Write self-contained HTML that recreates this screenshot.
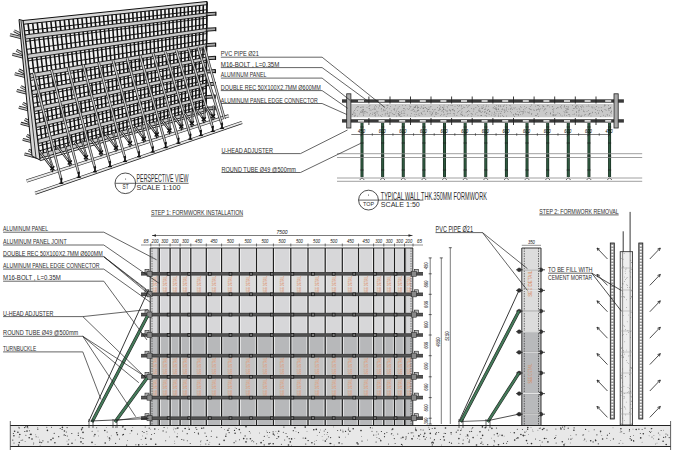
<!DOCTYPE html>
<html><head><meta charset="utf-8"><style>
html,body{margin:0;padding:0;background:#fff;width:676px;height:453px;overflow:hidden}
svg{display:block}
text{font-family:"Liberation Sans",sans-serif}
</style></head><body>
<svg width="676" height="453" viewBox="0 0 676 453">
<rect width="676" height="453" fill="#fff"/>
<rect x="10.30" y="425.00" width="660.30" height="21.60" fill="#e8e8e8" stroke="none" stroke-width="0.8" />
<line x1="10.30" y1="425.50" x2="670.60" y2="425.50" stroke="#222" stroke-width="1.0" />
<line x1="10.30" y1="446.50" x2="670.60" y2="446.50" stroke="#222" stroke-width="1.0" />
<circle cx="224.4" cy="429.6" r="0.4" fill="#333"/>
<circle cx="58.7" cy="436.7" r="0.6" fill="#333"/>
<circle cx="395.1" cy="443.5" r="0.5" fill="#333"/>
<circle cx="35.7" cy="434.8" r="0.4" fill="#333"/>
<circle cx="169.6" cy="436.9" r="0.4" fill="#333"/>
<circle cx="555.9" cy="429.1" r="0.5" fill="#333"/>
<circle cx="426.6" cy="437.5" r="0.4" fill="#333"/>
<circle cx="391.3" cy="434.1" r="0.5" fill="#333"/>
<circle cx="41.7" cy="442.6" r="0.6" fill="#333"/>
<circle cx="287.2" cy="436.7" r="0.6" fill="#333"/>
<circle cx="380.2" cy="439.3" r="0.4" fill="#333"/>
<circle cx="394.3" cy="438.6" r="0.6" fill="#333"/>
<circle cx="75.2" cy="439.9" r="0.4" fill="#333"/>
<circle cx="418.9" cy="435.9" r="0.8" fill="#333"/>
<circle cx="523.2" cy="435.4" r="0.8" fill="#333"/>
<circle cx="249.3" cy="431.4" r="0.5" fill="#333"/>
<circle cx="471.6" cy="431.3" r="0.6" fill="#333"/>
<circle cx="357.1" cy="442.9" r="0.8" fill="#333"/>
<circle cx="200.8" cy="444.8" r="0.4" fill="#333"/>
<circle cx="348.4" cy="429.8" r="0.6" fill="#333"/>
<circle cx="111.2" cy="435.8" r="0.4" fill="#333"/>
<circle cx="645.0" cy="428.2" r="0.6" fill="#333"/>
<circle cx="235.1" cy="433.2" r="0.8" fill="#333"/>
<circle cx="393.2" cy="435.2" r="0.4" fill="#333"/>
<circle cx="633.5" cy="435.5" r="0.4" fill="#333"/>
<circle cx="51.0" cy="439.7" r="0.8" fill="#333"/>
<circle cx="198.5" cy="433.9" r="0.6" fill="#333"/>
<circle cx="25.9" cy="435.3" r="0.5" fill="#333"/>
<circle cx="413.6" cy="435.9" r="0.5" fill="#333"/>
<circle cx="517.3" cy="429.2" r="0.5" fill="#333"/>
<circle cx="273.2" cy="443.7" r="0.8" fill="#333"/>
<circle cx="64.1" cy="435.1" r="0.6" fill="#333"/>
<circle cx="593.1" cy="441.9" r="0.6" fill="#333"/>
<circle cx="476.5" cy="445.0" r="0.8" fill="#333"/>
<circle cx="642.1" cy="429.6" r="0.5" fill="#333"/>
<circle cx="110.7" cy="438.9" r="0.4" fill="#333"/>
<circle cx="330.6" cy="437.6" r="0.6" fill="#333"/>
<circle cx="196.8" cy="429.5" r="0.6" fill="#333"/>
<circle cx="412.9" cy="432.7" r="0.5" fill="#333"/>
<circle cx="466.0" cy="436.3" r="0.4" fill="#333"/>
<circle cx="311.9" cy="442.8" r="0.8" fill="#333"/>
<circle cx="273.3" cy="434.1" r="0.8" fill="#333"/>
<circle cx="429.0" cy="427.9" r="0.4" fill="#333"/>
<circle cx="659.9" cy="434.9" r="0.4" fill="#333"/>
<circle cx="235.1" cy="427.8" r="0.4" fill="#333"/>
<circle cx="384.5" cy="436.7" r="0.6" fill="#333"/>
<circle cx="415.5" cy="428.1" r="0.5" fill="#333"/>
<circle cx="415.7" cy="429.5" r="0.6" fill="#333"/>
<circle cx="640.7" cy="437.9" r="0.8" fill="#333"/>
<circle cx="92.0" cy="442.4" r="0.8" fill="#333"/>
<circle cx="327.6" cy="432.5" r="0.5" fill="#333"/>
<circle cx="78.3" cy="433.1" r="0.6" fill="#333"/>
<circle cx="326.4" cy="439.5" r="0.4" fill="#333"/>
<circle cx="146.2" cy="444.3" r="0.6" fill="#333"/>
<circle cx="107.6" cy="436.8" r="0.4" fill="#333"/>
<circle cx="510.6" cy="432.3" r="0.4" fill="#333"/>
<circle cx="469.8" cy="431.6" r="0.6" fill="#333"/>
<circle cx="609.5" cy="433.3" r="0.5" fill="#333"/>
<circle cx="362.0" cy="441.1" r="0.6" fill="#333"/>
<circle cx="430.4" cy="438.1" r="0.5" fill="#333"/>
<circle cx="542.2" cy="441.9" r="0.5" fill="#333"/>
<circle cx="142.7" cy="435.9" r="0.4" fill="#333"/>
<circle cx="663.1" cy="441.3" r="0.8" fill="#333"/>
<circle cx="181.8" cy="439.5" r="0.6" fill="#333"/>
<circle cx="305.7" cy="444.0" r="0.6" fill="#333"/>
<circle cx="640.3" cy="433.5" r="0.5" fill="#333"/>
<circle cx="78.3" cy="435.4" r="0.6" fill="#333"/>
<circle cx="145.7" cy="438.3" r="0.4" fill="#333"/>
<circle cx="327.0" cy="438.8" r="0.4" fill="#333"/>
<circle cx="561.0" cy="429.0" r="0.8" fill="#333"/>
<circle cx="526.5" cy="440.6" r="0.8" fill="#333"/>
<circle cx="596.9" cy="434.8" r="0.6" fill="#333"/>
<circle cx="68.2" cy="444.2" r="0.8" fill="#333"/>
<circle cx="316.2" cy="440.5" r="0.4" fill="#333"/>
<circle cx="488.6" cy="429.9" r="0.5" fill="#333"/>
<circle cx="29.2" cy="437.7" r="0.8" fill="#333"/>
<circle cx="542.5" cy="429.5" r="0.8" fill="#333"/>
<circle cx="444.1" cy="433.2" r="0.5" fill="#333"/>
<circle cx="25.1" cy="441.5" r="0.4" fill="#333"/>
<circle cx="358.0" cy="444.0" r="0.8" fill="#333"/>
<circle cx="661.1" cy="430.4" r="0.5" fill="#333"/>
<circle cx="29.4" cy="430.7" r="0.5" fill="#333"/>
<circle cx="514.3" cy="432.8" r="0.8" fill="#333"/>
<circle cx="560.7" cy="427.9" r="0.6" fill="#333"/>
<circle cx="602.6" cy="439.0" r="0.8" fill="#333"/>
<circle cx="556.1" cy="443.0" r="0.5" fill="#333"/>
<circle cx="361.5" cy="436.4" r="0.4" fill="#333"/>
<circle cx="586.2" cy="441.1" r="0.4" fill="#333"/>
<circle cx="522.4" cy="429.6" r="0.5" fill="#333"/>
<circle cx="323.0" cy="440.1" r="0.4" fill="#333"/>
<circle cx="225.8" cy="436.3" r="0.8" fill="#333"/>
<circle cx="527.8" cy="428.8" r="0.4" fill="#333"/>
<circle cx="174.8" cy="431.9" r="0.4" fill="#333"/>
<circle cx="345.6" cy="437.1" r="0.4" fill="#333"/>
<circle cx="303.1" cy="438.1" r="0.5" fill="#333"/>
<circle cx="467.5" cy="435.1" r="0.8" fill="#333"/>
<circle cx="345.6" cy="431.4" r="0.6" fill="#333"/>
<circle cx="619.1" cy="443.2" r="0.5" fill="#333"/>
<circle cx="564.6" cy="429.3" r="0.4" fill="#333"/>
<circle cx="269.6" cy="432.6" r="0.5" fill="#333"/>
<circle cx="293.3" cy="430.7" r="0.6" fill="#333"/>
<circle cx="527.6" cy="443.3" r="0.5" fill="#333"/>
<circle cx="630.1" cy="438.6" r="0.6" fill="#333"/>
<circle cx="105.2" cy="443.0" r="0.8" fill="#333"/>
<circle cx="155.7" cy="444.3" r="0.8" fill="#333"/>
<circle cx="594.2" cy="429.8" r="0.5" fill="#333"/>
<circle cx="117.4" cy="434.7" r="0.8" fill="#333"/>
<circle cx="234.5" cy="430.4" r="0.6" fill="#333"/>
<circle cx="71.8" cy="433.5" r="0.6" fill="#333"/>
<circle cx="376.1" cy="434.9" r="0.4" fill="#333"/>
<circle cx="264.3" cy="436.3" r="0.6" fill="#333"/>
<circle cx="348.6" cy="428.0" r="0.5" fill="#333"/>
<circle cx="651.3" cy="428.7" r="0.6" fill="#333"/>
<circle cx="190.2" cy="443.5" r="0.5" fill="#333"/>
<circle cx="189.2" cy="429.2" r="0.8" fill="#333"/>
<circle cx="570.9" cy="439.2" r="0.6" fill="#333"/>
<circle cx="278.5" cy="436.7" r="0.8" fill="#333"/>
<circle cx="472.6" cy="428.4" r="0.4" fill="#333"/>
<circle cx="537.9" cy="430.2" r="0.4" fill="#333"/>
<circle cx="188.2" cy="427.1" r="0.4" fill="#333"/>
<circle cx="539.3" cy="428.3" r="0.5" fill="#333"/>
<circle cx="54.9" cy="442.7" r="0.8" fill="#333"/>
<circle cx="18.6" cy="445.1" r="0.8" fill="#333"/>
<circle cx="621.7" cy="431.7" r="0.5" fill="#333"/>
<circle cx="39.5" cy="439.9" r="0.4" fill="#333"/>
<circle cx="649.7" cy="431.6" r="0.5" fill="#333"/>
<circle cx="144.0" cy="432.5" r="0.6" fill="#333"/>
<circle cx="361.0" cy="430.6" r="0.8" fill="#333"/>
<circle cx="340.6" cy="430.1" r="0.6" fill="#333"/>
<circle cx="540.6" cy="445.1" r="0.4" fill="#333"/>
<circle cx="21.1" cy="440.3" r="0.5" fill="#333"/>
<circle cx="349.9" cy="431.3" r="0.8" fill="#333"/>
<circle cx="81.0" cy="441.9" r="0.8" fill="#333"/>
<circle cx="443.6" cy="436.8" r="0.8" fill="#333"/>
<circle cx="650.4" cy="432.5" r="0.5" fill="#333"/>
<circle cx="658.4" cy="433.1" r="0.5" fill="#333"/>
<circle cx="277.7" cy="433.2" r="0.4" fill="#333"/>
<circle cx="562.6" cy="427.1" r="0.6" fill="#333"/>
<circle cx="294.9" cy="427.8" r="0.8" fill="#333"/>
<circle cx="584.7" cy="439.1" r="0.6" fill="#333"/>
<circle cx="405.6" cy="439.5" r="0.4" fill="#333"/>
<circle cx="313.8" cy="429.7" r="0.8" fill="#333"/>
<circle cx="13.4" cy="433.5" r="0.6" fill="#333"/>
<circle cx="652.0" cy="436.9" r="0.5" fill="#333"/>
<circle cx="33.7" cy="443.0" r="0.5" fill="#333"/>
<circle cx="246.0" cy="426.8" r="0.8" fill="#333"/>
<circle cx="66.3" cy="431.9" r="0.5" fill="#333"/>
<circle cx="174.6" cy="441.1" r="0.4" fill="#333"/>
<circle cx="185.1" cy="428.5" r="0.8" fill="#333"/>
<circle cx="397.7" cy="434.0" r="0.6" fill="#333"/>
<circle cx="211.5" cy="431.1" r="0.5" fill="#333"/>
<circle cx="444.3" cy="440.0" r="0.8" fill="#333"/>
<circle cx="514.7" cy="440.1" r="0.8" fill="#333"/>
<circle cx="109.5" cy="440.1" r="0.5" fill="#333"/>
<circle cx="39.9" cy="442.2" r="0.8" fill="#333"/>
<circle cx="494.6" cy="441.7" r="0.5" fill="#333"/>
<circle cx="610.6" cy="440.7" r="0.4" fill="#333"/>
<circle cx="555.6" cy="437.5" r="0.5" fill="#333"/>
<circle cx="67.1" cy="427.6" r="0.6" fill="#333"/>
<circle cx="643.3" cy="433.7" r="0.8" fill="#333"/>
<circle cx="379.1" cy="438.4" r="0.5" fill="#333"/>
<circle cx="333.4" cy="426.9" r="0.4" fill="#333"/>
<circle cx="504.1" cy="436.1" r="0.4" fill="#333"/>
<circle cx="445.5" cy="428.0" r="0.8" fill="#333"/>
<circle cx="177.2" cy="428.2" r="0.6" fill="#333"/>
<circle cx="165.7" cy="440.7" r="0.5" fill="#333"/>
<circle cx="498.5" cy="444.8" r="0.8" fill="#333"/>
<circle cx="568.2" cy="428.2" r="0.6" fill="#333"/>
<circle cx="516.4" cy="438.2" r="0.5" fill="#333"/>
<circle cx="62.1" cy="429.5" r="0.6" fill="#333"/>
<circle cx="440.4" cy="439.5" r="0.5" fill="#333"/>
<circle cx="19.2" cy="427.9" r="0.6" fill="#333"/>
<circle cx="651.9" cy="428.6" r="0.5" fill="#333"/>
<circle cx="456.3" cy="432.2" r="0.6" fill="#333"/>
<circle cx="317.2" cy="435.4" r="0.4" fill="#333"/>
<circle cx="665.6" cy="436.9" r="0.6" fill="#333"/>
<circle cx="655.6" cy="444.0" r="0.4" fill="#333"/>
<circle cx="201.8" cy="428.2" r="0.8" fill="#333"/>
<circle cx="666.0" cy="433.9" r="0.5" fill="#333"/>
<circle cx="60.2" cy="428.5" r="0.6" fill="#333"/>
<circle cx="638.9" cy="429.2" r="0.6" fill="#333"/>
<circle cx="595.4" cy="439.7" r="0.5" fill="#333"/>
<circle cx="339.1" cy="442.9" r="0.8" fill="#333"/>
<circle cx="27.4" cy="426.9" r="0.8" fill="#333"/>
<circle cx="460.2" cy="434.3" r="0.5" fill="#333"/>
<circle cx="285.3" cy="433.7" r="0.4" fill="#333"/>
<circle cx="564.7" cy="426.8" r="0.6" fill="#333"/>
<circle cx="564.0" cy="429.0" r="0.5" fill="#333"/>
<circle cx="480.9" cy="443.4" r="0.6" fill="#333"/>
<circle cx="177.9" cy="428.0" r="0.8" fill="#333"/>
<circle cx="669.2" cy="437.6" r="0.6" fill="#333"/>
<circle cx="620.8" cy="440.7" r="0.4" fill="#333"/>
<circle cx="195.9" cy="427.7" r="0.6" fill="#333"/>
<circle cx="429.4" cy="429.5" r="0.6" fill="#333"/>
<circle cx="298.5" cy="432.6" r="0.6" fill="#333"/>
<circle cx="528.4" cy="434.7" r="0.4" fill="#333"/>
<circle cx="546.1" cy="438.4" r="0.5" fill="#333"/>
<circle cx="485.2" cy="427.7" r="0.8" fill="#333"/>
<circle cx="308.1" cy="440.6" r="0.6" fill="#333"/>
<circle cx="331.0" cy="443.6" r="0.5" fill="#333"/>
<circle cx="123.5" cy="434.4" r="0.6" fill="#333"/>
<circle cx="207.2" cy="440.4" r="0.6" fill="#333"/>
<circle cx="278.7" cy="431.2" r="0.8" fill="#333"/>
<circle cx="378.3" cy="434.1" r="0.5" fill="#333"/>
<circle cx="434.9" cy="428.2" r="0.8" fill="#333"/>
<circle cx="373.7" cy="435.1" r="0.6" fill="#333"/>
<circle cx="667.7" cy="435.1" r="0.5" fill="#333"/>
<circle cx="372.0" cy="431.3" r="0.5" fill="#333"/>
<circle cx="236.3" cy="428.5" r="0.5" fill="#333"/>
<circle cx="253.7" cy="441.7" r="0.5" fill="#333"/>
<circle cx="595.7" cy="440.6" r="0.8" fill="#333"/>
<circle cx="263.3" cy="440.5" r="0.5" fill="#333"/>
<circle cx="259.4" cy="433.0" r="0.4" fill="#333"/>
<circle cx="339.3" cy="437.4" r="0.6" fill="#333"/>
<circle cx="94.0" cy="436.1" r="0.5" fill="#333"/>
<circle cx="72.0" cy="443.3" r="0.8" fill="#333"/>
<circle cx="274.4" cy="435.0" r="0.6" fill="#333"/>
<circle cx="570.3" cy="442.9" r="0.4" fill="#333"/>
<circle cx="94.9" cy="434.6" r="0.8" fill="#333"/>
<circle cx="649.1" cy="435.8" r="0.4" fill="#333"/>
<circle cx="269.0" cy="443.9" r="0.8" fill="#333"/>
<circle cx="651.7" cy="431.4" r="0.4" fill="#333"/>
<circle cx="158.5" cy="429.6" r="0.4" fill="#333"/>
<circle cx="631.4" cy="440.1" r="0.8" fill="#333"/>
<circle cx="67.0" cy="441.1" r="0.4" fill="#333"/>
<circle cx="526.5" cy="431.1" r="0.4" fill="#333"/>
<circle cx="436.4" cy="432.4" r="0.5" fill="#333"/>
<circle cx="423.8" cy="436.5" r="0.8" fill="#333"/>
<circle cx="471.4" cy="428.9" r="0.4" fill="#333"/>
<circle cx="208.9" cy="444.2" r="0.5" fill="#333"/>
<circle cx="266.7" cy="430.9" r="0.4" fill="#333"/>
<circle cx="17.9" cy="432.3" r="0.8" fill="#333"/>
<circle cx="194.6" cy="432.6" r="0.5" fill="#333"/>
<circle cx="324.2" cy="431.1" r="0.5" fill="#333"/>
<circle cx="30.3" cy="434.4" r="0.6" fill="#333"/>
<circle cx="47.4" cy="430.4" r="0.8" fill="#333"/>
<circle cx="64.4" cy="431.0" r="0.8" fill="#333"/>
<circle cx="620.7" cy="431.0" r="0.4" fill="#333"/>
<circle cx="469.5" cy="440.0" r="0.6" fill="#333"/>
<circle cx="460.8" cy="430.4" r="0.6" fill="#333"/>
<circle cx="498.1" cy="436.1" r="0.5" fill="#333"/>
<circle cx="337.7" cy="430.5" r="0.5" fill="#333"/>
<circle cx="163.1" cy="430.9" r="0.6" fill="#333"/>
<circle cx="82.8" cy="438.3" r="0.5" fill="#333"/>
<circle cx="601.8" cy="435.7" r="0.4" fill="#333"/>
<circle cx="636.2" cy="429.5" r="0.8" fill="#333"/>
<circle cx="46.8" cy="427.2" r="0.5" fill="#333"/>
<circle cx="284.7" cy="439.9" r="0.5" fill="#333"/>
<circle cx="270.2" cy="443.3" r="0.6" fill="#333"/>
<circle cx="493.9" cy="445.2" r="0.5" fill="#333"/>
<circle cx="228.0" cy="430.2" r="0.8" fill="#333"/>
<circle cx="32.0" cy="439.0" r="0.8" fill="#333"/>
<circle cx="564.0" cy="444.9" r="0.8" fill="#333"/>
<circle cx="122.5" cy="426.9" r="0.6" fill="#333"/>
<circle cx="64.2" cy="434.5" r="0.4" fill="#333"/>
<circle cx="380.8" cy="440.8" r="0.8" fill="#333"/>
<circle cx="246.0" cy="441.9" r="0.8" fill="#333"/>
<circle cx="68.8" cy="439.8" r="0.5" fill="#333"/>
<circle cx="256.6" cy="443.7" r="0.5" fill="#333"/>
<circle cx="224.1" cy="440.4" r="0.8" fill="#333"/>
<circle cx="31.0" cy="434.4" r="0.8" fill="#333"/>
<circle cx="37.8" cy="427.4" r="0.4" fill="#333"/>
<circle cx="540.4" cy="427.9" r="0.5" fill="#333"/>
<circle cx="503.5" cy="443.3" r="0.6" fill="#333"/>
<circle cx="250.2" cy="433.0" r="0.4" fill="#333"/>
<circle cx="183.8" cy="440.0" r="0.6" fill="#333"/>
<circle cx="620.1" cy="432.3" r="0.4" fill="#333"/>
<circle cx="27.0" cy="431.1" r="0.8" fill="#333"/>
<circle cx="482.6" cy="435.4" r="0.8" fill="#333"/>
<circle cx="531.5" cy="443.6" r="0.8" fill="#333"/>
<circle cx="98.5" cy="435.9" r="0.4" fill="#333"/>
<circle cx="539.9" cy="440.4" r="0.5" fill="#333"/>
<circle cx="411.2" cy="432.8" r="0.6" fill="#333"/>
<circle cx="314.7" cy="441.2" r="0.4" fill="#333"/>
<circle cx="348.3" cy="434.0" r="0.5" fill="#333"/>
<circle cx="174.0" cy="428.0" r="0.4" fill="#333"/>
<circle cx="328.4" cy="436.8" r="0.5" fill="#333"/>
<circle cx="657.0" cy="443.1" r="0.4" fill="#333"/>
<circle cx="185.6" cy="428.3" r="0.4" fill="#333"/>
<circle cx="288.5" cy="445.0" r="0.8" fill="#333"/>
<circle cx="125.1" cy="429.2" r="0.8" fill="#333"/>
<circle cx="419.8" cy="439.2" r="0.4" fill="#333"/>
<circle cx="524.9" cy="432.2" r="0.6" fill="#333"/>
<circle cx="384.6" cy="433.7" r="0.6" fill="#333"/>
<circle cx="142.3" cy="431.4" r="0.5" fill="#333"/>
<circle cx="166.2" cy="432.0" r="0.5" fill="#333"/>
<circle cx="226.1" cy="434.1" r="0.5" fill="#333"/>
<circle cx="345.3" cy="431.1" r="0.4" fill="#333"/>
<circle cx="441.5" cy="445.0" r="0.4" fill="#333"/>
<circle cx="14.0" cy="443.0" r="0.5" fill="#333"/>
<circle cx="564.9" cy="443.6" r="0.4" fill="#333"/>
<circle cx="588.9" cy="431.1" r="0.4" fill="#333"/>
<circle cx="135.9" cy="444.7" r="0.5" fill="#333"/>
<circle cx="624.0" cy="433.6" r="0.5" fill="#333"/>
<circle cx="307.0" cy="431.6" r="0.4" fill="#333"/>
<circle cx="80.7" cy="437.8" r="0.6" fill="#333"/>
<circle cx="154.4" cy="433.6" r="0.5" fill="#333"/>
<circle cx="40.1" cy="445.2" r="0.4" fill="#333"/>
<circle cx="406.0" cy="438.8" r="0.5" fill="#333"/>
<circle cx="547.9" cy="441.9" r="0.8" fill="#333"/>
<circle cx="458.0" cy="430.2" r="0.6" fill="#333"/>
<circle cx="62.4" cy="427.4" r="0.8" fill="#333"/>
<circle cx="372.2" cy="428.0" r="0.4" fill="#333"/>
<circle cx="535.5" cy="439.0" r="0.5" fill="#333"/>
<circle cx="432.2" cy="428.5" r="0.5" fill="#333"/>
<circle cx="273.1" cy="431.8" r="0.6" fill="#333"/>
<circle cx="451.1" cy="434.5" r="0.4" fill="#333"/>
<circle cx="216.8" cy="437.2" r="0.6" fill="#333"/>
<circle cx="283.9" cy="427.1" r="0.6" fill="#333"/>
<circle cx="435.7" cy="434.0" r="0.8" fill="#333"/>
<circle cx="145.2" cy="426.9" r="0.5" fill="#333"/>
<circle cx="290.3" cy="441.9" r="0.8" fill="#333"/>
<circle cx="391.8" cy="433.5" r="0.5" fill="#333"/>
<circle cx="96.7" cy="427.8" r="0.5" fill="#333"/>
<circle cx="433.2" cy="443.5" r="0.4" fill="#333"/>
<circle cx="388.5" cy="443.9" r="0.5" fill="#333"/>
<circle cx="107.1" cy="432.0" r="0.5" fill="#333"/>
<circle cx="620.9" cy="428.8" r="0.8" fill="#333"/>
<circle cx="507.6" cy="441.4" r="0.5" fill="#333"/>
<circle cx="209.8" cy="442.2" r="0.4" fill="#333"/>
<circle cx="653.9" cy="435.7" r="0.4" fill="#333"/>
<circle cx="411.4" cy="438.5" r="0.4" fill="#333"/>
<circle cx="606.9" cy="438.2" r="0.5" fill="#333"/>
<circle cx="433.0" cy="442.6" r="0.8" fill="#333"/>
<circle cx="416.1" cy="430.4" r="0.8" fill="#333"/>
<circle cx="131.6" cy="430.8" r="0.8" fill="#333"/>
<circle cx="629.5" cy="429.7" r="0.6" fill="#333"/>
<circle cx="92.1" cy="431.3" r="0.5" fill="#333"/>
<circle cx="38.1" cy="437.1" r="0.4" fill="#333"/>
<circle cx="451.1" cy="432.8" r="0.8" fill="#333"/>
<circle cx="406.1" cy="436.9" r="0.6" fill="#333"/>
<circle cx="438.7" cy="432.5" r="0.5" fill="#333"/>
<circle cx="291.6" cy="438.9" r="0.8" fill="#333"/>
<circle cx="342.9" cy="430.1" r="0.4" fill="#333"/>
<circle cx="418.8" cy="435.8" r="0.5" fill="#333"/>
<circle cx="305.5" cy="438.2" r="0.8" fill="#333"/>
<circle cx="562.3" cy="441.7" r="0.8" fill="#333"/>
<circle cx="81.6" cy="429.2" r="0.8" fill="#333"/>
<circle cx="251.8" cy="441.6" r="0.4" fill="#333"/>
<circle cx="37.8" cy="429.2" r="0.6" fill="#333"/>
<circle cx="523.5" cy="436.2" r="0.4" fill="#333"/>
<circle cx="506.6" cy="443.3" r="0.5" fill="#333"/>
<circle cx="28.0" cy="428.0" r="0.4" fill="#333"/>
<circle cx="138.7" cy="444.9" r="0.8" fill="#333"/>
<circle cx="200.7" cy="441.7" r="0.5" fill="#333"/>
<circle cx="463.2" cy="440.1" r="0.5" fill="#333"/>
<circle cx="54.2" cy="433.3" r="0.6" fill="#333"/>
<circle cx="115.6" cy="443.3" r="0.6" fill="#333"/>
<circle cx="607.4" cy="435.2" r="0.6" fill="#333"/>
<circle cx="342.0" cy="443.7" r="0.5" fill="#333"/>
<circle cx="401.1" cy="438.1" r="0.5" fill="#333"/>
<circle cx="221.3" cy="427.5" r="0.5" fill="#333"/>
<circle cx="276.9" cy="438.5" r="0.6" fill="#333"/>
<circle cx="458.9" cy="443.3" r="0.5" fill="#333"/>
<circle cx="533.0" cy="431.7" r="0.4" fill="#333"/>
<circle cx="430.3" cy="433.4" r="0.8" fill="#333"/>
<circle cx="376.9" cy="437.5" r="0.4" fill="#333"/>
<circle cx="177.1" cy="436.7" r="0.8" fill="#333"/>
<circle cx="497.3" cy="433.6" r="0.8" fill="#333"/>
<circle cx="663.7" cy="437.4" r="0.6" fill="#333"/>
<circle cx="229.0" cy="428.3" r="0.5" fill="#333"/>
<circle cx="127.5" cy="440.5" r="0.4" fill="#333"/>
<circle cx="206.3" cy="436.3" r="0.6" fill="#333"/>
<circle cx="432.3" cy="444.9" r="0.6" fill="#333"/>
<circle cx="494.1" cy="440.5" r="0.5" fill="#333"/>
<circle cx="109.4" cy="438.1" r="0.8" fill="#333"/>
<circle cx="286.3" cy="433.5" r="0.4" fill="#333"/>
<circle cx="98.0" cy="431.0" r="0.4" fill="#333"/>
<circle cx="25.7" cy="426.8" r="0.6" fill="#333"/>
<circle cx="211.2" cy="436.4" r="0.5" fill="#333"/>
<circle cx="283.3" cy="432.3" r="0.5" fill="#333"/>
<circle cx="145.6" cy="438.3" r="0.8" fill="#333"/>
<circle cx="115.5" cy="427.1" r="0.5" fill="#333"/>
<circle cx="477.2" cy="435.1" r="0.4" fill="#333"/>
<circle cx="431.6" cy="442.8" r="0.6" fill="#333"/>
<circle cx="275.9" cy="431.7" r="0.4" fill="#333"/>
<circle cx="48.0" cy="441.9" r="0.6" fill="#333"/>
<circle cx="402.9" cy="437.4" r="0.8" fill="#333"/>
<circle cx="174.8" cy="443.4" r="0.4" fill="#333"/>
<circle cx="51.5" cy="427.3" r="0.5" fill="#333"/>
<circle cx="167.6" cy="427.9" r="0.4" fill="#333"/>
<circle cx="19.1" cy="436.9" r="0.5" fill="#333"/>
<circle cx="104.8" cy="430.5" r="0.8" fill="#333"/>
<circle cx="547.0" cy="430.0" r="0.6" fill="#333"/>
<circle cx="53.0" cy="438.3" r="0.8" fill="#333"/>
<circle cx="482.4" cy="426.9" r="0.8" fill="#333"/>
<circle cx="502.1" cy="435.4" r="0.8" fill="#333"/>
<circle cx="126.6" cy="445.1" r="0.6" fill="#333"/>
<circle cx="164.1" cy="427.5" r="0.6" fill="#333"/>
<circle cx="598.3" cy="443.8" r="0.6" fill="#333"/>
<circle cx="480.0" cy="431.7" r="0.8" fill="#333"/>
<circle cx="462.9" cy="443.7" r="0.6" fill="#333"/>
<circle cx="205.8" cy="443.9" r="0.5" fill="#333"/>
<circle cx="67.3" cy="436.1" r="0.5" fill="#333"/>
<circle cx="182.6" cy="431.1" r="0.5" fill="#333"/>
<circle cx="633.6" cy="440.5" r="0.6" fill="#333"/>
<circle cx="137.5" cy="434.0" r="0.5" fill="#333"/>
<circle cx="261.1" cy="442.5" r="0.8" fill="#333"/>
<circle cx="322.1" cy="436.6" r="0.4" fill="#333"/>
<circle cx="576.1" cy="434.8" r="0.5" fill="#333"/>
<circle cx="386.9" cy="432.5" r="0.5" fill="#333"/>
<circle cx="269.0" cy="437.6" r="0.5" fill="#333"/>
<circle cx="106.3" cy="427.3" r="0.4" fill="#333"/>
<circle cx="420.9" cy="429.8" r="0.5" fill="#333"/>
<circle cx="472.8" cy="427.4" r="0.5" fill="#333"/>
<circle cx="467.4" cy="438.5" r="0.4" fill="#333"/>
<circle cx="496.5" cy="428.0" r="0.6" fill="#333"/>
<circle cx="142.3" cy="444.4" r="0.4" fill="#333"/>
<circle cx="590.7" cy="440.7" r="0.8" fill="#333"/>
<circle cx="81.6" cy="430.6" r="0.4" fill="#333"/>
<circle cx="33.3" cy="444.3" r="0.4" fill="#333"/>
<circle cx="554.7" cy="438.4" r="0.6" fill="#333"/>
<circle cx="325.4" cy="429.2" r="0.5" fill="#333"/>
<circle cx="205.0" cy="433.0" r="0.6" fill="#333"/>
<circle cx="24.8" cy="431.5" r="0.6" fill="#333"/>
<circle cx="42.9" cy="440.8" r="0.6" fill="#333"/>
<circle cx="517.9" cy="437.9" r="0.8" fill="#333"/>
<circle cx="572.1" cy="438.2" r="0.4" fill="#333"/>
<circle cx="531.0" cy="427.4" r="0.4" fill="#333"/>
<circle cx="239.5" cy="439.8" r="0.5" fill="#333"/>
<circle cx="481.8" cy="442.0" r="0.6" fill="#333"/>
<circle cx="123.3" cy="426.8" r="0.5" fill="#333"/>
<circle cx="201.0" cy="440.6" r="0.4" fill="#333"/>
<circle cx="13.9" cy="435.8" r="0.8" fill="#333"/>
<circle cx="469.1" cy="442.0" r="0.8" fill="#333"/>
<circle cx="401.5" cy="444.4" r="0.6" fill="#333"/>
<circle cx="391.9" cy="429.7" r="0.5" fill="#333"/>
<circle cx="629.3" cy="431.1" r="0.5" fill="#333"/>
<circle cx="83.4" cy="438.5" r="0.4" fill="#333"/>
<circle cx="334.1" cy="445.0" r="0.4" fill="#333"/>
<circle cx="424.8" cy="433.3" r="0.8" fill="#333"/>
<circle cx="622.9" cy="443.2" r="0.4" fill="#333"/>
<circle cx="289.2" cy="438.7" r="0.6" fill="#333"/>
<circle cx="146.8" cy="431.6" r="0.5" fill="#333"/>
<circle cx="261.0" cy="443.1" r="0.5" fill="#333"/>
<circle cx="633.0" cy="429.1" r="0.4" fill="#333"/>
<circle cx="240.7" cy="432.8" r="0.5" fill="#333"/>
<circle cx="583.0" cy="435.1" r="0.6" fill="#333"/>
<circle cx="122.7" cy="434.9" r="0.6" fill="#333"/>
<circle cx="392.7" cy="429.1" r="0.8" fill="#333"/>
<circle cx="434.5" cy="439.6" r="0.5" fill="#333"/>
<circle cx="187.3" cy="440.7" r="0.5" fill="#333"/>
<circle cx="487.7" cy="444.7" r="0.6" fill="#333"/>
<circle cx="408.3" cy="433.2" r="0.5" fill="#333"/>
<circle cx="227.2" cy="430.3" r="0.4" fill="#333"/>
<circle cx="119.5" cy="438.9" r="0.5" fill="#333"/>
<circle cx="264.2" cy="444.9" r="0.6" fill="#333"/>
<circle cx="494.2" cy="434.8" r="0.5" fill="#333"/>
<circle cx="83.0" cy="443.6" r="0.6" fill="#333"/>
<circle cx="147.0" cy="433.9" r="0.4" fill="#333"/>
<circle cx="19.3" cy="442.5" r="0.8" fill="#333"/>
<circle cx="468.0" cy="436.0" r="0.6" fill="#333"/>
<circle cx="316.3" cy="429.4" r="0.8" fill="#333"/>
<circle cx="14.6" cy="431.3" r="0.8" fill="#333"/>
<circle cx="473.1" cy="437.6" r="0.8" fill="#333"/>
<circle cx="568.5" cy="439.1" r="0.5" fill="#333"/>
<circle cx="458.9" cy="438.6" r="0.8" fill="#333"/>
<circle cx="296.0" cy="431.6" r="0.4" fill="#333"/>
<circle cx="600.6" cy="431.3" r="0.8" fill="#333"/>
<circle cx="481.0" cy="438.4" r="0.6" fill="#333"/>
<circle cx="570.8" cy="435.7" r="0.4" fill="#333"/>
<circle cx="420.6" cy="434.3" r="0.5" fill="#333"/>
<circle cx="600.5" cy="432.8" r="0.4" fill="#333"/>
<circle cx="267.2" cy="435.8" r="0.4" fill="#333"/>
<circle cx="36.1" cy="436.8" r="0.5" fill="#333"/>
<circle cx="483.0" cy="444.3" r="0.5" fill="#333"/>
<circle cx="353.2" cy="428.7" r="0.8" fill="#333"/>
<circle cx="367.5" cy="440.0" r="0.4" fill="#333"/>
<circle cx="432.3" cy="442.1" r="0.6" fill="#333"/>
<circle cx="281.4" cy="444.2" r="0.5" fill="#333"/>
<circle cx="663.6" cy="430.2" r="0.4" fill="#333"/>
<circle cx="491.5" cy="438.1" r="0.4" fill="#333"/>
<circle cx="177.4" cy="433.8" r="0.4" fill="#333"/>
<circle cx="19.8" cy="434.5" r="0.8" fill="#333"/>
<circle cx="425.2" cy="439.2" r="0.6" fill="#333"/>
<circle cx="83.0" cy="432.4" r="0.8" fill="#333"/>
<circle cx="630.4" cy="436.5" r="0.5" fill="#333"/>
<circle cx="666.2" cy="444.5" r="0.8" fill="#333"/>
<circle cx="150.7" cy="429.2" r="0.4" fill="#333"/>
<circle cx="544.5" cy="438.5" r="0.8" fill="#333"/>
<circle cx="434.2" cy="440.1" r="0.5" fill="#333"/>
<circle cx="243.7" cy="438.6" r="0.8" fill="#333"/>
<circle cx="319.5" cy="432.2" r="0.5" fill="#333"/>
<circle cx="524.9" cy="435.4" r="0.5" fill="#333"/>
<circle cx="187.2" cy="433.7" r="0.6" fill="#333"/>
<circle cx="658.7" cy="439.3" r="0.8" fill="#333"/>
<circle cx="12.8" cy="440.1" r="0.6" fill="#333"/>
<circle cx="246.9" cy="438.8" r="0.6" fill="#333"/>
<circle cx="327.0" cy="434.7" r="0.4" fill="#333"/>
<circle cx="445.5" cy="433.5" r="0.6" fill="#333"/>
<circle cx="574.1" cy="427.8" r="0.6" fill="#333"/>
<circle cx="527.7" cy="429.4" r="0.6" fill="#333"/>
<circle cx="428.3" cy="427.1" r="0.4" fill="#333"/>
<circle cx="149.2" cy="428.1" r="0.6" fill="#333"/>
<circle cx="175.8" cy="428.7" r="0.5" fill="#333"/>
<circle cx="573.9" cy="430.2" r="0.8" fill="#333"/>
<circle cx="239.3" cy="429.6" r="0.8" fill="#333"/>
<circle cx="532.7" cy="429.9" r="0.4" fill="#333"/>
<circle cx="451.5" cy="443.2" r="0.6" fill="#333"/>
<circle cx="141.1" cy="439.5" r="0.4" fill="#333"/>
<circle cx="499.9" cy="434.9" r="0.4" fill="#333"/>
<circle cx="376.8" cy="431.7" r="0.5" fill="#333"/>
<circle cx="556.0" cy="435.5" r="0.4" fill="#333"/>
<circle cx="330.2" cy="443.5" r="0.8" fill="#333"/>
<circle cx="173.5" cy="429.8" r="0.4" fill="#333"/>
<circle cx="116.7" cy="432.7" r="0.8" fill="#333"/>
<circle cx="449.4" cy="442.3" r="0.6" fill="#333"/>
<circle cx="291.6" cy="445.2" r="0.4" fill="#333"/>
<circle cx="130.0" cy="433.4" r="0.4" fill="#333"/>
<circle cx="24.5" cy="427.6" r="0.6" fill="#333"/>
<circle cx="543.9" cy="428.5" r="0.8" fill="#333"/>
<circle cx="330.4" cy="443.3" r="0.4" fill="#333"/>
<circle cx="151.6" cy="434.4" r="0.5" fill="#333"/>
<circle cx="234.1" cy="442.7" r="0.6" fill="#333"/>
<circle cx="235.9" cy="441.1" r="0.5" fill="#333"/>
<circle cx="198.3" cy="433.1" r="0.6" fill="#333"/>
<circle cx="376.1" cy="442.0" r="0.6" fill="#333"/>
<circle cx="245.1" cy="435.9" r="0.6" fill="#333"/>
<circle cx="343.0" cy="431.8" r="0.6" fill="#333"/>
<circle cx="653.5" cy="438.8" r="0.4" fill="#333"/>
<circle cx="229.1" cy="432.6" r="0.6" fill="#333"/>
<circle cx="95.1" cy="444.7" r="0.4" fill="#333"/>
<circle cx="527.8" cy="427.5" r="0.8" fill="#333"/>
<circle cx="370.4" cy="427.7" r="0.6" fill="#333"/>
<circle cx="82.5" cy="427.7" r="0.8" fill="#333"/>
<circle cx="412.1" cy="438.9" r="0.8" fill="#333"/>
<circle cx="417.4" cy="438.3" r="0.4" fill="#333"/>
<circle cx="151.0" cy="439.1" r="0.8" fill="#333"/>
<circle cx="423.1" cy="430.0" r="0.5" fill="#333"/>
<circle cx="583.8" cy="434.6" r="0.4" fill="#333"/>
<circle cx="613.4" cy="438.9" r="0.6" fill="#333"/>
<circle cx="585.6" cy="429.4" r="0.6" fill="#333"/>
<circle cx="381.4" cy="431.5" r="0.6" fill="#333"/>
<circle cx="132.8" cy="427.4" r="0.4" fill="#333"/>
<circle cx="294.8" cy="438.6" r="0.4" fill="#333"/>
<circle cx="339.0" cy="436.4" r="0.4" fill="#333"/>
<circle cx="520.9" cy="434.5" r="0.8" fill="#333"/>
<circle cx="305.2" cy="427.1" r="0.8" fill="#333"/>
<circle cx="402.4" cy="445.1" r="0.5" fill="#333"/>
<circle cx="324.3" cy="434.4" r="0.4" fill="#333"/>
<circle cx="65.6" cy="435.5" r="0.5" fill="#333"/>
<circle cx="424.1" cy="434.7" r="0.4" fill="#333"/>
<circle cx="461.6" cy="429.0" r="0.4" fill="#333"/>
<circle cx="154.8" cy="429.0" r="0.8" fill="#333"/>
<circle cx="22.7" cy="440.0" r="0.5" fill="#333"/>
<circle cx="308.1" cy="440.5" r="0.4" fill="#333"/>
<circle cx="252.1" cy="440.5" r="0.5" fill="#333"/>
<circle cx="491.9" cy="428.4" r="0.8" fill="#333"/>
<circle cx="314.5" cy="444.0" r="0.6" fill="#333"/>
<circle cx="613.0" cy="427.8" r="0.4" fill="#333"/>
<circle cx="18.5" cy="427.1" r="0.4" fill="#333"/>
<circle cx="267.3" cy="432.5" r="0.5" fill="#333"/>
<circle cx="642.1" cy="442.2" r="0.4" fill="#333"/>
<circle cx="219.4" cy="444.3" r="0.8" fill="#333"/>
<circle cx="320.6" cy="429.9" r="0.4" fill="#333"/>
<circle cx="250.4" cy="438.7" r="0.8" fill="#333"/>
<circle cx="325.3" cy="441.1" r="0.8" fill="#333"/>
<circle cx="633.7" cy="441.2" r="0.6" fill="#333"/>
<circle cx="203.7" cy="427.9" r="0.6" fill="#333"/>
<circle cx="584.0" cy="440.2" r="0.4" fill="#333"/>
<line x1="10.30" y1="421.00" x2="10.30" y2="450.00" stroke="#222" stroke-width="0.7" />
<line x1="670.60" y1="421.00" x2="670.60" y2="450.00" stroke="#222" stroke-width="0.7" />
<rect x="150.00" y="248.00" width="263.00" height="87.00" fill="#d7d7d9" stroke="none" stroke-width="0.8" />
<rect x="150.00" y="335.00" width="263.00" height="90.00" fill="#b7b8ba" stroke="none" stroke-width="0.8" />
<rect x="150.00" y="273.80" width="263.00" height="20.50" fill="#dcdcdc" stroke="none" stroke-width="0.8" />
<rect x="150.00" y="355.70" width="263.00" height="41.90" fill="#c4c4c4" stroke="none" stroke-width="0.8" />
<text x="157.05" y="284.50" font-size="6.0" fill="#dda282" text-anchor="middle" textLength="17.00" lengthAdjust="spacingAndGlyphs" transform="rotate(-90 157.05 284.50)" font-weight="bold">SEE DETAIL</text>
<text x="157.05" y="366.00" font-size="6.0" fill="#dda282" text-anchor="middle" textLength="17.00" lengthAdjust="spacingAndGlyphs" transform="rotate(-90 157.05 366.00)" font-weight="bold">SEE DETAIL</text>
<text x="157.05" y="387.50" font-size="6.0" fill="#dda282" text-anchor="middle" textLength="17.00" lengthAdjust="spacingAndGlyphs" transform="rotate(-90 157.05 387.50)" font-weight="bold">SEE DETAIL</text>
<text x="166.70" y="284.50" font-size="6.0" fill="#dda282" text-anchor="middle" textLength="17.00" lengthAdjust="spacingAndGlyphs" transform="rotate(-90 166.70 284.50)" font-weight="bold">SEE DETAIL</text>
<text x="166.70" y="366.00" font-size="6.0" fill="#dda282" text-anchor="middle" textLength="17.00" lengthAdjust="spacingAndGlyphs" transform="rotate(-90 166.70 366.00)" font-weight="bold">SEE DETAIL</text>
<text x="166.70" y="387.50" font-size="6.0" fill="#dda282" text-anchor="middle" textLength="17.00" lengthAdjust="spacingAndGlyphs" transform="rotate(-90 166.70 387.50)" font-weight="bold">SEE DETAIL</text>
<text x="177.10" y="284.50" font-size="6.0" fill="#dda282" text-anchor="middle" textLength="17.00" lengthAdjust="spacingAndGlyphs" transform="rotate(-90 177.10 284.50)" font-weight="bold">SEE DETAIL</text>
<text x="177.10" y="366.00" font-size="6.0" fill="#dda282" text-anchor="middle" textLength="17.00" lengthAdjust="spacingAndGlyphs" transform="rotate(-90 177.10 366.00)" font-weight="bold">SEE DETAIL</text>
<text x="177.10" y="387.50" font-size="6.0" fill="#dda282" text-anchor="middle" textLength="17.00" lengthAdjust="spacingAndGlyphs" transform="rotate(-90 177.10 387.50)" font-weight="bold">SEE DETAIL</text>
<text x="187.45" y="284.50" font-size="6.0" fill="#dda282" text-anchor="middle" textLength="17.00" lengthAdjust="spacingAndGlyphs" transform="rotate(-90 187.45 284.50)" font-weight="bold">SEE DETAIL</text>
<text x="187.45" y="366.00" font-size="6.0" fill="#dda282" text-anchor="middle" textLength="17.00" lengthAdjust="spacingAndGlyphs" transform="rotate(-90 187.45 366.00)" font-weight="bold">SEE DETAIL</text>
<text x="187.45" y="387.50" font-size="6.0" fill="#dda282" text-anchor="middle" textLength="17.00" lengthAdjust="spacingAndGlyphs" transform="rotate(-90 187.45 387.50)" font-weight="bold">SEE DETAIL</text>
<text x="200.55" y="284.50" font-size="6.0" fill="#dda282" text-anchor="middle" textLength="17.00" lengthAdjust="spacingAndGlyphs" transform="rotate(-90 200.55 284.50)" font-weight="bold">SEE DETAIL</text>
<text x="200.55" y="366.00" font-size="6.0" fill="#dda282" text-anchor="middle" textLength="17.00" lengthAdjust="spacingAndGlyphs" transform="rotate(-90 200.55 366.00)" font-weight="bold">SEE DETAIL</text>
<text x="200.55" y="387.50" font-size="6.0" fill="#dda282" text-anchor="middle" textLength="17.00" lengthAdjust="spacingAndGlyphs" transform="rotate(-90 200.55 387.50)" font-weight="bold">SEE DETAIL</text>
<text x="215.95" y="284.50" font-size="6.0" fill="#dda282" text-anchor="middle" textLength="17.00" lengthAdjust="spacingAndGlyphs" transform="rotate(-90 215.95 284.50)" font-weight="bold">SEE DETAIL</text>
<text x="215.95" y="366.00" font-size="6.0" fill="#dda282" text-anchor="middle" textLength="17.00" lengthAdjust="spacingAndGlyphs" transform="rotate(-90 215.95 366.00)" font-weight="bold">SEE DETAIL</text>
<text x="215.95" y="387.50" font-size="6.0" fill="#dda282" text-anchor="middle" textLength="17.00" lengthAdjust="spacingAndGlyphs" transform="rotate(-90 215.95 387.50)" font-weight="bold">SEE DETAIL</text>
<text x="232.45" y="284.50" font-size="6.0" fill="#dda282" text-anchor="middle" textLength="17.00" lengthAdjust="spacingAndGlyphs" transform="rotate(-90 232.45 284.50)" font-weight="bold">SEE DETAIL</text>
<text x="232.45" y="366.00" font-size="6.0" fill="#dda282" text-anchor="middle" textLength="17.00" lengthAdjust="spacingAndGlyphs" transform="rotate(-90 232.45 366.00)" font-weight="bold">SEE DETAIL</text>
<text x="232.45" y="387.50" font-size="6.0" fill="#dda282" text-anchor="middle" textLength="17.00" lengthAdjust="spacingAndGlyphs" transform="rotate(-90 232.45 387.50)" font-weight="bold">SEE DETAIL</text>
<text x="249.90" y="284.50" font-size="6.0" fill="#dda282" text-anchor="middle" textLength="17.00" lengthAdjust="spacingAndGlyphs" transform="rotate(-90 249.90 284.50)" font-weight="bold">SEE DETAIL</text>
<text x="249.90" y="366.00" font-size="6.0" fill="#dda282" text-anchor="middle" textLength="17.00" lengthAdjust="spacingAndGlyphs" transform="rotate(-90 249.90 366.00)" font-weight="bold">SEE DETAIL</text>
<text x="249.90" y="387.50" font-size="6.0" fill="#dda282" text-anchor="middle" textLength="17.00" lengthAdjust="spacingAndGlyphs" transform="rotate(-90 249.90 387.50)" font-weight="bold">SEE DETAIL</text>
<text x="266.95" y="284.50" font-size="6.0" fill="#dda282" text-anchor="middle" textLength="17.00" lengthAdjust="spacingAndGlyphs" transform="rotate(-90 266.95 284.50)" font-weight="bold">SEE DETAIL</text>
<text x="266.95" y="366.00" font-size="6.0" fill="#dda282" text-anchor="middle" textLength="17.00" lengthAdjust="spacingAndGlyphs" transform="rotate(-90 266.95 366.00)" font-weight="bold">SEE DETAIL</text>
<text x="266.95" y="387.50" font-size="6.0" fill="#dda282" text-anchor="middle" textLength="17.00" lengthAdjust="spacingAndGlyphs" transform="rotate(-90 266.95 387.50)" font-weight="bold">SEE DETAIL</text>
<text x="284.10" y="284.50" font-size="6.0" fill="#dda282" text-anchor="middle" textLength="17.00" lengthAdjust="spacingAndGlyphs" transform="rotate(-90 284.10 284.50)" font-weight="bold">SEE DETAIL</text>
<text x="284.10" y="366.00" font-size="6.0" fill="#dda282" text-anchor="middle" textLength="17.00" lengthAdjust="spacingAndGlyphs" transform="rotate(-90 284.10 366.00)" font-weight="bold">SEE DETAIL</text>
<text x="284.10" y="387.50" font-size="6.0" fill="#dda282" text-anchor="middle" textLength="17.00" lengthAdjust="spacingAndGlyphs" transform="rotate(-90 284.10 387.50)" font-weight="bold">SEE DETAIL</text>
<text x="301.40" y="284.50" font-size="6.0" fill="#dda282" text-anchor="middle" textLength="17.00" lengthAdjust="spacingAndGlyphs" transform="rotate(-90 301.40 284.50)" font-weight="bold">SEE DETAIL</text>
<text x="301.40" y="366.00" font-size="6.0" fill="#dda282" text-anchor="middle" textLength="17.00" lengthAdjust="spacingAndGlyphs" transform="rotate(-90 301.40 366.00)" font-weight="bold">SEE DETAIL</text>
<text x="301.40" y="387.50" font-size="6.0" fill="#dda282" text-anchor="middle" textLength="17.00" lengthAdjust="spacingAndGlyphs" transform="rotate(-90 301.40 387.50)" font-weight="bold">SEE DETAIL</text>
<text x="318.60" y="284.50" font-size="6.0" fill="#dda282" text-anchor="middle" textLength="17.00" lengthAdjust="spacingAndGlyphs" transform="rotate(-90 318.60 284.50)" font-weight="bold">SEE DETAIL</text>
<text x="318.60" y="366.00" font-size="6.0" fill="#dda282" text-anchor="middle" textLength="17.00" lengthAdjust="spacingAndGlyphs" transform="rotate(-90 318.60 366.00)" font-weight="bold">SEE DETAIL</text>
<text x="318.60" y="387.50" font-size="6.0" fill="#dda282" text-anchor="middle" textLength="17.00" lengthAdjust="spacingAndGlyphs" transform="rotate(-90 318.60 387.50)" font-weight="bold">SEE DETAIL</text>
<text x="335.75" y="284.50" font-size="6.0" fill="#dda282" text-anchor="middle" textLength="17.00" lengthAdjust="spacingAndGlyphs" transform="rotate(-90 335.75 284.50)" font-weight="bold">SEE DETAIL</text>
<text x="335.75" y="366.00" font-size="6.0" fill="#dda282" text-anchor="middle" textLength="17.00" lengthAdjust="spacingAndGlyphs" transform="rotate(-90 335.75 366.00)" font-weight="bold">SEE DETAIL</text>
<text x="335.75" y="387.50" font-size="6.0" fill="#dda282" text-anchor="middle" textLength="17.00" lengthAdjust="spacingAndGlyphs" transform="rotate(-90 335.75 387.50)" font-weight="bold">SEE DETAIL</text>
<text x="352.40" y="284.50" font-size="6.0" fill="#dda282" text-anchor="middle" textLength="17.00" lengthAdjust="spacingAndGlyphs" transform="rotate(-90 352.40 284.50)" font-weight="bold">SEE DETAIL</text>
<text x="352.40" y="366.00" font-size="6.0" fill="#dda282" text-anchor="middle" textLength="17.00" lengthAdjust="spacingAndGlyphs" transform="rotate(-90 352.40 366.00)" font-weight="bold">SEE DETAIL</text>
<text x="352.40" y="387.50" font-size="6.0" fill="#dda282" text-anchor="middle" textLength="17.00" lengthAdjust="spacingAndGlyphs" transform="rotate(-90 352.40 387.50)" font-weight="bold">SEE DETAIL</text>
<text x="368.05" y="284.50" font-size="6.0" fill="#dda282" text-anchor="middle" textLength="17.00" lengthAdjust="spacingAndGlyphs" transform="rotate(-90 368.05 284.50)" font-weight="bold">SEE DETAIL</text>
<text x="368.05" y="366.00" font-size="6.0" fill="#dda282" text-anchor="middle" textLength="17.00" lengthAdjust="spacingAndGlyphs" transform="rotate(-90 368.05 366.00)" font-weight="bold">SEE DETAIL</text>
<text x="368.05" y="387.50" font-size="6.0" fill="#dda282" text-anchor="middle" textLength="17.00" lengthAdjust="spacingAndGlyphs" transform="rotate(-90 368.05 387.50)" font-weight="bold">SEE DETAIL</text>
<text x="380.70" y="284.50" font-size="6.0" fill="#dda282" text-anchor="middle" textLength="17.00" lengthAdjust="spacingAndGlyphs" transform="rotate(-90 380.70 284.50)" font-weight="bold">SEE DETAIL</text>
<text x="380.70" y="366.00" font-size="6.0" fill="#dda282" text-anchor="middle" textLength="17.00" lengthAdjust="spacingAndGlyphs" transform="rotate(-90 380.70 366.00)" font-weight="bold">SEE DETAIL</text>
<text x="380.70" y="387.50" font-size="6.0" fill="#dda282" text-anchor="middle" textLength="17.00" lengthAdjust="spacingAndGlyphs" transform="rotate(-90 380.70 387.50)" font-weight="bold">SEE DETAIL</text>
<text x="391.15" y="284.50" font-size="6.0" fill="#dda282" text-anchor="middle" textLength="17.00" lengthAdjust="spacingAndGlyphs" transform="rotate(-90 391.15 284.50)" font-weight="bold">SEE DETAIL</text>
<text x="391.15" y="366.00" font-size="6.0" fill="#dda282" text-anchor="middle" textLength="17.00" lengthAdjust="spacingAndGlyphs" transform="rotate(-90 391.15 366.00)" font-weight="bold">SEE DETAIL</text>
<text x="391.15" y="387.50" font-size="6.0" fill="#dda282" text-anchor="middle" textLength="17.00" lengthAdjust="spacingAndGlyphs" transform="rotate(-90 391.15 387.50)" font-weight="bold">SEE DETAIL</text>
<text x="401.50" y="284.50" font-size="6.0" fill="#dda282" text-anchor="middle" textLength="17.00" lengthAdjust="spacingAndGlyphs" transform="rotate(-90 401.50 284.50)" font-weight="bold">SEE DETAIL</text>
<text x="401.50" y="366.00" font-size="6.0" fill="#dda282" text-anchor="middle" textLength="17.00" lengthAdjust="spacingAndGlyphs" transform="rotate(-90 401.50 366.00)" font-weight="bold">SEE DETAIL</text>
<text x="401.50" y="387.50" font-size="6.0" fill="#dda282" text-anchor="middle" textLength="17.00" lengthAdjust="spacingAndGlyphs" transform="rotate(-90 401.50 387.50)" font-weight="bold">SEE DETAIL</text>
<text x="410.75" y="284.50" font-size="6.0" fill="#dda282" text-anchor="middle" textLength="17.00" lengthAdjust="spacingAndGlyphs" transform="rotate(-90 410.75 284.50)" font-weight="bold">SEE DETAIL</text>
<text x="410.75" y="366.00" font-size="6.0" fill="#dda282" text-anchor="middle" textLength="17.00" lengthAdjust="spacingAndGlyphs" transform="rotate(-90 410.75 366.00)" font-weight="bold">SEE DETAIL</text>
<text x="410.75" y="387.50" font-size="6.0" fill="#dda282" text-anchor="middle" textLength="17.00" lengthAdjust="spacingAndGlyphs" transform="rotate(-90 410.75 387.50)" font-weight="bold">SEE DETAIL</text>
<line x1="158.20" y1="248.00" x2="158.20" y2="425.00" stroke="#f2f2f2" stroke-width="0.8" />
<line x1="160.40" y1="248.00" x2="160.40" y2="425.00" stroke="#f2f2f2" stroke-width="0.8" />
<line x1="159.30" y1="248.00" x2="159.30" y2="425.00" stroke="#1e1e1e" stroke-width="1.2" />
<line x1="169.00" y1="248.00" x2="169.00" y2="425.00" stroke="#f2f2f2" stroke-width="0.8" />
<line x1="171.20" y1="248.00" x2="171.20" y2="425.00" stroke="#f2f2f2" stroke-width="0.8" />
<line x1="170.10" y1="248.00" x2="170.10" y2="425.00" stroke="#1e1e1e" stroke-width="1.2" />
<line x1="179.00" y1="248.00" x2="179.00" y2="425.00" stroke="#f2f2f2" stroke-width="0.8" />
<line x1="181.20" y1="248.00" x2="181.20" y2="425.00" stroke="#f2f2f2" stroke-width="0.8" />
<line x1="180.10" y1="248.00" x2="180.10" y2="425.00" stroke="#1e1e1e" stroke-width="1.2" />
<line x1="189.70" y1="248.00" x2="189.70" y2="425.00" stroke="#f2f2f2" stroke-width="0.8" />
<line x1="191.90" y1="248.00" x2="191.90" y2="425.00" stroke="#f2f2f2" stroke-width="0.8" />
<line x1="190.80" y1="248.00" x2="190.80" y2="425.00" stroke="#1e1e1e" stroke-width="1.2" />
<line x1="205.20" y1="248.00" x2="205.20" y2="425.00" stroke="#f2f2f2" stroke-width="0.8" />
<line x1="207.40" y1="248.00" x2="207.40" y2="425.00" stroke="#f2f2f2" stroke-width="0.8" />
<line x1="206.30" y1="248.00" x2="206.30" y2="425.00" stroke="#1e1e1e" stroke-width="1.2" />
<line x1="220.50" y1="248.00" x2="220.50" y2="425.00" stroke="#f2f2f2" stroke-width="0.8" />
<line x1="222.70" y1="248.00" x2="222.70" y2="425.00" stroke="#f2f2f2" stroke-width="0.8" />
<line x1="221.60" y1="248.00" x2="221.60" y2="425.00" stroke="#1e1e1e" stroke-width="1.2" />
<line x1="238.20" y1="248.00" x2="238.20" y2="425.00" stroke="#f2f2f2" stroke-width="0.8" />
<line x1="240.40" y1="248.00" x2="240.40" y2="425.00" stroke="#f2f2f2" stroke-width="0.8" />
<line x1="239.30" y1="248.00" x2="239.30" y2="425.00" stroke="#1e1e1e" stroke-width="1.2" />
<line x1="255.40" y1="248.00" x2="255.40" y2="425.00" stroke="#f2f2f2" stroke-width="0.8" />
<line x1="257.60" y1="248.00" x2="257.60" y2="425.00" stroke="#f2f2f2" stroke-width="0.8" />
<line x1="256.50" y1="248.00" x2="256.50" y2="425.00" stroke="#1e1e1e" stroke-width="1.2" />
<line x1="272.30" y1="248.00" x2="272.30" y2="425.00" stroke="#f2f2f2" stroke-width="0.8" />
<line x1="274.50" y1="248.00" x2="274.50" y2="425.00" stroke="#f2f2f2" stroke-width="0.8" />
<line x1="273.40" y1="248.00" x2="273.40" y2="425.00" stroke="#1e1e1e" stroke-width="1.2" />
<line x1="289.70" y1="248.00" x2="289.70" y2="425.00" stroke="#f2f2f2" stroke-width="0.8" />
<line x1="291.90" y1="248.00" x2="291.90" y2="425.00" stroke="#f2f2f2" stroke-width="0.8" />
<line x1="290.80" y1="248.00" x2="290.80" y2="425.00" stroke="#1e1e1e" stroke-width="1.2" />
<line x1="306.90" y1="248.00" x2="306.90" y2="425.00" stroke="#f2f2f2" stroke-width="0.8" />
<line x1="309.10" y1="248.00" x2="309.10" y2="425.00" stroke="#f2f2f2" stroke-width="0.8" />
<line x1="308.00" y1="248.00" x2="308.00" y2="425.00" stroke="#1e1e1e" stroke-width="1.2" />
<line x1="324.10" y1="248.00" x2="324.10" y2="425.00" stroke="#f2f2f2" stroke-width="0.8" />
<line x1="326.30" y1="248.00" x2="326.30" y2="425.00" stroke="#f2f2f2" stroke-width="0.8" />
<line x1="325.20" y1="248.00" x2="325.20" y2="425.00" stroke="#1e1e1e" stroke-width="1.2" />
<line x1="341.20" y1="248.00" x2="341.20" y2="425.00" stroke="#f2f2f2" stroke-width="0.8" />
<line x1="343.40" y1="248.00" x2="343.40" y2="425.00" stroke="#f2f2f2" stroke-width="0.8" />
<line x1="342.30" y1="248.00" x2="342.30" y2="425.00" stroke="#1e1e1e" stroke-width="1.2" />
<line x1="357.40" y1="248.00" x2="357.40" y2="425.00" stroke="#f2f2f2" stroke-width="0.8" />
<line x1="359.60" y1="248.00" x2="359.60" y2="425.00" stroke="#f2f2f2" stroke-width="0.8" />
<line x1="358.50" y1="248.00" x2="358.50" y2="425.00" stroke="#1e1e1e" stroke-width="1.2" />
<line x1="372.50" y1="248.00" x2="372.50" y2="425.00" stroke="#f2f2f2" stroke-width="0.8" />
<line x1="374.70" y1="248.00" x2="374.70" y2="425.00" stroke="#f2f2f2" stroke-width="0.8" />
<line x1="373.60" y1="248.00" x2="373.60" y2="425.00" stroke="#1e1e1e" stroke-width="1.2" />
<line x1="382.70" y1="248.00" x2="382.70" y2="425.00" stroke="#f2f2f2" stroke-width="0.8" />
<line x1="384.90" y1="248.00" x2="384.90" y2="425.00" stroke="#f2f2f2" stroke-width="0.8" />
<line x1="383.80" y1="248.00" x2="383.80" y2="425.00" stroke="#1e1e1e" stroke-width="1.2" />
<line x1="393.40" y1="248.00" x2="393.40" y2="425.00" stroke="#f2f2f2" stroke-width="0.8" />
<line x1="395.60" y1="248.00" x2="395.60" y2="425.00" stroke="#f2f2f2" stroke-width="0.8" />
<line x1="394.50" y1="248.00" x2="394.50" y2="425.00" stroke="#1e1e1e" stroke-width="1.2" />
<line x1="403.40" y1="248.00" x2="403.40" y2="425.00" stroke="#f2f2f2" stroke-width="0.8" />
<line x1="405.60" y1="248.00" x2="405.60" y2="425.00" stroke="#f2f2f2" stroke-width="0.8" />
<line x1="404.50" y1="248.00" x2="404.50" y2="425.00" stroke="#1e1e1e" stroke-width="1.2" />
<line x1="150.20" y1="248.00" x2="150.20" y2="425.00" stroke="#222" stroke-width="0.9" />
<line x1="412.80" y1="248.00" x2="412.80" y2="425.00" stroke="#222" stroke-width="0.9" />
<line x1="152.00" y1="248.00" x2="152.00" y2="425.00" stroke="#333" stroke-width="0.6" stroke-dasharray="1.5 1"/>
<line x1="411.00" y1="248.00" x2="411.00" y2="425.00" stroke="#333" stroke-width="0.6" stroke-dasharray="1.5 1"/>
<line x1="158.00" y1="248.00" x2="158.00" y2="425.00" stroke="#333" stroke-width="0.7" />
<line x1="405.60" y1="248.00" x2="405.60" y2="425.00" stroke="#333" stroke-width="0.7" />
<line x1="150.00" y1="248.00" x2="413.00" y2="248.00" stroke="#222" stroke-width="0.9" />
<rect x="141.00" y="272.00" width="282.00" height="3.60" fill="#464646" stroke="none" stroke-width="0.8" />
<line x1="141.00" y1="273.80" x2="423.00" y2="273.80" stroke="#666" stroke-width="0.6" />
<rect x="167.20" y="272.40" width="2.80" height="2.80" fill="#777" stroke="#111" stroke-width="0.7" />
<rect x="187.83" y="272.40" width="2.80" height="2.80" fill="#777" stroke="#111" stroke-width="0.7" />
<rect x="208.46" y="272.40" width="2.80" height="2.80" fill="#777" stroke="#111" stroke-width="0.7" />
<rect x="229.09" y="272.40" width="2.80" height="2.80" fill="#777" stroke="#111" stroke-width="0.7" />
<rect x="249.72" y="272.40" width="2.80" height="2.80" fill="#777" stroke="#111" stroke-width="0.7" />
<rect x="270.35" y="272.40" width="2.80" height="2.80" fill="#777" stroke="#111" stroke-width="0.7" />
<rect x="290.98" y="272.40" width="2.80" height="2.80" fill="#777" stroke="#111" stroke-width="0.7" />
<rect x="311.61" y="272.40" width="2.80" height="2.80" fill="#777" stroke="#111" stroke-width="0.7" />
<rect x="332.24" y="272.40" width="2.80" height="2.80" fill="#777" stroke="#111" stroke-width="0.7" />
<rect x="352.87" y="272.40" width="2.80" height="2.80" fill="#777" stroke="#111" stroke-width="0.7" />
<rect x="373.50" y="272.40" width="2.80" height="2.80" fill="#777" stroke="#111" stroke-width="0.7" />
<rect x="394.13" y="272.40" width="2.80" height="2.80" fill="#777" stroke="#111" stroke-width="0.7" />
<rect x="145.00" y="269.30" width="4.00" height="3.50" fill="#bbb" stroke="#222" stroke-width="0.6" />
<rect x="414.50" y="269.30" width="4.00" height="3.50" fill="#bbb" stroke="#222" stroke-width="0.6" />
<rect x="147.00" y="271.20" width="5.00" height="5.20" fill="#888" stroke="#222" stroke-width="0.5" />
<rect x="411.50" y="271.20" width="5.00" height="5.20" fill="#888" stroke="#222" stroke-width="0.5" />
<rect x="141.00" y="292.50" width="282.00" height="3.60" fill="#464646" stroke="none" stroke-width="0.8" />
<line x1="141.00" y1="294.30" x2="423.00" y2="294.30" stroke="#666" stroke-width="0.6" />
<rect x="167.20" y="292.90" width="2.80" height="2.80" fill="#777" stroke="#111" stroke-width="0.7" />
<rect x="187.83" y="292.90" width="2.80" height="2.80" fill="#777" stroke="#111" stroke-width="0.7" />
<rect x="208.46" y="292.90" width="2.80" height="2.80" fill="#777" stroke="#111" stroke-width="0.7" />
<rect x="229.09" y="292.90" width="2.80" height="2.80" fill="#777" stroke="#111" stroke-width="0.7" />
<rect x="249.72" y="292.90" width="2.80" height="2.80" fill="#777" stroke="#111" stroke-width="0.7" />
<rect x="270.35" y="292.90" width="2.80" height="2.80" fill="#777" stroke="#111" stroke-width="0.7" />
<rect x="290.98" y="292.90" width="2.80" height="2.80" fill="#777" stroke="#111" stroke-width="0.7" />
<rect x="311.61" y="292.90" width="2.80" height="2.80" fill="#777" stroke="#111" stroke-width="0.7" />
<rect x="332.24" y="292.90" width="2.80" height="2.80" fill="#777" stroke="#111" stroke-width="0.7" />
<rect x="352.87" y="292.90" width="2.80" height="2.80" fill="#777" stroke="#111" stroke-width="0.7" />
<rect x="373.50" y="292.90" width="2.80" height="2.80" fill="#777" stroke="#111" stroke-width="0.7" />
<rect x="394.13" y="292.90" width="2.80" height="2.80" fill="#777" stroke="#111" stroke-width="0.7" />
<rect x="145.00" y="289.80" width="4.00" height="3.50" fill="#bbb" stroke="#222" stroke-width="0.6" />
<rect x="414.50" y="289.80" width="4.00" height="3.50" fill="#bbb" stroke="#222" stroke-width="0.6" />
<rect x="147.00" y="291.70" width="5.00" height="5.20" fill="#888" stroke="#222" stroke-width="0.5" />
<rect x="411.50" y="291.70" width="5.00" height="5.20" fill="#888" stroke="#222" stroke-width="0.5" />
<rect x="141.00" y="312.80" width="282.00" height="3.60" fill="#464646" stroke="none" stroke-width="0.8" />
<line x1="141.00" y1="314.60" x2="423.00" y2="314.60" stroke="#666" stroke-width="0.6" />
<rect x="167.20" y="313.20" width="2.80" height="2.80" fill="#777" stroke="#111" stroke-width="0.7" />
<rect x="187.83" y="313.20" width="2.80" height="2.80" fill="#777" stroke="#111" stroke-width="0.7" />
<rect x="208.46" y="313.20" width="2.80" height="2.80" fill="#777" stroke="#111" stroke-width="0.7" />
<rect x="229.09" y="313.20" width="2.80" height="2.80" fill="#777" stroke="#111" stroke-width="0.7" />
<rect x="249.72" y="313.20" width="2.80" height="2.80" fill="#777" stroke="#111" stroke-width="0.7" />
<rect x="270.35" y="313.20" width="2.80" height="2.80" fill="#777" stroke="#111" stroke-width="0.7" />
<rect x="290.98" y="313.20" width="2.80" height="2.80" fill="#777" stroke="#111" stroke-width="0.7" />
<rect x="311.61" y="313.20" width="2.80" height="2.80" fill="#777" stroke="#111" stroke-width="0.7" />
<rect x="332.24" y="313.20" width="2.80" height="2.80" fill="#777" stroke="#111" stroke-width="0.7" />
<rect x="352.87" y="313.20" width="2.80" height="2.80" fill="#777" stroke="#111" stroke-width="0.7" />
<rect x="373.50" y="313.20" width="2.80" height="2.80" fill="#777" stroke="#111" stroke-width="0.7" />
<rect x="394.13" y="313.20" width="2.80" height="2.80" fill="#777" stroke="#111" stroke-width="0.7" />
<rect x="145.00" y="310.10" width="4.00" height="3.50" fill="#bbb" stroke="#222" stroke-width="0.6" />
<rect x="414.50" y="310.10" width="4.00" height="3.50" fill="#bbb" stroke="#222" stroke-width="0.6" />
<rect x="147.00" y="312.00" width="5.00" height="5.20" fill="#888" stroke="#222" stroke-width="0.5" />
<rect x="411.50" y="312.00" width="5.00" height="5.20" fill="#888" stroke="#222" stroke-width="0.5" />
<rect x="141.00" y="333.20" width="282.00" height="3.60" fill="#464646" stroke="none" stroke-width="0.8" />
<line x1="141.00" y1="335.00" x2="423.00" y2="335.00" stroke="#666" stroke-width="0.6" />
<rect x="167.20" y="333.60" width="2.80" height="2.80" fill="#777" stroke="#111" stroke-width="0.7" />
<rect x="187.83" y="333.60" width="2.80" height="2.80" fill="#777" stroke="#111" stroke-width="0.7" />
<rect x="208.46" y="333.60" width="2.80" height="2.80" fill="#777" stroke="#111" stroke-width="0.7" />
<rect x="229.09" y="333.60" width="2.80" height="2.80" fill="#777" stroke="#111" stroke-width="0.7" />
<rect x="249.72" y="333.60" width="2.80" height="2.80" fill="#777" stroke="#111" stroke-width="0.7" />
<rect x="270.35" y="333.60" width="2.80" height="2.80" fill="#777" stroke="#111" stroke-width="0.7" />
<rect x="290.98" y="333.60" width="2.80" height="2.80" fill="#777" stroke="#111" stroke-width="0.7" />
<rect x="311.61" y="333.60" width="2.80" height="2.80" fill="#777" stroke="#111" stroke-width="0.7" />
<rect x="332.24" y="333.60" width="2.80" height="2.80" fill="#777" stroke="#111" stroke-width="0.7" />
<rect x="352.87" y="333.60" width="2.80" height="2.80" fill="#777" stroke="#111" stroke-width="0.7" />
<rect x="373.50" y="333.60" width="2.80" height="2.80" fill="#777" stroke="#111" stroke-width="0.7" />
<rect x="394.13" y="333.60" width="2.80" height="2.80" fill="#777" stroke="#111" stroke-width="0.7" />
<rect x="145.00" y="330.50" width="4.00" height="3.50" fill="#bbb" stroke="#222" stroke-width="0.6" />
<rect x="414.50" y="330.50" width="4.00" height="3.50" fill="#bbb" stroke="#222" stroke-width="0.6" />
<rect x="147.00" y="332.40" width="5.00" height="5.20" fill="#888" stroke="#222" stroke-width="0.5" />
<rect x="411.50" y="332.40" width="5.00" height="5.20" fill="#888" stroke="#222" stroke-width="0.5" />
<rect x="141.00" y="353.90" width="282.00" height="3.60" fill="#464646" stroke="none" stroke-width="0.8" />
<line x1="141.00" y1="355.70" x2="423.00" y2="355.70" stroke="#666" stroke-width="0.6" />
<rect x="167.20" y="354.30" width="2.80" height="2.80" fill="#777" stroke="#111" stroke-width="0.7" />
<rect x="187.83" y="354.30" width="2.80" height="2.80" fill="#777" stroke="#111" stroke-width="0.7" />
<rect x="208.46" y="354.30" width="2.80" height="2.80" fill="#777" stroke="#111" stroke-width="0.7" />
<rect x="229.09" y="354.30" width="2.80" height="2.80" fill="#777" stroke="#111" stroke-width="0.7" />
<rect x="249.72" y="354.30" width="2.80" height="2.80" fill="#777" stroke="#111" stroke-width="0.7" />
<rect x="270.35" y="354.30" width="2.80" height="2.80" fill="#777" stroke="#111" stroke-width="0.7" />
<rect x="290.98" y="354.30" width="2.80" height="2.80" fill="#777" stroke="#111" stroke-width="0.7" />
<rect x="311.61" y="354.30" width="2.80" height="2.80" fill="#777" stroke="#111" stroke-width="0.7" />
<rect x="332.24" y="354.30" width="2.80" height="2.80" fill="#777" stroke="#111" stroke-width="0.7" />
<rect x="352.87" y="354.30" width="2.80" height="2.80" fill="#777" stroke="#111" stroke-width="0.7" />
<rect x="373.50" y="354.30" width="2.80" height="2.80" fill="#777" stroke="#111" stroke-width="0.7" />
<rect x="394.13" y="354.30" width="2.80" height="2.80" fill="#777" stroke="#111" stroke-width="0.7" />
<rect x="145.00" y="351.20" width="4.00" height="3.50" fill="#bbb" stroke="#222" stroke-width="0.6" />
<rect x="414.50" y="351.20" width="4.00" height="3.50" fill="#bbb" stroke="#222" stroke-width="0.6" />
<rect x="147.00" y="353.10" width="5.00" height="5.20" fill="#888" stroke="#222" stroke-width="0.5" />
<rect x="411.50" y="353.10" width="5.00" height="5.20" fill="#888" stroke="#222" stroke-width="0.5" />
<rect x="141.00" y="375.00" width="282.00" height="3.60" fill="#464646" stroke="none" stroke-width="0.8" />
<line x1="141.00" y1="376.80" x2="423.00" y2="376.80" stroke="#666" stroke-width="0.6" />
<rect x="167.20" y="375.40" width="2.80" height="2.80" fill="#777" stroke="#111" stroke-width="0.7" />
<rect x="187.83" y="375.40" width="2.80" height="2.80" fill="#777" stroke="#111" stroke-width="0.7" />
<rect x="208.46" y="375.40" width="2.80" height="2.80" fill="#777" stroke="#111" stroke-width="0.7" />
<rect x="229.09" y="375.40" width="2.80" height="2.80" fill="#777" stroke="#111" stroke-width="0.7" />
<rect x="249.72" y="375.40" width="2.80" height="2.80" fill="#777" stroke="#111" stroke-width="0.7" />
<rect x="270.35" y="375.40" width="2.80" height="2.80" fill="#777" stroke="#111" stroke-width="0.7" />
<rect x="290.98" y="375.40" width="2.80" height="2.80" fill="#777" stroke="#111" stroke-width="0.7" />
<rect x="311.61" y="375.40" width="2.80" height="2.80" fill="#777" stroke="#111" stroke-width="0.7" />
<rect x="332.24" y="375.40" width="2.80" height="2.80" fill="#777" stroke="#111" stroke-width="0.7" />
<rect x="352.87" y="375.40" width="2.80" height="2.80" fill="#777" stroke="#111" stroke-width="0.7" />
<rect x="373.50" y="375.40" width="2.80" height="2.80" fill="#777" stroke="#111" stroke-width="0.7" />
<rect x="394.13" y="375.40" width="2.80" height="2.80" fill="#777" stroke="#111" stroke-width="0.7" />
<rect x="145.00" y="372.30" width="4.00" height="3.50" fill="#bbb" stroke="#222" stroke-width="0.6" />
<rect x="414.50" y="372.30" width="4.00" height="3.50" fill="#bbb" stroke="#222" stroke-width="0.6" />
<rect x="147.00" y="374.20" width="5.00" height="5.20" fill="#888" stroke="#222" stroke-width="0.5" />
<rect x="411.50" y="374.20" width="5.00" height="5.20" fill="#888" stroke="#222" stroke-width="0.5" />
<rect x="141.00" y="395.80" width="282.00" height="3.60" fill="#464646" stroke="none" stroke-width="0.8" />
<line x1="141.00" y1="397.60" x2="423.00" y2="397.60" stroke="#666" stroke-width="0.6" />
<rect x="167.20" y="396.20" width="2.80" height="2.80" fill="#777" stroke="#111" stroke-width="0.7" />
<rect x="187.83" y="396.20" width="2.80" height="2.80" fill="#777" stroke="#111" stroke-width="0.7" />
<rect x="208.46" y="396.20" width="2.80" height="2.80" fill="#777" stroke="#111" stroke-width="0.7" />
<rect x="229.09" y="396.20" width="2.80" height="2.80" fill="#777" stroke="#111" stroke-width="0.7" />
<rect x="249.72" y="396.20" width="2.80" height="2.80" fill="#777" stroke="#111" stroke-width="0.7" />
<rect x="270.35" y="396.20" width="2.80" height="2.80" fill="#777" stroke="#111" stroke-width="0.7" />
<rect x="290.98" y="396.20" width="2.80" height="2.80" fill="#777" stroke="#111" stroke-width="0.7" />
<rect x="311.61" y="396.20" width="2.80" height="2.80" fill="#777" stroke="#111" stroke-width="0.7" />
<rect x="332.24" y="396.20" width="2.80" height="2.80" fill="#777" stroke="#111" stroke-width="0.7" />
<rect x="352.87" y="396.20" width="2.80" height="2.80" fill="#777" stroke="#111" stroke-width="0.7" />
<rect x="373.50" y="396.20" width="2.80" height="2.80" fill="#777" stroke="#111" stroke-width="0.7" />
<rect x="394.13" y="396.20" width="2.80" height="2.80" fill="#777" stroke="#111" stroke-width="0.7" />
<rect x="145.00" y="393.10" width="4.00" height="3.50" fill="#bbb" stroke="#222" stroke-width="0.6" />
<rect x="414.50" y="393.10" width="4.00" height="3.50" fill="#bbb" stroke="#222" stroke-width="0.6" />
<rect x="147.00" y="395.00" width="5.00" height="5.20" fill="#888" stroke="#222" stroke-width="0.5" />
<rect x="411.50" y="395.00" width="5.00" height="5.20" fill="#888" stroke="#222" stroke-width="0.5" />
<rect x="141.00" y="416.40" width="282.00" height="3.60" fill="#464646" stroke="none" stroke-width="0.8" />
<line x1="141.00" y1="418.20" x2="423.00" y2="418.20" stroke="#666" stroke-width="0.6" />
<rect x="167.20" y="416.80" width="2.80" height="2.80" fill="#777" stroke="#111" stroke-width="0.7" />
<rect x="187.83" y="416.80" width="2.80" height="2.80" fill="#777" stroke="#111" stroke-width="0.7" />
<rect x="208.46" y="416.80" width="2.80" height="2.80" fill="#777" stroke="#111" stroke-width="0.7" />
<rect x="229.09" y="416.80" width="2.80" height="2.80" fill="#777" stroke="#111" stroke-width="0.7" />
<rect x="249.72" y="416.80" width="2.80" height="2.80" fill="#777" stroke="#111" stroke-width="0.7" />
<rect x="270.35" y="416.80" width="2.80" height="2.80" fill="#777" stroke="#111" stroke-width="0.7" />
<rect x="290.98" y="416.80" width="2.80" height="2.80" fill="#777" stroke="#111" stroke-width="0.7" />
<rect x="311.61" y="416.80" width="2.80" height="2.80" fill="#777" stroke="#111" stroke-width="0.7" />
<rect x="332.24" y="416.80" width="2.80" height="2.80" fill="#777" stroke="#111" stroke-width="0.7" />
<rect x="352.87" y="416.80" width="2.80" height="2.80" fill="#777" stroke="#111" stroke-width="0.7" />
<rect x="373.50" y="416.80" width="2.80" height="2.80" fill="#777" stroke="#111" stroke-width="0.7" />
<rect x="394.13" y="416.80" width="2.80" height="2.80" fill="#777" stroke="#111" stroke-width="0.7" />
<rect x="145.00" y="413.70" width="4.00" height="3.50" fill="#bbb" stroke="#222" stroke-width="0.6" />
<rect x="414.50" y="413.70" width="4.00" height="3.50" fill="#bbb" stroke="#222" stroke-width="0.6" />
<rect x="147.00" y="415.60" width="5.00" height="5.20" fill="#888" stroke="#222" stroke-width="0.5" />
<rect x="411.50" y="415.60" width="5.00" height="5.20" fill="#888" stroke="#222" stroke-width="0.5" />
<line x1="152.00" y1="235.50" x2="412.50" y2="235.50" stroke="#222" stroke-width="0.6" />
<polygon points="152.00,235.50 156.00,234.30 156.00,236.70" fill="#222" stroke="none" stroke-width="0.8" />
<polygon points="412.50,235.50 408.50,234.30 408.50,236.70" fill="#222" stroke="none" stroke-width="0.8" />
<text x="282.00" y="233.80" font-size="5.2" fill="#111" text-anchor="middle" textLength="11.00" lengthAdjust="spacingAndGlyphs" font-style="italic">7500</text>
<line x1="141.00" y1="245.00" x2="423.00" y2="245.00" stroke="#222" stroke-width="0.5" />
<text x="146.00" y="243.40" font-size="5.0" fill="#111" text-anchor="middle" textLength="5.00" lengthAdjust="spacingAndGlyphs" font-style="italic">65</text>
<text x="419.50" y="243.40" font-size="5.0" fill="#111" text-anchor="middle" textLength="5.00" lengthAdjust="spacingAndGlyphs" font-style="italic">65</text>
<text x="155.05" y="243.40" font-size="5.0" fill="#111" text-anchor="middle" textLength="7.00" lengthAdjust="spacingAndGlyphs" font-style="italic">200</text>
<line x1="150.80" y1="243.50" x2="150.80" y2="246.50" stroke="#222" stroke-width="0.6" />
<text x="164.70" y="243.40" font-size="5.0" fill="#111" text-anchor="middle" textLength="7.00" lengthAdjust="spacingAndGlyphs" font-style="italic">300</text>
<line x1="159.30" y1="243.50" x2="159.30" y2="246.50" stroke="#222" stroke-width="0.6" />
<text x="175.10" y="243.40" font-size="5.0" fill="#111" text-anchor="middle" textLength="7.00" lengthAdjust="spacingAndGlyphs" font-style="italic">300</text>
<line x1="170.10" y1="243.50" x2="170.10" y2="246.50" stroke="#222" stroke-width="0.6" />
<text x="185.45" y="243.40" font-size="5.0" fill="#111" text-anchor="middle" textLength="7.00" lengthAdjust="spacingAndGlyphs" font-style="italic">300</text>
<line x1="180.10" y1="243.50" x2="180.10" y2="246.50" stroke="#222" stroke-width="0.6" />
<text x="198.55" y="243.40" font-size="5.0" fill="#111" text-anchor="middle" textLength="7.00" lengthAdjust="spacingAndGlyphs" font-style="italic">450</text>
<line x1="190.80" y1="243.50" x2="190.80" y2="246.50" stroke="#222" stroke-width="0.6" />
<text x="213.95" y="243.40" font-size="5.0" fill="#111" text-anchor="middle" textLength="7.00" lengthAdjust="spacingAndGlyphs" font-style="italic">450</text>
<line x1="206.30" y1="243.50" x2="206.30" y2="246.50" stroke="#222" stroke-width="0.6" />
<text x="230.45" y="243.40" font-size="5.0" fill="#111" text-anchor="middle" textLength="7.00" lengthAdjust="spacingAndGlyphs" font-style="italic">500</text>
<line x1="221.60" y1="243.50" x2="221.60" y2="246.50" stroke="#222" stroke-width="0.6" />
<text x="247.90" y="243.40" font-size="5.0" fill="#111" text-anchor="middle" textLength="7.00" lengthAdjust="spacingAndGlyphs" font-style="italic">500</text>
<line x1="239.30" y1="243.50" x2="239.30" y2="246.50" stroke="#222" stroke-width="0.6" />
<text x="264.95" y="243.40" font-size="5.0" fill="#111" text-anchor="middle" textLength="7.00" lengthAdjust="spacingAndGlyphs" font-style="italic">500</text>
<line x1="256.50" y1="243.50" x2="256.50" y2="246.50" stroke="#222" stroke-width="0.6" />
<text x="282.10" y="243.40" font-size="5.0" fill="#111" text-anchor="middle" textLength="7.00" lengthAdjust="spacingAndGlyphs" font-style="italic">500</text>
<line x1="273.40" y1="243.50" x2="273.40" y2="246.50" stroke="#222" stroke-width="0.6" />
<text x="299.40" y="243.40" font-size="5.0" fill="#111" text-anchor="middle" textLength="7.00" lengthAdjust="spacingAndGlyphs" font-style="italic">500</text>
<line x1="290.80" y1="243.50" x2="290.80" y2="246.50" stroke="#222" stroke-width="0.6" />
<text x="316.60" y="243.40" font-size="5.0" fill="#111" text-anchor="middle" textLength="7.00" lengthAdjust="spacingAndGlyphs" font-style="italic">500</text>
<line x1="308.00" y1="243.50" x2="308.00" y2="246.50" stroke="#222" stroke-width="0.6" />
<text x="333.75" y="243.40" font-size="5.0" fill="#111" text-anchor="middle" textLength="7.00" lengthAdjust="spacingAndGlyphs" font-style="italic">500</text>
<line x1="325.20" y1="243.50" x2="325.20" y2="246.50" stroke="#222" stroke-width="0.6" />
<text x="350.40" y="243.40" font-size="5.0" fill="#111" text-anchor="middle" textLength="7.00" lengthAdjust="spacingAndGlyphs" font-style="italic">450</text>
<line x1="342.30" y1="243.50" x2="342.30" y2="246.50" stroke="#222" stroke-width="0.6" />
<text x="366.05" y="243.40" font-size="5.0" fill="#111" text-anchor="middle" textLength="7.00" lengthAdjust="spacingAndGlyphs" font-style="italic">450</text>
<line x1="358.50" y1="243.50" x2="358.50" y2="246.50" stroke="#222" stroke-width="0.6" />
<text x="378.70" y="243.40" font-size="5.0" fill="#111" text-anchor="middle" textLength="7.00" lengthAdjust="spacingAndGlyphs" font-style="italic">300</text>
<line x1="373.60" y1="243.50" x2="373.60" y2="246.50" stroke="#222" stroke-width="0.6" />
<text x="389.15" y="243.40" font-size="5.0" fill="#111" text-anchor="middle" textLength="7.00" lengthAdjust="spacingAndGlyphs" font-style="italic">300</text>
<line x1="383.80" y1="243.50" x2="383.80" y2="246.50" stroke="#222" stroke-width="0.6" />
<text x="399.50" y="243.40" font-size="5.0" fill="#111" text-anchor="middle" textLength="7.00" lengthAdjust="spacingAndGlyphs" font-style="italic">300</text>
<line x1="394.50" y1="243.50" x2="394.50" y2="246.50" stroke="#222" stroke-width="0.6" />
<text x="408.75" y="243.40" font-size="5.0" fill="#111" text-anchor="middle" textLength="7.00" lengthAdjust="spacingAndGlyphs" font-style="italic">200</text>
<line x1="404.50" y1="243.50" x2="404.50" y2="246.50" stroke="#222" stroke-width="0.6" />
<line x1="413.00" y1="243.50" x2="413.00" y2="246.50" stroke="#222" stroke-width="0.6" />
<line x1="430.20" y1="257.90" x2="430.20" y2="424.00" stroke="#222" stroke-width="0.6" />
<line x1="428.70" y1="257.90" x2="431.70" y2="257.90" stroke="#222" stroke-width="0.7" />
<line x1="428.70" y1="273.80" x2="431.70" y2="273.80" stroke="#222" stroke-width="0.7" />
<line x1="428.70" y1="294.30" x2="431.70" y2="294.30" stroke="#222" stroke-width="0.7" />
<line x1="428.70" y1="314.60" x2="431.70" y2="314.60" stroke="#222" stroke-width="0.7" />
<line x1="428.70" y1="335.00" x2="431.70" y2="335.00" stroke="#222" stroke-width="0.7" />
<line x1="428.70" y1="355.70" x2="431.70" y2="355.70" stroke="#222" stroke-width="0.7" />
<line x1="428.70" y1="376.80" x2="431.70" y2="376.80" stroke="#222" stroke-width="0.7" />
<line x1="428.70" y1="397.60" x2="431.70" y2="397.60" stroke="#222" stroke-width="0.7" />
<line x1="428.70" y1="418.20" x2="431.70" y2="418.20" stroke="#222" stroke-width="0.7" />
<line x1="428.70" y1="424.00" x2="431.70" y2="424.00" stroke="#222" stroke-width="0.7" />
<text x="428.40" y="265.85" font-size="5.0" fill="#111" text-anchor="middle" textLength="7.00" lengthAdjust="spacingAndGlyphs" transform="rotate(-90 428.40 265.85)" font-style="italic">450</text>
<text x="428.40" y="284.05" font-size="5.0" fill="#111" text-anchor="middle" textLength="7.00" lengthAdjust="spacingAndGlyphs" transform="rotate(-90 428.40 284.05)" font-style="italic">600</text>
<text x="428.40" y="304.45" font-size="5.0" fill="#111" text-anchor="middle" textLength="7.00" lengthAdjust="spacingAndGlyphs" transform="rotate(-90 428.40 304.45)" font-style="italic">600</text>
<text x="428.40" y="324.80" font-size="5.0" fill="#111" text-anchor="middle" textLength="7.00" lengthAdjust="spacingAndGlyphs" transform="rotate(-90 428.40 324.80)" font-style="italic">600</text>
<text x="428.40" y="345.35" font-size="5.0" fill="#111" text-anchor="middle" textLength="7.00" lengthAdjust="spacingAndGlyphs" transform="rotate(-90 428.40 345.35)" font-style="italic">600</text>
<text x="428.40" y="366.25" font-size="5.0" fill="#111" text-anchor="middle" textLength="7.00" lengthAdjust="spacingAndGlyphs" transform="rotate(-90 428.40 366.25)" font-style="italic">600</text>
<text x="428.40" y="387.20" font-size="5.0" fill="#111" text-anchor="middle" textLength="7.00" lengthAdjust="spacingAndGlyphs" transform="rotate(-90 428.40 387.20)" font-style="italic">600</text>
<text x="428.40" y="407.90" font-size="5.0" fill="#111" text-anchor="middle" textLength="7.00" lengthAdjust="spacingAndGlyphs" transform="rotate(-90 428.40 407.90)" font-style="italic">600</text>
<text x="428.40" y="421.10" font-size="5.0" fill="#111" text-anchor="middle" textLength="7.00" lengthAdjust="spacingAndGlyphs" transform="rotate(-90 428.40 421.10)" font-style="italic">300</text>
<line x1="441.30" y1="257.90" x2="441.30" y2="424.00" stroke="#222" stroke-width="0.6" />
<line x1="439.80" y1="257.90" x2="442.80" y2="257.90" stroke="#222" stroke-width="0.7" />
<text x="439.60" y="342.00" font-size="5.0" fill="#111" text-anchor="middle" textLength="9.50" lengthAdjust="spacingAndGlyphs" transform="rotate(-90 439.60 342.00)" font-style="italic">4650</text>
<line x1="450.30" y1="247.70" x2="450.30" y2="424.00" stroke="#222" stroke-width="0.6" />
<line x1="448.80" y1="247.70" x2="451.80" y2="247.70" stroke="#222" stroke-width="0.7" />
<text x="448.60" y="336.00" font-size="5.0" fill="#111" text-anchor="middle" textLength="9.50" lengthAdjust="spacingAndGlyphs" transform="rotate(-90 448.60 336.00)" font-style="italic">5150</text>
<line x1="92.00" y1="422.00" x2="147.50" y2="316.00" stroke="#1a1a1a" stroke-width="3.2" />
<line x1="92.00" y1="422.00" x2="147.50" y2="316.00" stroke="#457a5a" stroke-width="2.2" />
<line x1="115.00" y1="422.00" x2="147.00" y2="378.00" stroke="#1a1a1a" stroke-width="3.2" />
<line x1="115.00" y1="422.00" x2="147.00" y2="378.00" stroke="#457a5a" stroke-width="2.2" />
<line x1="88.50" y1="422.00" x2="148.50" y2="290.00" stroke="#222" stroke-width="0.9" />
<line x1="90.50" y1="421.00" x2="148.50" y2="418.50" stroke="#222" stroke-width="0.8" />
<line x1="116.00" y1="420.50" x2="148.50" y2="416.00" stroke="#222" stroke-width="0.6" />
<line x1="89.00" y1="419.00" x2="89.00" y2="428.00" stroke="#222" stroke-width="0.7" />
<line x1="93.00" y1="419.00" x2="93.00" y2="428.00" stroke="#222" stroke-width="0.7" />
<line x1="113.00" y1="419.00" x2="113.00" y2="428.00" stroke="#222" stroke-width="0.7" />
<line x1="117.00" y1="419.00" x2="117.00" y2="428.00" stroke="#222" stroke-width="0.7" />
<text x="3.10" y="231.30" font-size="7.3" fill="#2b2b2b" text-anchor="start" textLength="45.00" lengthAdjust="spacingAndGlyphs" >ALUMINUM PANEL</text>
<line x1="3.10" y1="232.20" x2="103.80" y2="232.20" stroke="#222" stroke-width="0.7" />
<line x1="103.80" y1="232.20" x2="156.60" y2="259.80" stroke="#222" stroke-width="0.7" />
<text x="3.10" y="244.10" font-size="7.3" fill="#2b2b2b" text-anchor="start" textLength="63.60" lengthAdjust="spacingAndGlyphs" >ALUMINUM PANEL JOINT</text>
<line x1="3.10" y1="245.00" x2="103.80" y2="245.00" stroke="#222" stroke-width="0.7" />
<line x1="103.80" y1="245.00" x2="159.60" y2="283.60" stroke="#222" stroke-width="0.7" />
<text x="3.10" y="255.80" font-size="7.3" fill="#2b2b2b" text-anchor="start" textLength="99.60" lengthAdjust="spacingAndGlyphs" >DOUBLE REC 50X100X2.7MM Ø600MM</text>
<line x1="3.10" y1="256.70" x2="103.80" y2="256.70" stroke="#222" stroke-width="0.7" />
<line x1="103.80" y1="256.70" x2="146.00" y2="289.00" stroke="#222" stroke-width="0.7" />
<line x1="103.80" y1="256.70" x2="148.50" y2="292.00" stroke="#222" stroke-width="0.7" />
<line x1="103.80" y1="256.70" x2="151.00" y2="296.00" stroke="#222" stroke-width="0.7" />
<text x="3.10" y="268.20" font-size="7.3" fill="#2b2b2b" text-anchor="start" textLength="96.50" lengthAdjust="spacingAndGlyphs" >ALUMINUM PANEL EDGE CONNECTOR</text>
<line x1="3.10" y1="269.10" x2="103.80" y2="269.10" stroke="#222" stroke-width="0.7" />
<line x1="103.80" y1="269.10" x2="150.70" y2="302.50" stroke="#222" stroke-width="0.7" />
<text x="3.10" y="280.30" font-size="7.3" fill="#2b2b2b" text-anchor="start" textLength="57.70" lengthAdjust="spacingAndGlyphs" >M16-BOLT , L=0.35M</text>
<line x1="3.10" y1="281.20" x2="103.80" y2="281.20" stroke="#222" stroke-width="0.7" />
<line x1="103.80" y1="281.20" x2="147.00" y2="340.00" stroke="#222" stroke-width="0.7" />
<text x="3.10" y="315.70" font-size="7.3" fill="#2b2b2b" text-anchor="start" textLength="50.30" lengthAdjust="spacingAndGlyphs" >U-HEAD ADJUSTER</text>
<line x1="3.10" y1="316.60" x2="82.80" y2="316.60" stroke="#222" stroke-width="0.7" />
<line x1="82.80" y1="316.60" x2="148.00" y2="309.50" stroke="#222" stroke-width="0.7" />
<line x1="82.80" y1="316.60" x2="146.00" y2="378.00" stroke="#222" stroke-width="0.7" />
<text x="3.10" y="335.40" font-size="7.3" fill="#2b2b2b" text-anchor="start" textLength="75.20" lengthAdjust="spacingAndGlyphs" >ROUND TUBE Ø49 @500mm</text>
<line x1="3.10" y1="336.30" x2="82.80" y2="336.30" stroke="#222" stroke-width="0.7" />
<line x1="82.80" y1="336.30" x2="145.00" y2="376.50" stroke="#222" stroke-width="0.7" />
<line x1="82.80" y1="336.30" x2="138.80" y2="382.70" stroke="#222" stroke-width="0.7" />
<line x1="82.80" y1="336.30" x2="135.70" y2="416.70" stroke="#222" stroke-width="0.7" />
<text x="3.10" y="351.00" font-size="7.3" fill="#2b2b2b" text-anchor="start" textLength="33.10" lengthAdjust="spacingAndGlyphs" >TURNBUCKLE</text>
<line x1="3.10" y1="351.90" x2="82.80" y2="351.90" stroke="#222" stroke-width="0.7" />
<line x1="82.80" y1="351.90" x2="101.00" y2="399.50" stroke="#222" stroke-width="0.7" />
<text x="150.90" y="215.00" font-size="7.8" fill="#2b2b2b" text-anchor="start" textLength="92.30" lengthAdjust="spacingAndGlyphs" >STEP 1: FORMWORK INSTALLATION</text>
<line x1="150.90" y1="216.10" x2="243.20" y2="216.10" stroke="#222" stroke-width="0.7" />
<rect x="521.80" y="248.00" width="19.20" height="84.50" fill="#dcdcdc" stroke="none" stroke-width="0.8" />
<rect x="521.80" y="332.50" width="19.20" height="92.50" fill="#b8b9bb" stroke="none" stroke-width="0.8" />
<line x1="521.80" y1="248.00" x2="521.80" y2="425.00" stroke="#222" stroke-width="0.9" />
<line x1="541.00" y1="248.00" x2="541.00" y2="425.00" stroke="#222" stroke-width="0.9" />
<line x1="524.30" y1="248.00" x2="524.30" y2="425.00" stroke="#222" stroke-width="0.6" stroke-dasharray="1.5 1"/>
<line x1="538.50" y1="248.00" x2="538.50" y2="425.00" stroke="#222" stroke-width="0.6" stroke-dasharray="1.5 1"/>
<line x1="521.80" y1="248.00" x2="541.00" y2="248.00" stroke="#222" stroke-width="0.9" />
<text x="532.40" y="373.60" font-size="4.6" fill="#d98a60" text-anchor="middle" textLength="20.00" lengthAdjust="spacingAndGlyphs" transform="rotate(-90 532.40 373.60)" >SEE DETAIL</text>
<text x="532.40" y="283.80" font-size="4.6" fill="#d98a60" text-anchor="middle" textLength="26.00" lengthAdjust="spacingAndGlyphs" transform="rotate(-90 532.40 283.80)" >SEE DETAIL</text>
<line x1="516.00" y1="269.80" x2="545.00" y2="269.80" stroke="#222" stroke-width="0.8" />
<circle cx="519.2" cy="269.8" r="1.9" fill="#333" stroke="#111" stroke-width="0.4"/>
<circle cx="540.9" cy="269.8" r="1.9" fill="#333" stroke="#111" stroke-width="0.4"/>
<line x1="522.80" y1="269.80" x2="540.00" y2="269.80" stroke="#f4f4f4" stroke-width="1.0" />
<line x1="516.00" y1="290.40" x2="545.00" y2="290.40" stroke="#222" stroke-width="0.8" />
<circle cx="519.2" cy="290.4" r="1.9" fill="#333" stroke="#111" stroke-width="0.4"/>
<circle cx="540.9" cy="290.4" r="1.9" fill="#333" stroke="#111" stroke-width="0.4"/>
<line x1="522.80" y1="290.40" x2="540.00" y2="290.40" stroke="#f4f4f4" stroke-width="1.0" />
<line x1="516.00" y1="311.10" x2="545.00" y2="311.10" stroke="#222" stroke-width="0.8" />
<circle cx="519.2" cy="311.1" r="1.9" fill="#333" stroke="#111" stroke-width="0.4"/>
<circle cx="540.9" cy="311.1" r="1.9" fill="#333" stroke="#111" stroke-width="0.4"/>
<line x1="522.80" y1="311.10" x2="540.00" y2="311.10" stroke="#f4f4f4" stroke-width="1.0" />
<line x1="516.00" y1="331.70" x2="545.00" y2="331.70" stroke="#222" stroke-width="0.8" />
<circle cx="519.2" cy="331.7" r="1.9" fill="#333" stroke="#111" stroke-width="0.4"/>
<circle cx="540.9" cy="331.7" r="1.9" fill="#333" stroke="#111" stroke-width="0.4"/>
<line x1="522.80" y1="331.70" x2="540.00" y2="331.70" stroke="#f4f4f4" stroke-width="1.0" />
<line x1="516.00" y1="352.30" x2="545.00" y2="352.30" stroke="#222" stroke-width="0.8" />
<circle cx="519.2" cy="352.3" r="1.9" fill="#333" stroke="#111" stroke-width="0.4"/>
<circle cx="540.9" cy="352.3" r="1.9" fill="#333" stroke="#111" stroke-width="0.4"/>
<line x1="522.80" y1="352.30" x2="540.00" y2="352.30" stroke="#f4f4f4" stroke-width="1.0" />
<line x1="516.00" y1="373.00" x2="545.00" y2="373.00" stroke="#222" stroke-width="0.8" />
<circle cx="519.2" cy="373.0" r="1.9" fill="#333" stroke="#111" stroke-width="0.4"/>
<circle cx="540.9" cy="373.0" r="1.9" fill="#333" stroke="#111" stroke-width="0.4"/>
<line x1="522.80" y1="373.00" x2="540.00" y2="373.00" stroke="#f4f4f4" stroke-width="1.0" />
<line x1="516.00" y1="393.60" x2="545.00" y2="393.60" stroke="#222" stroke-width="0.8" />
<circle cx="519.2" cy="393.6" r="1.9" fill="#333" stroke="#111" stroke-width="0.4"/>
<circle cx="540.9" cy="393.6" r="1.9" fill="#333" stroke="#111" stroke-width="0.4"/>
<line x1="522.80" y1="393.60" x2="540.00" y2="393.60" stroke="#f4f4f4" stroke-width="1.0" />
<line x1="516.00" y1="414.20" x2="545.00" y2="414.20" stroke="#222" stroke-width="0.8" />
<circle cx="519.2" cy="414.2" r="1.9" fill="#333" stroke="#111" stroke-width="0.4"/>
<circle cx="540.9" cy="414.2" r="1.9" fill="#333" stroke="#111" stroke-width="0.4"/>
<line x1="522.80" y1="414.20" x2="540.00" y2="414.20" stroke="#f4f4f4" stroke-width="1.0" />
<text x="531.40" y="243.60" font-size="5.0" fill="#111" text-anchor="middle" textLength="7.00" lengthAdjust="spacingAndGlyphs" font-style="italic">350</text>
<line x1="521.80" y1="245.30" x2="541.00" y2="245.30" stroke="#222" stroke-width="0.5" />
<text x="435.50" y="231.60" font-size="8.2" fill="#2b2b2b" text-anchor="start" textLength="37.50" lengthAdjust="spacingAndGlyphs" >PVC PIPE Ø21</text>
<line x1="435.50" y1="232.60" x2="482.50" y2="232.60" stroke="#222" stroke-width="0.7" />
<line x1="482.50" y1="232.60" x2="527.40" y2="268.60" stroke="#222" stroke-width="0.7" />
<line x1="482.50" y1="232.60" x2="527.40" y2="290.40" stroke="#222" stroke-width="0.7" />
<line x1="460.70" y1="422.00" x2="519.00" y2="311.10" stroke="#1a1a1a" stroke-width="3.2" />
<line x1="460.70" y1="422.00" x2="519.00" y2="311.10" stroke="#457a5a" stroke-width="2.2" />
<line x1="487.70" y1="422.00" x2="519.00" y2="373.00" stroke="#1a1a1a" stroke-width="3.2" />
<line x1="487.70" y1="422.00" x2="519.00" y2="373.00" stroke="#457a5a" stroke-width="2.2" />
<line x1="458.70" y1="422.00" x2="519.00" y2="290.40" stroke="#222" stroke-width="0.9" />
<line x1="487.70" y1="420.70" x2="519.50" y2="414.00" stroke="#222" stroke-width="0.8" />
<line x1="460.70" y1="421.50" x2="487.70" y2="420.50" stroke="#222" stroke-width="0.7" />
<line x1="459.00" y1="419.00" x2="459.00" y2="428.00" stroke="#222" stroke-width="0.7" />
<line x1="463.00" y1="419.00" x2="463.00" y2="428.00" stroke="#222" stroke-width="0.7" />
<line x1="486.00" y1="419.00" x2="486.00" y2="428.00" stroke="#222" stroke-width="0.7" />
<line x1="490.00" y1="419.00" x2="490.00" y2="428.00" stroke="#222" stroke-width="0.7" />
<text x="539.30" y="214.40" font-size="8.0" fill="#2b2b2b" text-anchor="start" textLength="79.40" lengthAdjust="spacingAndGlyphs" >STEP 2: FORMWORK REMOVAL</text>
<line x1="539.30" y1="214.90" x2="618.70" y2="214.90" stroke="#222" stroke-width="0.7" />
<rect x="610.30" y="243.00" width="4.00" height="176.00" fill="#999" stroke="#1a1a1a" stroke-width="0.8" />
<rect x="611.40" y="245.00" width="1.80" height="1.50" fill="#fff" stroke="none" stroke-width="0.8" />
<rect x="611.40" y="248.00" width="1.80" height="1.50" fill="#fff" stroke="none" stroke-width="0.8" />
<rect x="611.40" y="251.00" width="1.80" height="1.50" fill="#fff" stroke="none" stroke-width="0.8" />
<rect x="611.40" y="254.00" width="1.80" height="1.50" fill="#fff" stroke="none" stroke-width="0.8" />
<rect x="611.40" y="257.00" width="1.80" height="1.50" fill="#fff" stroke="none" stroke-width="0.8" />
<rect x="611.40" y="260.00" width="1.80" height="1.50" fill="#fff" stroke="none" stroke-width="0.8" />
<rect x="611.40" y="263.00" width="1.80" height="1.50" fill="#fff" stroke="none" stroke-width="0.8" />
<rect x="611.40" y="266.00" width="1.80" height="1.50" fill="#fff" stroke="none" stroke-width="0.8" />
<rect x="611.40" y="269.00" width="1.80" height="1.50" fill="#fff" stroke="none" stroke-width="0.8" />
<rect x="611.40" y="272.00" width="1.80" height="1.50" fill="#fff" stroke="none" stroke-width="0.8" />
<rect x="611.40" y="275.00" width="1.80" height="1.50" fill="#fff" stroke="none" stroke-width="0.8" />
<rect x="611.40" y="278.00" width="1.80" height="1.50" fill="#fff" stroke="none" stroke-width="0.8" />
<rect x="611.40" y="281.00" width="1.80" height="1.50" fill="#fff" stroke="none" stroke-width="0.8" />
<rect x="611.40" y="284.00" width="1.80" height="1.50" fill="#fff" stroke="none" stroke-width="0.8" />
<rect x="611.40" y="287.00" width="1.80" height="1.50" fill="#fff" stroke="none" stroke-width="0.8" />
<rect x="611.40" y="290.00" width="1.80" height="1.50" fill="#fff" stroke="none" stroke-width="0.8" />
<rect x="611.40" y="293.00" width="1.80" height="1.50" fill="#fff" stroke="none" stroke-width="0.8" />
<rect x="611.40" y="296.00" width="1.80" height="1.50" fill="#fff" stroke="none" stroke-width="0.8" />
<rect x="611.40" y="299.00" width="1.80" height="1.50" fill="#fff" stroke="none" stroke-width="0.8" />
<rect x="611.40" y="302.00" width="1.80" height="1.50" fill="#fff" stroke="none" stroke-width="0.8" />
<rect x="611.40" y="305.00" width="1.80" height="1.50" fill="#fff" stroke="none" stroke-width="0.8" />
<rect x="611.40" y="308.00" width="1.80" height="1.50" fill="#fff" stroke="none" stroke-width="0.8" />
<rect x="611.40" y="311.00" width="1.80" height="1.50" fill="#fff" stroke="none" stroke-width="0.8" />
<rect x="611.40" y="314.00" width="1.80" height="1.50" fill="#fff" stroke="none" stroke-width="0.8" />
<rect x="611.40" y="317.00" width="1.80" height="1.50" fill="#fff" stroke="none" stroke-width="0.8" />
<rect x="611.40" y="320.00" width="1.80" height="1.50" fill="#fff" stroke="none" stroke-width="0.8" />
<rect x="611.40" y="323.00" width="1.80" height="1.50" fill="#fff" stroke="none" stroke-width="0.8" />
<rect x="611.40" y="326.00" width="1.80" height="1.50" fill="#fff" stroke="none" stroke-width="0.8" />
<rect x="611.40" y="329.00" width="1.80" height="1.50" fill="#fff" stroke="none" stroke-width="0.8" />
<rect x="611.40" y="332.00" width="1.80" height="1.50" fill="#fff" stroke="none" stroke-width="0.8" />
<rect x="611.40" y="335.00" width="1.80" height="1.50" fill="#fff" stroke="none" stroke-width="0.8" />
<rect x="611.40" y="338.00" width="1.80" height="1.50" fill="#fff" stroke="none" stroke-width="0.8" />
<rect x="611.40" y="341.00" width="1.80" height="1.50" fill="#fff" stroke="none" stroke-width="0.8" />
<rect x="611.40" y="344.00" width="1.80" height="1.50" fill="#fff" stroke="none" stroke-width="0.8" />
<rect x="611.40" y="347.00" width="1.80" height="1.50" fill="#fff" stroke="none" stroke-width="0.8" />
<rect x="611.40" y="350.00" width="1.80" height="1.50" fill="#fff" stroke="none" stroke-width="0.8" />
<rect x="611.40" y="353.00" width="1.80" height="1.50" fill="#fff" stroke="none" stroke-width="0.8" />
<rect x="611.40" y="356.00" width="1.80" height="1.50" fill="#fff" stroke="none" stroke-width="0.8" />
<rect x="611.40" y="359.00" width="1.80" height="1.50" fill="#fff" stroke="none" stroke-width="0.8" />
<rect x="611.40" y="362.00" width="1.80" height="1.50" fill="#fff" stroke="none" stroke-width="0.8" />
<rect x="611.40" y="365.00" width="1.80" height="1.50" fill="#fff" stroke="none" stroke-width="0.8" />
<rect x="611.40" y="368.00" width="1.80" height="1.50" fill="#fff" stroke="none" stroke-width="0.8" />
<rect x="611.40" y="371.00" width="1.80" height="1.50" fill="#fff" stroke="none" stroke-width="0.8" />
<rect x="611.40" y="374.00" width="1.80" height="1.50" fill="#fff" stroke="none" stroke-width="0.8" />
<rect x="611.40" y="377.00" width="1.80" height="1.50" fill="#fff" stroke="none" stroke-width="0.8" />
<rect x="611.40" y="380.00" width="1.80" height="1.50" fill="#fff" stroke="none" stroke-width="0.8" />
<rect x="611.40" y="383.00" width="1.80" height="1.50" fill="#fff" stroke="none" stroke-width="0.8" />
<rect x="611.40" y="386.00" width="1.80" height="1.50" fill="#fff" stroke="none" stroke-width="0.8" />
<rect x="611.40" y="389.00" width="1.80" height="1.50" fill="#fff" stroke="none" stroke-width="0.8" />
<rect x="611.40" y="392.00" width="1.80" height="1.50" fill="#fff" stroke="none" stroke-width="0.8" />
<rect x="611.40" y="395.00" width="1.80" height="1.50" fill="#fff" stroke="none" stroke-width="0.8" />
<rect x="611.40" y="398.00" width="1.80" height="1.50" fill="#fff" stroke="none" stroke-width="0.8" />
<rect x="611.40" y="401.00" width="1.80" height="1.50" fill="#fff" stroke="none" stroke-width="0.8" />
<rect x="611.40" y="404.00" width="1.80" height="1.50" fill="#fff" stroke="none" stroke-width="0.8" />
<rect x="611.40" y="407.00" width="1.80" height="1.50" fill="#fff" stroke="none" stroke-width="0.8" />
<rect x="611.40" y="410.00" width="1.80" height="1.50" fill="#fff" stroke="none" stroke-width="0.8" />
<rect x="611.40" y="413.00" width="1.80" height="1.50" fill="#fff" stroke="none" stroke-width="0.8" />
<rect x="611.40" y="416.00" width="1.80" height="1.50" fill="#fff" stroke="none" stroke-width="0.8" />
<rect x="638.80" y="243.00" width="4.00" height="176.00" fill="#999" stroke="#1a1a1a" stroke-width="0.8" />
<rect x="639.90" y="245.00" width="1.80" height="1.50" fill="#fff" stroke="none" stroke-width="0.8" />
<rect x="639.90" y="248.00" width="1.80" height="1.50" fill="#fff" stroke="none" stroke-width="0.8" />
<rect x="639.90" y="251.00" width="1.80" height="1.50" fill="#fff" stroke="none" stroke-width="0.8" />
<rect x="639.90" y="254.00" width="1.80" height="1.50" fill="#fff" stroke="none" stroke-width="0.8" />
<rect x="639.90" y="257.00" width="1.80" height="1.50" fill="#fff" stroke="none" stroke-width="0.8" />
<rect x="639.90" y="260.00" width="1.80" height="1.50" fill="#fff" stroke="none" stroke-width="0.8" />
<rect x="639.90" y="263.00" width="1.80" height="1.50" fill="#fff" stroke="none" stroke-width="0.8" />
<rect x="639.90" y="266.00" width="1.80" height="1.50" fill="#fff" stroke="none" stroke-width="0.8" />
<rect x="639.90" y="269.00" width="1.80" height="1.50" fill="#fff" stroke="none" stroke-width="0.8" />
<rect x="639.90" y="272.00" width="1.80" height="1.50" fill="#fff" stroke="none" stroke-width="0.8" />
<rect x="639.90" y="275.00" width="1.80" height="1.50" fill="#fff" stroke="none" stroke-width="0.8" />
<rect x="639.90" y="278.00" width="1.80" height="1.50" fill="#fff" stroke="none" stroke-width="0.8" />
<rect x="639.90" y="281.00" width="1.80" height="1.50" fill="#fff" stroke="none" stroke-width="0.8" />
<rect x="639.90" y="284.00" width="1.80" height="1.50" fill="#fff" stroke="none" stroke-width="0.8" />
<rect x="639.90" y="287.00" width="1.80" height="1.50" fill="#fff" stroke="none" stroke-width="0.8" />
<rect x="639.90" y="290.00" width="1.80" height="1.50" fill="#fff" stroke="none" stroke-width="0.8" />
<rect x="639.90" y="293.00" width="1.80" height="1.50" fill="#fff" stroke="none" stroke-width="0.8" />
<rect x="639.90" y="296.00" width="1.80" height="1.50" fill="#fff" stroke="none" stroke-width="0.8" />
<rect x="639.90" y="299.00" width="1.80" height="1.50" fill="#fff" stroke="none" stroke-width="0.8" />
<rect x="639.90" y="302.00" width="1.80" height="1.50" fill="#fff" stroke="none" stroke-width="0.8" />
<rect x="639.90" y="305.00" width="1.80" height="1.50" fill="#fff" stroke="none" stroke-width="0.8" />
<rect x="639.90" y="308.00" width="1.80" height="1.50" fill="#fff" stroke="none" stroke-width="0.8" />
<rect x="639.90" y="311.00" width="1.80" height="1.50" fill="#fff" stroke="none" stroke-width="0.8" />
<rect x="639.90" y="314.00" width="1.80" height="1.50" fill="#fff" stroke="none" stroke-width="0.8" />
<rect x="639.90" y="317.00" width="1.80" height="1.50" fill="#fff" stroke="none" stroke-width="0.8" />
<rect x="639.90" y="320.00" width="1.80" height="1.50" fill="#fff" stroke="none" stroke-width="0.8" />
<rect x="639.90" y="323.00" width="1.80" height="1.50" fill="#fff" stroke="none" stroke-width="0.8" />
<rect x="639.90" y="326.00" width="1.80" height="1.50" fill="#fff" stroke="none" stroke-width="0.8" />
<rect x="639.90" y="329.00" width="1.80" height="1.50" fill="#fff" stroke="none" stroke-width="0.8" />
<rect x="639.90" y="332.00" width="1.80" height="1.50" fill="#fff" stroke="none" stroke-width="0.8" />
<rect x="639.90" y="335.00" width="1.80" height="1.50" fill="#fff" stroke="none" stroke-width="0.8" />
<rect x="639.90" y="338.00" width="1.80" height="1.50" fill="#fff" stroke="none" stroke-width="0.8" />
<rect x="639.90" y="341.00" width="1.80" height="1.50" fill="#fff" stroke="none" stroke-width="0.8" />
<rect x="639.90" y="344.00" width="1.80" height="1.50" fill="#fff" stroke="none" stroke-width="0.8" />
<rect x="639.90" y="347.00" width="1.80" height="1.50" fill="#fff" stroke="none" stroke-width="0.8" />
<rect x="639.90" y="350.00" width="1.80" height="1.50" fill="#fff" stroke="none" stroke-width="0.8" />
<rect x="639.90" y="353.00" width="1.80" height="1.50" fill="#fff" stroke="none" stroke-width="0.8" />
<rect x="639.90" y="356.00" width="1.80" height="1.50" fill="#fff" stroke="none" stroke-width="0.8" />
<rect x="639.90" y="359.00" width="1.80" height="1.50" fill="#fff" stroke="none" stroke-width="0.8" />
<rect x="639.90" y="362.00" width="1.80" height="1.50" fill="#fff" stroke="none" stroke-width="0.8" />
<rect x="639.90" y="365.00" width="1.80" height="1.50" fill="#fff" stroke="none" stroke-width="0.8" />
<rect x="639.90" y="368.00" width="1.80" height="1.50" fill="#fff" stroke="none" stroke-width="0.8" />
<rect x="639.90" y="371.00" width="1.80" height="1.50" fill="#fff" stroke="none" stroke-width="0.8" />
<rect x="639.90" y="374.00" width="1.80" height="1.50" fill="#fff" stroke="none" stroke-width="0.8" />
<rect x="639.90" y="377.00" width="1.80" height="1.50" fill="#fff" stroke="none" stroke-width="0.8" />
<rect x="639.90" y="380.00" width="1.80" height="1.50" fill="#fff" stroke="none" stroke-width="0.8" />
<rect x="639.90" y="383.00" width="1.80" height="1.50" fill="#fff" stroke="none" stroke-width="0.8" />
<rect x="639.90" y="386.00" width="1.80" height="1.50" fill="#fff" stroke="none" stroke-width="0.8" />
<rect x="639.90" y="389.00" width="1.80" height="1.50" fill="#fff" stroke="none" stroke-width="0.8" />
<rect x="639.90" y="392.00" width="1.80" height="1.50" fill="#fff" stroke="none" stroke-width="0.8" />
<rect x="639.90" y="395.00" width="1.80" height="1.50" fill="#fff" stroke="none" stroke-width="0.8" />
<rect x="639.90" y="398.00" width="1.80" height="1.50" fill="#fff" stroke="none" stroke-width="0.8" />
<rect x="639.90" y="401.00" width="1.80" height="1.50" fill="#fff" stroke="none" stroke-width="0.8" />
<rect x="639.90" y="404.00" width="1.80" height="1.50" fill="#fff" stroke="none" stroke-width="0.8" />
<rect x="639.90" y="407.00" width="1.80" height="1.50" fill="#fff" stroke="none" stroke-width="0.8" />
<rect x="639.90" y="410.00" width="1.80" height="1.50" fill="#fff" stroke="none" stroke-width="0.8" />
<rect x="639.90" y="413.00" width="1.80" height="1.50" fill="#fff" stroke="none" stroke-width="0.8" />
<rect x="639.90" y="416.00" width="1.80" height="1.50" fill="#fff" stroke="none" stroke-width="0.8" />
<rect x="620.20" y="251.70" width="12.40" height="173.30" fill="#eee" stroke="#222" stroke-width="0.8" />
<line x1="622.60" y1="251.70" x2="622.60" y2="425.00" stroke="#222" stroke-width="0.5" />
<line x1="630.20" y1="251.70" x2="630.20" y2="425.00" stroke="#222" stroke-width="0.5" />
<circle cx="630.1" cy="355.8" r="0.35" fill="#444"/>
<circle cx="624.4" cy="326.3" r="0.35" fill="#444"/>
<circle cx="630.8" cy="317.4" r="0.35" fill="#444"/>
<circle cx="628.5" cy="355.9" r="0.35" fill="#444"/>
<circle cx="630.9" cy="391.1" r="0.35" fill="#444"/>
<circle cx="624.1" cy="253.3" r="0.35" fill="#444"/>
<circle cx="623.9" cy="325.2" r="0.35" fill="#444"/>
<circle cx="627.5" cy="392.5" r="0.35" fill="#444"/>
<circle cx="630.8" cy="260.2" r="0.35" fill="#444"/>
<circle cx="630.2" cy="391.8" r="0.35" fill="#444"/>
<circle cx="630.5" cy="350.8" r="0.35" fill="#444"/>
<circle cx="624.0" cy="398.6" r="0.35" fill="#444"/>
<circle cx="629.9" cy="370.1" r="0.35" fill="#444"/>
<circle cx="631.1" cy="312.3" r="0.35" fill="#444"/>
<circle cx="621.9" cy="347.7" r="0.35" fill="#444"/>
<circle cx="629.8" cy="287.3" r="0.35" fill="#444"/>
<circle cx="629.3" cy="412.3" r="0.35" fill="#444"/>
<circle cx="623.6" cy="356.8" r="0.35" fill="#444"/>
<circle cx="628.5" cy="332.6" r="0.35" fill="#444"/>
<circle cx="623.3" cy="296.6" r="0.35" fill="#444"/>
<circle cx="629.3" cy="388.4" r="0.35" fill="#444"/>
<circle cx="626.1" cy="268.0" r="0.35" fill="#444"/>
<circle cx="629.9" cy="385.0" r="0.35" fill="#444"/>
<circle cx="623.6" cy="352.1" r="0.35" fill="#444"/>
<circle cx="630.9" cy="404.4" r="0.35" fill="#444"/>
<circle cx="626.7" cy="334.5" r="0.35" fill="#444"/>
<circle cx="627.5" cy="285.3" r="0.35" fill="#444"/>
<circle cx="623.1" cy="283.9" r="0.35" fill="#444"/>
<circle cx="628.7" cy="315.0" r="0.35" fill="#444"/>
<circle cx="627.2" cy="321.8" r="0.35" fill="#444"/>
<circle cx="626.7" cy="278.5" r="0.35" fill="#444"/>
<circle cx="621.5" cy="423.5" r="0.35" fill="#444"/>
<circle cx="625.1" cy="271.1" r="0.35" fill="#444"/>
<circle cx="628.0" cy="387.6" r="0.35" fill="#444"/>
<circle cx="622.7" cy="355.1" r="0.35" fill="#444"/>
<circle cx="624.8" cy="341.8" r="0.35" fill="#444"/>
<circle cx="621.2" cy="258.7" r="0.35" fill="#444"/>
<circle cx="631.9" cy="401.1" r="0.35" fill="#444"/>
<circle cx="626.3" cy="350.0" r="0.35" fill="#444"/>
<circle cx="623.9" cy="386.2" r="0.35" fill="#444"/>
<circle cx="625.7" cy="414.9" r="0.35" fill="#444"/>
<circle cx="629.4" cy="393.0" r="0.35" fill="#444"/>
<circle cx="631.6" cy="296.4" r="0.35" fill="#444"/>
<circle cx="621.4" cy="287.4" r="0.35" fill="#444"/>
<circle cx="623.0" cy="267.3" r="0.35" fill="#444"/>
<circle cx="621.6" cy="348.3" r="0.35" fill="#444"/>
<circle cx="630.6" cy="331.4" r="0.35" fill="#444"/>
<circle cx="631.4" cy="408.6" r="0.35" fill="#444"/>
<circle cx="621.7" cy="355.3" r="0.35" fill="#444"/>
<circle cx="625.4" cy="273.5" r="0.35" fill="#444"/>
<circle cx="631.6" cy="297.0" r="0.35" fill="#444"/>
<circle cx="627.2" cy="362.5" r="0.35" fill="#444"/>
<circle cx="631.5" cy="367.5" r="0.35" fill="#444"/>
<circle cx="625.3" cy="329.7" r="0.35" fill="#444"/>
<circle cx="622.8" cy="418.1" r="0.35" fill="#444"/>
<circle cx="631.9" cy="290.9" r="0.35" fill="#444"/>
<circle cx="621.4" cy="296.8" r="0.35" fill="#444"/>
<circle cx="624.9" cy="407.4" r="0.35" fill="#444"/>
<circle cx="631.0" cy="396.2" r="0.35" fill="#444"/>
<circle cx="621.5" cy="387.5" r="0.35" fill="#444"/>
<circle cx="628.8" cy="363.6" r="0.35" fill="#444"/>
<circle cx="631.8" cy="262.5" r="0.35" fill="#444"/>
<circle cx="622.6" cy="382.1" r="0.35" fill="#444"/>
<circle cx="631.3" cy="368.7" r="0.35" fill="#444"/>
<circle cx="624.3" cy="354.1" r="0.35" fill="#444"/>
<circle cx="629.3" cy="271.0" r="0.35" fill="#444"/>
<circle cx="624.6" cy="296.9" r="0.35" fill="#444"/>
<circle cx="622.4" cy="335.3" r="0.35" fill="#444"/>
<circle cx="622.9" cy="293.8" r="0.35" fill="#444"/>
<circle cx="622.6" cy="368.9" r="0.35" fill="#444"/>
<circle cx="621.1" cy="375.6" r="0.35" fill="#444"/>
<circle cx="623.1" cy="259.2" r="0.35" fill="#444"/>
<circle cx="631.2" cy="290.7" r="0.35" fill="#444"/>
<circle cx="631.3" cy="401.2" r="0.35" fill="#444"/>
<circle cx="630.8" cy="276.9" r="0.35" fill="#444"/>
<circle cx="625.9" cy="269.6" r="0.35" fill="#444"/>
<circle cx="631.2" cy="397.0" r="0.35" fill="#444"/>
<circle cx="627.9" cy="330.3" r="0.35" fill="#444"/>
<circle cx="624.7" cy="393.7" r="0.35" fill="#444"/>
<circle cx="626.3" cy="360.4" r="0.35" fill="#444"/>
<circle cx="622.6" cy="290.9" r="0.35" fill="#444"/>
<circle cx="621.6" cy="375.0" r="0.35" fill="#444"/>
<circle cx="627.1" cy="277.7" r="0.35" fill="#444"/>
<circle cx="630.6" cy="298.6" r="0.35" fill="#444"/>
<circle cx="625.5" cy="279.6" r="0.35" fill="#444"/>
<circle cx="624.0" cy="396.6" r="0.35" fill="#444"/>
<circle cx="624.7" cy="281.7" r="0.35" fill="#444"/>
<circle cx="626.4" cy="307.4" r="0.35" fill="#444"/>
<circle cx="630.9" cy="272.5" r="0.35" fill="#444"/>
<circle cx="631.8" cy="262.7" r="0.35" fill="#444"/>
<circle cx="630.8" cy="367.3" r="0.35" fill="#444"/>
<circle cx="623.3" cy="334.6" r="0.35" fill="#444"/>
<circle cx="624.1" cy="297.1" r="0.35" fill="#444"/>
<circle cx="623.2" cy="315.3" r="0.35" fill="#444"/>
<circle cx="631.9" cy="423.7" r="0.35" fill="#444"/>
<circle cx="631.2" cy="269.7" r="0.35" fill="#444"/>
<circle cx="624.2" cy="406.3" r="0.35" fill="#444"/>
<circle cx="621.6" cy="377.2" r="0.35" fill="#444"/>
<circle cx="624.2" cy="420.3" r="0.35" fill="#444"/>
<circle cx="621.2" cy="391.0" r="0.35" fill="#444"/>
<circle cx="624.7" cy="277.0" r="0.35" fill="#444"/>
<circle cx="621.0" cy="395.3" r="0.35" fill="#444"/>
<circle cx="626.8" cy="284.8" r="0.35" fill="#444"/>
<circle cx="625.8" cy="408.9" r="0.35" fill="#444"/>
<circle cx="623.4" cy="350.7" r="0.35" fill="#444"/>
<circle cx="622.5" cy="283.8" r="0.35" fill="#444"/>
<circle cx="629.5" cy="374.7" r="0.35" fill="#444"/>
<circle cx="623.2" cy="266.6" r="0.35" fill="#444"/>
<circle cx="622.0" cy="357.1" r="0.35" fill="#444"/>
<circle cx="626.5" cy="299.8" r="0.35" fill="#444"/>
<circle cx="623.3" cy="357.7" r="0.35" fill="#444"/>
<circle cx="628.8" cy="391.8" r="0.35" fill="#444"/>
<circle cx="627.4" cy="287.6" r="0.35" fill="#444"/>
<circle cx="621.7" cy="378.3" r="0.35" fill="#444"/>
<circle cx="625.5" cy="376.4" r="0.35" fill="#444"/>
<circle cx="621.6" cy="391.6" r="0.35" fill="#444"/>
<circle cx="624.7" cy="397.0" r="0.35" fill="#444"/>
<circle cx="630.5" cy="337.3" r="0.35" fill="#444"/>
<circle cx="621.2" cy="408.6" r="0.35" fill="#444"/>
<circle cx="626.2" cy="402.1" r="0.35" fill="#444"/>
<line x1="623.20" y1="231.30" x2="623.20" y2="251.70" stroke="#222" stroke-width="0.9" />
<line x1="630.10" y1="211.90" x2="630.10" y2="251.70" stroke="#222" stroke-width="0.9" />
<line x1="620.00" y1="268.00" x2="632.60" y2="268.00" stroke="#999" stroke-width="0.5" />
<line x1="620.00" y1="290.00" x2="632.60" y2="290.00" stroke="#999" stroke-width="0.5" />
<line x1="620.00" y1="311.00" x2="632.60" y2="311.00" stroke="#999" stroke-width="0.5" />
<line x1="620.00" y1="331.00" x2="632.60" y2="331.00" stroke="#999" stroke-width="0.5" />
<line x1="620.00" y1="352.00" x2="632.60" y2="352.00" stroke="#999" stroke-width="0.5" />
<line x1="620.00" y1="373.00" x2="632.60" y2="373.00" stroke="#999" stroke-width="0.5" />
<line x1="620.00" y1="393.00" x2="632.60" y2="393.00" stroke="#999" stroke-width="0.5" />
<line x1="620.00" y1="414.00" x2="632.60" y2="414.00" stroke="#999" stroke-width="0.5" />
<text x="548.10" y="271.80" font-size="7.4" fill="#2b2b2b" text-anchor="start" textLength="44.40" lengthAdjust="spacingAndGlyphs" >TO BE FILL WITH</text>
<line x1="548.10" y1="273.20" x2="592.50" y2="273.20" stroke="#222" stroke-width="0.7" />
<text x="548.10" y="280.30" font-size="7.0" fill="#2b2b2b" text-anchor="start" textLength="44.00" lengthAdjust="spacingAndGlyphs" >CEMENT MORTAR</text>
<line x1="591.80" y1="273.20" x2="621.40" y2="290.50" stroke="#222" stroke-width="0.8" />
<line x1="591.80" y1="273.20" x2="621.40" y2="311.20" stroke="#222" stroke-width="0.8" />
<line x1="607.50" y1="259.00" x2="597.00" y2="248.00" stroke="#222" stroke-width="0.8" />
<line x1="597.00" y1="248.00" x2="597.92" y2="250.86" stroke="#222" stroke-width="0.8" />
<line x1="597.00" y1="248.00" x2="599.81" y2="249.05" stroke="#222" stroke-width="0.8" />
<line x1="649.80" y1="259.00" x2="660.30" y2="248.00" stroke="#222" stroke-width="0.8" />
<line x1="660.30" y1="248.00" x2="657.49" y2="249.05" stroke="#222" stroke-width="0.8" />
<line x1="660.30" y1="248.00" x2="659.38" y2="250.86" stroke="#222" stroke-width="0.8" />
<line x1="607.50" y1="285.40" x2="597.00" y2="274.40" stroke="#222" stroke-width="0.8" />
<line x1="597.00" y1="274.40" x2="597.92" y2="277.26" stroke="#222" stroke-width="0.8" />
<line x1="597.00" y1="274.40" x2="599.81" y2="275.45" stroke="#222" stroke-width="0.8" />
<line x1="649.80" y1="285.40" x2="660.30" y2="274.40" stroke="#222" stroke-width="0.8" />
<line x1="660.30" y1="274.40" x2="657.49" y2="275.45" stroke="#222" stroke-width="0.8" />
<line x1="660.30" y1="274.40" x2="659.38" y2="277.26" stroke="#222" stroke-width="0.8" />
<line x1="607.50" y1="311.80" x2="597.00" y2="300.80" stroke="#222" stroke-width="0.8" />
<line x1="597.00" y1="300.80" x2="597.92" y2="303.66" stroke="#222" stroke-width="0.8" />
<line x1="597.00" y1="300.80" x2="599.81" y2="301.85" stroke="#222" stroke-width="0.8" />
<line x1="649.80" y1="311.80" x2="660.30" y2="300.80" stroke="#222" stroke-width="0.8" />
<line x1="660.30" y1="300.80" x2="657.49" y2="301.85" stroke="#222" stroke-width="0.8" />
<line x1="660.30" y1="300.80" x2="659.38" y2="303.66" stroke="#222" stroke-width="0.8" />
<line x1="607.50" y1="338.20" x2="597.00" y2="327.20" stroke="#222" stroke-width="0.8" />
<line x1="597.00" y1="327.20" x2="597.92" y2="330.06" stroke="#222" stroke-width="0.8" />
<line x1="597.00" y1="327.20" x2="599.81" y2="328.25" stroke="#222" stroke-width="0.8" />
<line x1="649.80" y1="338.20" x2="660.30" y2="327.20" stroke="#222" stroke-width="0.8" />
<line x1="660.30" y1="327.20" x2="657.49" y2="328.25" stroke="#222" stroke-width="0.8" />
<line x1="660.30" y1="327.20" x2="659.38" y2="330.06" stroke="#222" stroke-width="0.8" />
<line x1="607.50" y1="364.60" x2="597.00" y2="353.60" stroke="#222" stroke-width="0.8" />
<line x1="597.00" y1="353.60" x2="597.92" y2="356.46" stroke="#222" stroke-width="0.8" />
<line x1="597.00" y1="353.60" x2="599.81" y2="354.65" stroke="#222" stroke-width="0.8" />
<line x1="649.80" y1="364.60" x2="660.30" y2="353.60" stroke="#222" stroke-width="0.8" />
<line x1="660.30" y1="353.60" x2="657.49" y2="354.65" stroke="#222" stroke-width="0.8" />
<line x1="660.30" y1="353.60" x2="659.38" y2="356.46" stroke="#222" stroke-width="0.8" />
<line x1="607.50" y1="391.00" x2="597.00" y2="380.00" stroke="#222" stroke-width="0.8" />
<line x1="597.00" y1="380.00" x2="597.92" y2="382.86" stroke="#222" stroke-width="0.8" />
<line x1="597.00" y1="380.00" x2="599.81" y2="381.05" stroke="#222" stroke-width="0.8" />
<line x1="649.80" y1="391.00" x2="660.30" y2="380.00" stroke="#222" stroke-width="0.8" />
<line x1="660.30" y1="380.00" x2="657.49" y2="381.05" stroke="#222" stroke-width="0.8" />
<line x1="660.30" y1="380.00" x2="659.38" y2="382.86" stroke="#222" stroke-width="0.8" />
<line x1="607.50" y1="417.40" x2="597.00" y2="406.40" stroke="#222" stroke-width="0.8" />
<line x1="597.00" y1="406.40" x2="597.92" y2="409.26" stroke="#222" stroke-width="0.8" />
<line x1="597.00" y1="406.40" x2="599.81" y2="407.45" stroke="#222" stroke-width="0.8" />
<line x1="649.80" y1="417.40" x2="660.30" y2="406.40" stroke="#222" stroke-width="0.8" />
<line x1="660.30" y1="406.40" x2="657.49" y2="407.45" stroke="#222" stroke-width="0.8" />
<line x1="660.30" y1="406.40" x2="659.38" y2="409.26" stroke="#222" stroke-width="0.8" />
<rect x="351.20" y="104.00" width="261.60" height="13.30" fill="#c9c9c9" stroke="none" stroke-width="0.8" />
<circle cx="421.2" cy="107.1" r="0.4" fill="#555"/>
<circle cx="568.2" cy="109.2" r="0.4" fill="#555"/>
<circle cx="394.5" cy="109.3" r="0.4" fill="#555"/>
<circle cx="506.7" cy="105.1" r="0.4" fill="#555"/>
<circle cx="487.2" cy="110.1" r="0.4" fill="#555"/>
<circle cx="486.1" cy="106.4" r="0.4" fill="#555"/>
<circle cx="537.8" cy="114.4" r="0.4" fill="#555"/>
<circle cx="577.0" cy="108.7" r="0.4" fill="#555"/>
<circle cx="536.9" cy="109.4" r="0.4" fill="#555"/>
<circle cx="547.3" cy="105.7" r="0.4" fill="#555"/>
<circle cx="578.9" cy="116.0" r="0.4" fill="#555"/>
<circle cx="480.6" cy="110.9" r="0.4" fill="#555"/>
<circle cx="489.9" cy="111.2" r="0.4" fill="#555"/>
<circle cx="357.4" cy="116.1" r="0.4" fill="#555"/>
<circle cx="410.2" cy="107.1" r="0.4" fill="#555"/>
<circle cx="378.7" cy="107.9" r="0.4" fill="#555"/>
<circle cx="564.5" cy="105.3" r="0.4" fill="#555"/>
<circle cx="377.1" cy="113.0" r="0.4" fill="#555"/>
<circle cx="402.7" cy="105.2" r="0.4" fill="#555"/>
<circle cx="507.8" cy="111.6" r="0.4" fill="#555"/>
<circle cx="488.0" cy="113.1" r="0.4" fill="#555"/>
<circle cx="378.7" cy="115.0" r="0.4" fill="#555"/>
<circle cx="538.4" cy="105.5" r="0.4" fill="#555"/>
<circle cx="384.0" cy="110.7" r="0.4" fill="#555"/>
<circle cx="482.2" cy="108.2" r="0.4" fill="#555"/>
<circle cx="383.7" cy="109.7" r="0.4" fill="#555"/>
<circle cx="387.6" cy="111.8" r="0.4" fill="#555"/>
<circle cx="575.9" cy="106.7" r="0.4" fill="#555"/>
<circle cx="500.9" cy="113.6" r="0.4" fill="#555"/>
<circle cx="394.7" cy="114.5" r="0.4" fill="#555"/>
<circle cx="595.8" cy="109.5" r="0.4" fill="#555"/>
<circle cx="461.3" cy="114.7" r="0.4" fill="#555"/>
<circle cx="488.7" cy="109.5" r="0.4" fill="#555"/>
<circle cx="596.7" cy="113.9" r="0.4" fill="#555"/>
<circle cx="440.0" cy="107.8" r="0.4" fill="#555"/>
<circle cx="439.1" cy="110.0" r="0.4" fill="#555"/>
<circle cx="607.1" cy="114.3" r="0.4" fill="#555"/>
<circle cx="589.3" cy="114.4" r="0.4" fill="#555"/>
<circle cx="572.4" cy="105.6" r="0.4" fill="#555"/>
<circle cx="486.5" cy="116.0" r="0.4" fill="#555"/>
<circle cx="594.9" cy="107.9" r="0.4" fill="#555"/>
<circle cx="461.8" cy="112.3" r="0.4" fill="#555"/>
<circle cx="446.8" cy="111.1" r="0.4" fill="#555"/>
<circle cx="370.0" cy="110.0" r="0.4" fill="#555"/>
<circle cx="483.2" cy="105.2" r="0.4" fill="#555"/>
<circle cx="388.2" cy="116.2" r="0.4" fill="#555"/>
<circle cx="553.9" cy="115.8" r="0.4" fill="#555"/>
<circle cx="516.6" cy="114.3" r="0.4" fill="#555"/>
<circle cx="581.9" cy="115.2" r="0.4" fill="#555"/>
<circle cx="360.9" cy="112.4" r="0.4" fill="#555"/>
<circle cx="421.1" cy="112.8" r="0.4" fill="#555"/>
<circle cx="423.1" cy="111.2" r="0.4" fill="#555"/>
<circle cx="592.3" cy="112.1" r="0.4" fill="#555"/>
<circle cx="417.2" cy="111.0" r="0.4" fill="#555"/>
<circle cx="464.8" cy="115.9" r="0.4" fill="#555"/>
<circle cx="426.8" cy="108.5" r="0.4" fill="#555"/>
<circle cx="520.4" cy="106.4" r="0.4" fill="#555"/>
<circle cx="506.5" cy="116.0" r="0.4" fill="#555"/>
<circle cx="485.6" cy="108.1" r="0.4" fill="#555"/>
<circle cx="473.3" cy="111.1" r="0.4" fill="#555"/>
<circle cx="390.6" cy="106.4" r="0.4" fill="#555"/>
<circle cx="386.2" cy="108.4" r="0.4" fill="#555"/>
<circle cx="457.7" cy="108.3" r="0.4" fill="#555"/>
<circle cx="415.3" cy="106.0" r="0.4" fill="#555"/>
<circle cx="494.0" cy="114.7" r="0.4" fill="#555"/>
<circle cx="510.6" cy="111.6" r="0.4" fill="#555"/>
<circle cx="521.1" cy="107.3" r="0.4" fill="#555"/>
<circle cx="536.7" cy="110.3" r="0.4" fill="#555"/>
<circle cx="494.5" cy="112.0" r="0.4" fill="#555"/>
<circle cx="473.9" cy="108.6" r="0.4" fill="#555"/>
<circle cx="415.0" cy="107.5" r="0.4" fill="#555"/>
<circle cx="485.2" cy="109.4" r="0.4" fill="#555"/>
<circle cx="504.3" cy="105.1" r="0.4" fill="#555"/>
<circle cx="443.7" cy="114.9" r="0.4" fill="#555"/>
<circle cx="414.0" cy="111.4" r="0.4" fill="#555"/>
<circle cx="479.8" cy="108.3" r="0.4" fill="#555"/>
<circle cx="608.8" cy="108.4" r="0.4" fill="#555"/>
<circle cx="552.8" cy="106.8" r="0.4" fill="#555"/>
<circle cx="369.4" cy="115.0" r="0.4" fill="#555"/>
<circle cx="466.4" cy="105.7" r="0.4" fill="#555"/>
<circle cx="452.9" cy="110.1" r="0.4" fill="#555"/>
<circle cx="543.2" cy="106.3" r="0.4" fill="#555"/>
<circle cx="410.5" cy="116.0" r="0.4" fill="#555"/>
<circle cx="544.0" cy="106.8" r="0.4" fill="#555"/>
<circle cx="439.6" cy="109.1" r="0.4" fill="#555"/>
<circle cx="527.6" cy="112.1" r="0.4" fill="#555"/>
<circle cx="573.0" cy="114.4" r="0.4" fill="#555"/>
<circle cx="486.6" cy="113.5" r="0.4" fill="#555"/>
<circle cx="545.3" cy="113.7" r="0.4" fill="#555"/>
<circle cx="475.6" cy="114.0" r="0.4" fill="#555"/>
<circle cx="536.2" cy="115.5" r="0.4" fill="#555"/>
<circle cx="385.1" cy="115.0" r="0.4" fill="#555"/>
<circle cx="353.1" cy="113.8" r="0.4" fill="#555"/>
<circle cx="504.3" cy="110.7" r="0.4" fill="#555"/>
<circle cx="602.3" cy="111.6" r="0.4" fill="#555"/>
<circle cx="460.7" cy="114.0" r="0.4" fill="#555"/>
<circle cx="578.9" cy="112.0" r="0.4" fill="#555"/>
<circle cx="450.7" cy="110.2" r="0.4" fill="#555"/>
<circle cx="471.1" cy="113.3" r="0.4" fill="#555"/>
<circle cx="428.2" cy="109.5" r="0.4" fill="#555"/>
<circle cx="496.4" cy="109.4" r="0.4" fill="#555"/>
<circle cx="435.7" cy="114.1" r="0.4" fill="#555"/>
<circle cx="572.9" cy="110.7" r="0.4" fill="#555"/>
<circle cx="467.4" cy="107.1" r="0.4" fill="#555"/>
<circle cx="431.0" cy="106.7" r="0.4" fill="#555"/>
<circle cx="501.6" cy="111.7" r="0.4" fill="#555"/>
<circle cx="374.9" cy="115.6" r="0.4" fill="#555"/>
<circle cx="436.2" cy="114.7" r="0.4" fill="#555"/>
<circle cx="569.9" cy="116.0" r="0.4" fill="#555"/>
<circle cx="405.1" cy="109.9" r="0.4" fill="#555"/>
<circle cx="588.7" cy="105.1" r="0.4" fill="#555"/>
<circle cx="364.3" cy="111.5" r="0.4" fill="#555"/>
<circle cx="481.3" cy="115.6" r="0.4" fill="#555"/>
<circle cx="553.1" cy="111.2" r="0.4" fill="#555"/>
<circle cx="611.6" cy="111.0" r="0.4" fill="#555"/>
<circle cx="486.5" cy="112.9" r="0.4" fill="#555"/>
<circle cx="453.3" cy="109.1" r="0.4" fill="#555"/>
<circle cx="506.6" cy="109.0" r="0.4" fill="#555"/>
<circle cx="598.5" cy="112.8" r="0.4" fill="#555"/>
<circle cx="488.6" cy="106.1" r="0.4" fill="#555"/>
<circle cx="449.3" cy="109.6" r="0.4" fill="#555"/>
<circle cx="497.9" cy="111.6" r="0.4" fill="#555"/>
<circle cx="580.8" cy="116.1" r="0.4" fill="#555"/>
<circle cx="478.5" cy="110.1" r="0.4" fill="#555"/>
<circle cx="514.4" cy="116.5" r="0.4" fill="#555"/>
<circle cx="441.3" cy="111.1" r="0.4" fill="#555"/>
<circle cx="564.1" cy="107.0" r="0.4" fill="#555"/>
<circle cx="434.7" cy="116.3" r="0.4" fill="#555"/>
<circle cx="566.8" cy="110.9" r="0.4" fill="#555"/>
<circle cx="380.7" cy="115.3" r="0.4" fill="#555"/>
<circle cx="531.4" cy="114.4" r="0.4" fill="#555"/>
<circle cx="609.5" cy="115.2" r="0.4" fill="#555"/>
<circle cx="461.4" cy="106.8" r="0.4" fill="#555"/>
<circle cx="427.4" cy="110.9" r="0.4" fill="#555"/>
<circle cx="483.3" cy="107.2" r="0.4" fill="#555"/>
<circle cx="399.4" cy="112.2" r="0.4" fill="#555"/>
<circle cx="508.8" cy="109.1" r="0.4" fill="#555"/>
<circle cx="610.4" cy="112.3" r="0.4" fill="#555"/>
<circle cx="363.0" cy="109.7" r="0.4" fill="#555"/>
<circle cx="556.8" cy="108.5" r="0.4" fill="#555"/>
<circle cx="531.6" cy="105.0" r="0.4" fill="#555"/>
<circle cx="431.2" cy="114.7" r="0.4" fill="#555"/>
<circle cx="504.4" cy="112.7" r="0.4" fill="#555"/>
<circle cx="403.1" cy="110.7" r="0.4" fill="#555"/>
<circle cx="495.8" cy="108.1" r="0.4" fill="#555"/>
<circle cx="520.2" cy="111.1" r="0.4" fill="#555"/>
<circle cx="611.2" cy="111.6" r="0.4" fill="#555"/>
<circle cx="458.9" cy="106.4" r="0.4" fill="#555"/>
<circle cx="392.8" cy="113.7" r="0.4" fill="#555"/>
<circle cx="379.7" cy="106.2" r="0.4" fill="#555"/>
<circle cx="396.3" cy="111.0" r="0.4" fill="#555"/>
<circle cx="566.0" cy="112.0" r="0.4" fill="#555"/>
<circle cx="561.7" cy="105.7" r="0.4" fill="#555"/>
<circle cx="355.2" cy="113.9" r="0.4" fill="#555"/>
<circle cx="435.9" cy="113.2" r="0.4" fill="#555"/>
<circle cx="444.0" cy="106.9" r="0.4" fill="#555"/>
<circle cx="421.3" cy="106.1" r="0.4" fill="#555"/>
<circle cx="587.0" cy="111.7" r="0.4" fill="#555"/>
<circle cx="442.7" cy="110.2" r="0.4" fill="#555"/>
<circle cx="452.3" cy="105.6" r="0.4" fill="#555"/>
<circle cx="583.5" cy="111.7" r="0.4" fill="#555"/>
<circle cx="601.5" cy="110.1" r="0.4" fill="#555"/>
<circle cx="513.2" cy="107.9" r="0.4" fill="#555"/>
<circle cx="363.4" cy="115.7" r="0.4" fill="#555"/>
<circle cx="574.2" cy="108.6" r="0.4" fill="#555"/>
<circle cx="585.7" cy="114.4" r="0.4" fill="#555"/>
<circle cx="431.0" cy="111.9" r="0.4" fill="#555"/>
<circle cx="601.6" cy="110.7" r="0.4" fill="#555"/>
<circle cx="598.9" cy="107.8" r="0.4" fill="#555"/>
<circle cx="453.3" cy="113.3" r="0.4" fill="#555"/>
<circle cx="409.6" cy="108.6" r="0.4" fill="#555"/>
<circle cx="579.6" cy="110.6" r="0.4" fill="#555"/>
<circle cx="558.1" cy="107.8" r="0.4" fill="#555"/>
<circle cx="397.1" cy="109.1" r="0.4" fill="#555"/>
<circle cx="400.5" cy="116.2" r="0.4" fill="#555"/>
<circle cx="427.6" cy="111.5" r="0.4" fill="#555"/>
<circle cx="381.9" cy="111.1" r="0.4" fill="#555"/>
<circle cx="452.3" cy="109.6" r="0.4" fill="#555"/>
<circle cx="369.0" cy="106.4" r="0.4" fill="#555"/>
<circle cx="566.7" cy="109.0" r="0.4" fill="#555"/>
<circle cx="415.7" cy="107.2" r="0.4" fill="#555"/>
<circle cx="425.7" cy="107.7" r="0.4" fill="#555"/>
<circle cx="361.1" cy="112.6" r="0.4" fill="#555"/>
<circle cx="440.8" cy="106.8" r="0.4" fill="#555"/>
<circle cx="535.5" cy="106.1" r="0.4" fill="#555"/>
<circle cx="422.1" cy="114.6" r="0.4" fill="#555"/>
<circle cx="385.2" cy="110.1" r="0.4" fill="#555"/>
<circle cx="569.4" cy="114.3" r="0.4" fill="#555"/>
<circle cx="393.4" cy="109.1" r="0.4" fill="#555"/>
<circle cx="539.8" cy="109.3" r="0.4" fill="#555"/>
<circle cx="601.2" cy="107.4" r="0.4" fill="#555"/>
<circle cx="599.2" cy="110.8" r="0.4" fill="#555"/>
<circle cx="411.1" cy="110.2" r="0.4" fill="#555"/>
<circle cx="386.0" cy="113.1" r="0.4" fill="#555"/>
<circle cx="419.8" cy="115.3" r="0.4" fill="#555"/>
<circle cx="504.8" cy="109.2" r="0.4" fill="#555"/>
<circle cx="416.0" cy="112.0" r="0.4" fill="#555"/>
<circle cx="407.3" cy="115.0" r="0.4" fill="#555"/>
<circle cx="383.9" cy="110.9" r="0.4" fill="#555"/>
<circle cx="493.1" cy="108.1" r="0.4" fill="#555"/>
<circle cx="552.7" cy="109.4" r="0.4" fill="#555"/>
<circle cx="523.0" cy="111.5" r="0.4" fill="#555"/>
<circle cx="432.8" cy="109.5" r="0.4" fill="#555"/>
<circle cx="374.4" cy="107.0" r="0.4" fill="#555"/>
<circle cx="573.3" cy="108.7" r="0.4" fill="#555"/>
<circle cx="524.3" cy="106.3" r="0.4" fill="#555"/>
<circle cx="498.1" cy="109.2" r="0.4" fill="#555"/>
<circle cx="482.1" cy="108.4" r="0.4" fill="#555"/>
<circle cx="369.1" cy="108.6" r="0.4" fill="#555"/>
<circle cx="410.9" cy="106.5" r="0.4" fill="#555"/>
<circle cx="538.3" cy="108.2" r="0.4" fill="#555"/>
<circle cx="456.9" cy="115.5" r="0.4" fill="#555"/>
<circle cx="553.5" cy="115.2" r="0.4" fill="#555"/>
<circle cx="575.9" cy="106.5" r="0.4" fill="#555"/>
<circle cx="423.9" cy="105.3" r="0.4" fill="#555"/>
<circle cx="528.7" cy="112.6" r="0.4" fill="#555"/>
<circle cx="443.4" cy="109.7" r="0.4" fill="#555"/>
<circle cx="523.4" cy="113.0" r="0.4" fill="#555"/>
<circle cx="416.6" cy="114.7" r="0.4" fill="#555"/>
<circle cx="443.5" cy="112.2" r="0.4" fill="#555"/>
<circle cx="399.2" cy="106.3" r="0.4" fill="#555"/>
<circle cx="589.3" cy="113.4" r="0.4" fill="#555"/>
<circle cx="537.3" cy="105.5" r="0.4" fill="#555"/>
<circle cx="362.4" cy="106.9" r="0.4" fill="#555"/>
<circle cx="403.5" cy="108.5" r="0.4" fill="#555"/>
<circle cx="451.0" cy="105.5" r="0.4" fill="#555"/>
<circle cx="432.8" cy="112.3" r="0.4" fill="#555"/>
<circle cx="398.7" cy="114.7" r="0.4" fill="#555"/>
<circle cx="500.2" cy="113.2" r="0.4" fill="#555"/>
<circle cx="418.2" cy="110.0" r="0.4" fill="#555"/>
<circle cx="529.9" cy="109.0" r="0.4" fill="#555"/>
<circle cx="352.3" cy="114.6" r="0.4" fill="#555"/>
<circle cx="553.9" cy="108.3" r="0.4" fill="#555"/>
<circle cx="363.2" cy="114.8" r="0.4" fill="#555"/>
<circle cx="509.9" cy="105.5" r="0.4" fill="#555"/>
<circle cx="415.6" cy="106.3" r="0.4" fill="#555"/>
<circle cx="557.8" cy="107.4" r="0.4" fill="#555"/>
<circle cx="589.8" cy="113.6" r="0.4" fill="#555"/>
<circle cx="374.4" cy="113.0" r="0.4" fill="#555"/>
<circle cx="454.3" cy="113.6" r="0.4" fill="#555"/>
<circle cx="567.5" cy="108.2" r="0.4" fill="#555"/>
<circle cx="375.4" cy="115.9" r="0.4" fill="#555"/>
<circle cx="462.2" cy="115.7" r="0.4" fill="#555"/>
<circle cx="531.8" cy="113.5" r="0.4" fill="#555"/>
<circle cx="567.8" cy="112.2" r="0.4" fill="#555"/>
<circle cx="469.7" cy="105.6" r="0.4" fill="#555"/>
<circle cx="533.5" cy="109.9" r="0.4" fill="#555"/>
<circle cx="485.1" cy="115.7" r="0.4" fill="#555"/>
<circle cx="385.2" cy="113.8" r="0.4" fill="#555"/>
<circle cx="363.4" cy="113.1" r="0.4" fill="#555"/>
<circle cx="561.5" cy="108.0" r="0.4" fill="#555"/>
<circle cx="494.1" cy="116.1" r="0.4" fill="#555"/>
<circle cx="517.8" cy="111.3" r="0.4" fill="#555"/>
<circle cx="416.9" cy="105.7" r="0.4" fill="#555"/>
<circle cx="445.0" cy="109.7" r="0.4" fill="#555"/>
<circle cx="404.4" cy="108.6" r="0.4" fill="#555"/>
<circle cx="387.5" cy="113.1" r="0.4" fill="#555"/>
<circle cx="526.3" cy="107.7" r="0.4" fill="#555"/>
<circle cx="414.8" cy="110.9" r="0.4" fill="#555"/>
<circle cx="467.7" cy="115.8" r="0.4" fill="#555"/>
<circle cx="443.4" cy="108.4" r="0.4" fill="#555"/>
<circle cx="582.0" cy="106.6" r="0.4" fill="#555"/>
<circle cx="498.4" cy="108.8" r="0.4" fill="#555"/>
<circle cx="564.0" cy="111.3" r="0.4" fill="#555"/>
<circle cx="549.7" cy="106.9" r="0.4" fill="#555"/>
<circle cx="525.3" cy="111.9" r="0.4" fill="#555"/>
<circle cx="471.9" cy="113.8" r="0.4" fill="#555"/>
<circle cx="568.1" cy="106.3" r="0.4" fill="#555"/>
<circle cx="427.2" cy="109.1" r="0.4" fill="#555"/>
<circle cx="405.7" cy="105.7" r="0.4" fill="#555"/>
<circle cx="425.0" cy="107.3" r="0.4" fill="#555"/>
<circle cx="534.4" cy="110.2" r="0.4" fill="#555"/>
<circle cx="381.4" cy="108.7" r="0.4" fill="#555"/>
<circle cx="473.9" cy="109.2" r="0.4" fill="#555"/>
<circle cx="395.7" cy="105.8" r="0.4" fill="#555"/>
<circle cx="354.8" cy="116.4" r="0.4" fill="#555"/>
<circle cx="547.1" cy="106.0" r="0.4" fill="#555"/>
<circle cx="538.5" cy="116.3" r="0.4" fill="#555"/>
<circle cx="498.5" cy="106.3" r="0.4" fill="#555"/>
<circle cx="479.1" cy="110.0" r="0.4" fill="#555"/>
<circle cx="401.4" cy="111.2" r="0.4" fill="#555"/>
<circle cx="354.2" cy="115.6" r="0.4" fill="#555"/>
<circle cx="519.6" cy="112.2" r="0.4" fill="#555"/>
<circle cx="595.2" cy="112.5" r="0.4" fill="#555"/>
<circle cx="417.4" cy="107.8" r="0.4" fill="#555"/>
<circle cx="388.0" cy="105.3" r="0.4" fill="#555"/>
<circle cx="553.4" cy="114.7" r="0.4" fill="#555"/>
<circle cx="429.0" cy="107.1" r="0.4" fill="#555"/>
<circle cx="517.9" cy="114.7" r="0.4" fill="#555"/>
<circle cx="592.9" cy="106.9" r="0.4" fill="#555"/>
<circle cx="556.0" cy="114.5" r="0.4" fill="#555"/>
<circle cx="545.0" cy="108.8" r="0.4" fill="#555"/>
<circle cx="400.0" cy="114.5" r="0.4" fill="#555"/>
<circle cx="435.2" cy="109.2" r="0.4" fill="#555"/>
<circle cx="495.3" cy="109.2" r="0.4" fill="#555"/>
<circle cx="568.2" cy="107.8" r="0.4" fill="#555"/>
<circle cx="362.7" cy="111.5" r="0.4" fill="#555"/>
<circle cx="515.3" cy="114.4" r="0.4" fill="#555"/>
<circle cx="535.4" cy="115.4" r="0.4" fill="#555"/>
<circle cx="597.7" cy="110.7" r="0.4" fill="#555"/>
<circle cx="481.9" cy="106.8" r="0.4" fill="#555"/>
<circle cx="429.9" cy="111.7" r="0.4" fill="#555"/>
<circle cx="372.9" cy="112.9" r="0.4" fill="#555"/>
<circle cx="394.5" cy="110.1" r="0.4" fill="#555"/>
<circle cx="604.2" cy="106.0" r="0.4" fill="#555"/>
<circle cx="362.4" cy="110.1" r="0.4" fill="#555"/>
<circle cx="401.6" cy="113.3" r="0.4" fill="#555"/>
<circle cx="352.7" cy="114.7" r="0.4" fill="#555"/>
<circle cx="574.4" cy="114.0" r="0.4" fill="#555"/>
<circle cx="462.6" cy="108.3" r="0.4" fill="#555"/>
<circle cx="524.0" cy="110.9" r="0.4" fill="#555"/>
<circle cx="461.5" cy="108.9" r="0.4" fill="#555"/>
<circle cx="466.1" cy="112.7" r="0.4" fill="#555"/>
<circle cx="566.8" cy="115.4" r="0.4" fill="#555"/>
<circle cx="394.8" cy="108.4" r="0.4" fill="#555"/>
<circle cx="467.2" cy="111.5" r="0.4" fill="#555"/>
<circle cx="442.5" cy="107.2" r="0.4" fill="#555"/>
<circle cx="374.1" cy="108.7" r="0.4" fill="#555"/>
<circle cx="471.7" cy="116.2" r="0.4" fill="#555"/>
<circle cx="588.3" cy="115.0" r="0.4" fill="#555"/>
<circle cx="605.3" cy="116.1" r="0.4" fill="#555"/>
<circle cx="513.2" cy="114.3" r="0.4" fill="#555"/>
<circle cx="367.6" cy="112.8" r="0.4" fill="#555"/>
<circle cx="510.4" cy="108.4" r="0.4" fill="#555"/>
<circle cx="500.5" cy="116.0" r="0.4" fill="#555"/>
<circle cx="477.0" cy="112.4" r="0.4" fill="#555"/>
<circle cx="429.8" cy="108.9" r="0.4" fill="#555"/>
<circle cx="582.1" cy="105.3" r="0.4" fill="#555"/>
<circle cx="401.1" cy="112.8" r="0.4" fill="#555"/>
<circle cx="468.3" cy="106.0" r="0.4" fill="#555"/>
<circle cx="523.7" cy="109.3" r="0.4" fill="#555"/>
<circle cx="503.0" cy="109.8" r="0.4" fill="#555"/>
<circle cx="489.8" cy="111.5" r="0.4" fill="#555"/>
<circle cx="455.0" cy="106.3" r="0.4" fill="#555"/>
<circle cx="398.9" cy="115.2" r="0.4" fill="#555"/>
<circle cx="494.5" cy="106.3" r="0.4" fill="#555"/>
<circle cx="576.2" cy="107.9" r="0.4" fill="#555"/>
<circle cx="376.7" cy="111.1" r="0.4" fill="#555"/>
<circle cx="417.4" cy="110.6" r="0.4" fill="#555"/>
<circle cx="496.0" cy="107.6" r="0.4" fill="#555"/>
<circle cx="500.9" cy="106.3" r="0.4" fill="#555"/>
<circle cx="485.4" cy="111.8" r="0.4" fill="#555"/>
<circle cx="372.9" cy="109.7" r="0.4" fill="#555"/>
<circle cx="371.1" cy="110.1" r="0.4" fill="#555"/>
<circle cx="576.5" cy="111.3" r="0.4" fill="#555"/>
<circle cx="537.8" cy="113.7" r="0.4" fill="#555"/>
<circle cx="381.8" cy="116.4" r="0.4" fill="#555"/>
<circle cx="539.6" cy="106.2" r="0.4" fill="#555"/>
<circle cx="567.9" cy="109.5" r="0.4" fill="#555"/>
<circle cx="396.5" cy="116.0" r="0.4" fill="#555"/>
<circle cx="498.4" cy="113.9" r="0.4" fill="#555"/>
<circle cx="387.6" cy="113.9" r="0.4" fill="#555"/>
<circle cx="367.0" cy="107.7" r="0.4" fill="#555"/>
<circle cx="448.8" cy="105.2" r="0.4" fill="#555"/>
<circle cx="506.5" cy="107.5" r="0.4" fill="#555"/>
<circle cx="430.0" cy="113.1" r="0.4" fill="#555"/>
<circle cx="462.8" cy="115.2" r="0.4" fill="#555"/>
<circle cx="513.5" cy="115.0" r="0.4" fill="#555"/>
<circle cx="498.4" cy="115.6" r="0.4" fill="#555"/>
<circle cx="578.4" cy="106.9" r="0.4" fill="#555"/>
<circle cx="545.8" cy="108.9" r="0.4" fill="#555"/>
<circle cx="550.5" cy="112.8" r="0.4" fill="#555"/>
<circle cx="566.7" cy="106.4" r="0.4" fill="#555"/>
<circle cx="449.0" cy="113.5" r="0.4" fill="#555"/>
<circle cx="598.5" cy="113.3" r="0.4" fill="#555"/>
<circle cx="363.3" cy="111.9" r="0.4" fill="#555"/>
<circle cx="377.9" cy="111.3" r="0.4" fill="#555"/>
<circle cx="560.8" cy="106.3" r="0.4" fill="#555"/>
<circle cx="592.6" cy="112.8" r="0.4" fill="#555"/>
<circle cx="418.2" cy="107.2" r="0.4" fill="#555"/>
<circle cx="468.2" cy="114.6" r="0.4" fill="#555"/>
<circle cx="503.2" cy="106.3" r="0.4" fill="#555"/>
<circle cx="357.4" cy="106.3" r="0.4" fill="#555"/>
<circle cx="560.2" cy="107.1" r="0.4" fill="#555"/>
<circle cx="496.1" cy="108.3" r="0.4" fill="#555"/>
<circle cx="530.7" cy="109.4" r="0.4" fill="#555"/>
<circle cx="389.5" cy="115.1" r="0.4" fill="#555"/>
<circle cx="492.0" cy="112.9" r="0.4" fill="#555"/>
<circle cx="562.1" cy="115.9" r="0.4" fill="#555"/>
<circle cx="355.6" cy="108.9" r="0.4" fill="#555"/>
<circle cx="391.2" cy="110.8" r="0.4" fill="#555"/>
<circle cx="579.0" cy="114.2" r="0.4" fill="#555"/>
<circle cx="361.2" cy="107.1" r="0.4" fill="#555"/>
<circle cx="564.8" cy="112.8" r="0.4" fill="#555"/>
<circle cx="454.1" cy="110.5" r="0.4" fill="#555"/>
<circle cx="393.2" cy="114.7" r="0.4" fill="#555"/>
<circle cx="454.3" cy="115.0" r="0.4" fill="#555"/>
<circle cx="510.8" cy="105.9" r="0.4" fill="#555"/>
<circle cx="437.6" cy="107.5" r="0.4" fill="#555"/>
<circle cx="584.4" cy="111.8" r="0.4" fill="#555"/>
<circle cx="363.4" cy="107.0" r="0.4" fill="#555"/>
<circle cx="445.9" cy="110.4" r="0.4" fill="#555"/>
<circle cx="502.0" cy="109.5" r="0.4" fill="#555"/>
<circle cx="444.0" cy="105.1" r="0.4" fill="#555"/>
<circle cx="502.6" cy="108.8" r="0.4" fill="#555"/>
<circle cx="357.3" cy="110.3" r="0.4" fill="#555"/>
<circle cx="608.5" cy="105.5" r="0.4" fill="#555"/>
<circle cx="389.9" cy="112.7" r="0.4" fill="#555"/>
<circle cx="422.9" cy="108.1" r="0.4" fill="#555"/>
<circle cx="482.0" cy="108.0" r="0.4" fill="#555"/>
<circle cx="499.9" cy="111.1" r="0.4" fill="#555"/>
<circle cx="600.8" cy="116.4" r="0.4" fill="#555"/>
<circle cx="360.9" cy="111.4" r="0.4" fill="#555"/>
<circle cx="552.4" cy="115.0" r="0.4" fill="#555"/>
<circle cx="553.3" cy="112.3" r="0.4" fill="#555"/>
<circle cx="517.0" cy="109.2" r="0.4" fill="#555"/>
<circle cx="425.2" cy="114.1" r="0.4" fill="#555"/>
<circle cx="578.9" cy="115.8" r="0.4" fill="#555"/>
<circle cx="529.1" cy="108.5" r="0.4" fill="#555"/>
<circle cx="550.5" cy="113.5" r="0.4" fill="#555"/>
<circle cx="484.3" cy="112.3" r="0.4" fill="#555"/>
<circle cx="443.1" cy="111.3" r="0.4" fill="#555"/>
<circle cx="457.6" cy="105.7" r="0.4" fill="#555"/>
<circle cx="439.7" cy="108.7" r="0.4" fill="#555"/>
<circle cx="609.0" cy="110.5" r="0.4" fill="#555"/>
<circle cx="447.5" cy="107.8" r="0.4" fill="#555"/>
<circle cx="413.1" cy="109.0" r="0.4" fill="#555"/>
<circle cx="387.3" cy="105.1" r="0.4" fill="#555"/>
<circle cx="578.5" cy="110.2" r="0.4" fill="#555"/>
<circle cx="467.8" cy="111.5" r="0.4" fill="#555"/>
<circle cx="430.6" cy="106.9" r="0.4" fill="#555"/>
<circle cx="369.2" cy="108.5" r="0.4" fill="#555"/>
<circle cx="432.2" cy="113.4" r="0.4" fill="#555"/>
<circle cx="495.3" cy="115.8" r="0.4" fill="#555"/>
<circle cx="440.5" cy="115.6" r="0.4" fill="#555"/>
<circle cx="503.7" cy="105.9" r="0.4" fill="#555"/>
<circle cx="398.5" cy="111.7" r="0.4" fill="#555"/>
<circle cx="608.7" cy="109.1" r="0.4" fill="#555"/>
<circle cx="553.4" cy="109.9" r="0.4" fill="#555"/>
<circle cx="577.8" cy="105.8" r="0.4" fill="#555"/>
<circle cx="478.0" cy="115.3" r="0.4" fill="#555"/>
<circle cx="423.7" cy="108.0" r="0.4" fill="#555"/>
<circle cx="358.0" cy="106.9" r="0.4" fill="#555"/>
<circle cx="421.7" cy="113.1" r="0.4" fill="#555"/>
<circle cx="408.8" cy="109.6" r="0.4" fill="#555"/>
<circle cx="404.1" cy="111.9" r="0.4" fill="#555"/>
<circle cx="576.7" cy="112.5" r="0.4" fill="#555"/>
<circle cx="403.1" cy="113.4" r="0.4" fill="#555"/>
<circle cx="602.4" cy="111.9" r="0.4" fill="#555"/>
<circle cx="372.6" cy="114.3" r="0.4" fill="#555"/>
<circle cx="579.6" cy="108.9" r="0.4" fill="#555"/>
<circle cx="387.5" cy="107.2" r="0.4" fill="#555"/>
<circle cx="491.6" cy="115.1" r="0.4" fill="#555"/>
<circle cx="518.4" cy="115.6" r="0.4" fill="#555"/>
<circle cx="407.2" cy="108.8" r="0.4" fill="#555"/>
<circle cx="546.8" cy="112.5" r="0.4" fill="#555"/>
<circle cx="457.4" cy="112.8" r="0.4" fill="#555"/>
<circle cx="439.8" cy="105.7" r="0.4" fill="#555"/>
<circle cx="459.7" cy="105.5" r="0.4" fill="#555"/>
<circle cx="514.8" cy="108.8" r="0.4" fill="#555"/>
<circle cx="480.5" cy="111.9" r="0.4" fill="#555"/>
<circle cx="418.8" cy="110.3" r="0.4" fill="#555"/>
<circle cx="355.5" cy="115.6" r="0.4" fill="#555"/>
<circle cx="498.7" cy="116.4" r="0.4" fill="#555"/>
<circle cx="366.6" cy="112.1" r="0.4" fill="#555"/>
<circle cx="540.3" cy="108.8" r="0.4" fill="#555"/>
<circle cx="376.3" cy="106.8" r="0.4" fill="#555"/>
<circle cx="389.1" cy="113.8" r="0.4" fill="#555"/>
<circle cx="375.4" cy="114.4" r="0.4" fill="#555"/>
<circle cx="462.0" cy="111.2" r="0.4" fill="#555"/>
<circle cx="505.0" cy="111.4" r="0.4" fill="#555"/>
<circle cx="522.9" cy="111.9" r="0.4" fill="#555"/>
<circle cx="438.0" cy="113.5" r="0.4" fill="#555"/>
<circle cx="419.0" cy="113.2" r="0.4" fill="#555"/>
<circle cx="550.5" cy="113.9" r="0.4" fill="#555"/>
<circle cx="432.4" cy="113.9" r="0.4" fill="#555"/>
<circle cx="606.1" cy="110.2" r="0.4" fill="#555"/>
<circle cx="424.3" cy="111.0" r="0.4" fill="#555"/>
<circle cx="596.6" cy="106.5" r="0.4" fill="#555"/>
<circle cx="354.4" cy="110.5" r="0.4" fill="#555"/>
<circle cx="522.4" cy="113.9" r="0.4" fill="#555"/>
<circle cx="446.2" cy="116.4" r="0.4" fill="#555"/>
<circle cx="411.3" cy="113.7" r="0.4" fill="#555"/>
<circle cx="375.4" cy="105.3" r="0.4" fill="#555"/>
<circle cx="386.9" cy="105.7" r="0.4" fill="#555"/>
<circle cx="482.5" cy="111.4" r="0.4" fill="#555"/>
<circle cx="399.3" cy="115.8" r="0.4" fill="#555"/>
<circle cx="447.1" cy="106.7" r="0.4" fill="#555"/>
<circle cx="398.1" cy="113.5" r="0.4" fill="#555"/>
<circle cx="591.6" cy="106.9" r="0.4" fill="#555"/>
<circle cx="359.6" cy="113.9" r="0.4" fill="#555"/>
<circle cx="415.1" cy="116.3" r="0.4" fill="#555"/>
<circle cx="481.7" cy="112.3" r="0.4" fill="#555"/>
<circle cx="441.5" cy="114.2" r="0.4" fill="#555"/>
<circle cx="471.6" cy="108.7" r="0.4" fill="#555"/>
<circle cx="586.9" cy="106.2" r="0.4" fill="#555"/>
<circle cx="542.7" cy="105.8" r="0.4" fill="#555"/>
<circle cx="519.8" cy="109.6" r="0.4" fill="#555"/>
<circle cx="576.7" cy="105.7" r="0.4" fill="#555"/>
<circle cx="498.7" cy="109.7" r="0.4" fill="#555"/>
<circle cx="591.0" cy="115.9" r="0.4" fill="#555"/>
<circle cx="515.1" cy="107.6" r="0.4" fill="#555"/>
<circle cx="417.5" cy="108.0" r="0.4" fill="#555"/>
<circle cx="464.8" cy="107.7" r="0.4" fill="#555"/>
<circle cx="404.8" cy="113.7" r="0.4" fill="#555"/>
<circle cx="519.1" cy="108.4" r="0.4" fill="#555"/>
<circle cx="610.5" cy="107.5" r="0.4" fill="#555"/>
<circle cx="500.1" cy="106.8" r="0.4" fill="#555"/>
<circle cx="576.4" cy="115.0" r="0.4" fill="#555"/>
<circle cx="421.5" cy="113.6" r="0.4" fill="#555"/>
<circle cx="565.9" cy="108.2" r="0.4" fill="#555"/>
<circle cx="438.2" cy="110.6" r="0.4" fill="#555"/>
<circle cx="583.7" cy="106.9" r="0.4" fill="#555"/>
<circle cx="529.5" cy="111.9" r="0.4" fill="#555"/>
<circle cx="469.8" cy="111.7" r="0.4" fill="#555"/>
<circle cx="581.5" cy="107.4" r="0.4" fill="#555"/>
<circle cx="581.7" cy="109.1" r="0.4" fill="#555"/>
<circle cx="554.8" cy="114.9" r="0.4" fill="#555"/>
<circle cx="399.4" cy="114.9" r="0.4" fill="#555"/>
<circle cx="610.7" cy="108.4" r="0.4" fill="#555"/>
<circle cx="358.4" cy="106.3" r="0.4" fill="#555"/>
<circle cx="605.3" cy="105.1" r="0.4" fill="#555"/>
<circle cx="589.0" cy="106.7" r="0.4" fill="#555"/>
<circle cx="543.4" cy="106.1" r="0.4" fill="#555"/>
<circle cx="395.9" cy="112.9" r="0.4" fill="#555"/>
<circle cx="375.5" cy="108.9" r="0.4" fill="#555"/>
<circle cx="590.8" cy="113.2" r="0.4" fill="#555"/>
<circle cx="581.3" cy="116.3" r="0.4" fill="#555"/>
<circle cx="360.6" cy="107.7" r="0.4" fill="#555"/>
<circle cx="557.9" cy="112.9" r="0.4" fill="#555"/>
<circle cx="361.8" cy="110.8" r="0.4" fill="#555"/>
<circle cx="412.2" cy="110.0" r="0.4" fill="#555"/>
<circle cx="379.3" cy="105.2" r="0.4" fill="#555"/>
<circle cx="609.6" cy="108.6" r="0.4" fill="#555"/>
<circle cx="580.4" cy="106.4" r="0.4" fill="#555"/>
<circle cx="478.7" cy="106.6" r="0.4" fill="#555"/>
<circle cx="463.4" cy="107.1" r="0.4" fill="#555"/>
<circle cx="530.2" cy="106.7" r="0.4" fill="#555"/>
<circle cx="543.9" cy="110.8" r="0.4" fill="#555"/>
<circle cx="381.2" cy="109.1" r="0.4" fill="#555"/>
<circle cx="481.0" cy="115.6" r="0.4" fill="#555"/>
<circle cx="442.9" cy="107.5" r="0.4" fill="#555"/>
<circle cx="603.6" cy="115.2" r="0.4" fill="#555"/>
<circle cx="542.2" cy="108.1" r="0.4" fill="#555"/>
<circle cx="398.1" cy="108.0" r="0.4" fill="#555"/>
<circle cx="369.9" cy="105.5" r="0.4" fill="#555"/>
<circle cx="484.3" cy="109.7" r="0.4" fill="#555"/>
<circle cx="496.7" cy="109.2" r="0.4" fill="#555"/>
<circle cx="354.8" cy="112.9" r="0.4" fill="#555"/>
<circle cx="521.8" cy="111.3" r="0.4" fill="#555"/>
<circle cx="494.7" cy="112.9" r="0.4" fill="#555"/>
<circle cx="607.4" cy="115.1" r="0.4" fill="#555"/>
<circle cx="538.6" cy="109.6" r="0.4" fill="#555"/>
<circle cx="434.7" cy="109.8" r="0.4" fill="#555"/>
<circle cx="605.0" cy="109.5" r="0.4" fill="#555"/>
<circle cx="452.2" cy="109.7" r="0.4" fill="#555"/>
<circle cx="389.2" cy="116.5" r="0.4" fill="#555"/>
<circle cx="353.4" cy="112.0" r="0.4" fill="#555"/>
<circle cx="592.8" cy="107.9" r="0.4" fill="#555"/>
<circle cx="510.8" cy="109.3" r="0.4" fill="#555"/>
<circle cx="414.6" cy="107.3" r="0.4" fill="#555"/>
<circle cx="382.2" cy="114.7" r="0.4" fill="#555"/>
<circle cx="555.8" cy="115.4" r="0.4" fill="#555"/>
<circle cx="364.9" cy="113.0" r="0.4" fill="#555"/>
<circle cx="436.3" cy="112.4" r="0.4" fill="#555"/>
<circle cx="494.7" cy="108.6" r="0.4" fill="#555"/>
<circle cx="604.6" cy="105.0" r="0.4" fill="#555"/>
<circle cx="546.0" cy="114.8" r="0.4" fill="#555"/>
<circle cx="484.6" cy="111.8" r="0.4" fill="#555"/>
<circle cx="610.6" cy="107.7" r="0.4" fill="#555"/>
<circle cx="515.7" cy="113.5" r="0.4" fill="#555"/>
<circle cx="450.5" cy="113.2" r="0.4" fill="#555"/>
<circle cx="454.3" cy="111.1" r="0.4" fill="#555"/>
<circle cx="511.3" cy="112.8" r="0.4" fill="#555"/>
<circle cx="435.8" cy="112.2" r="0.4" fill="#555"/>
<circle cx="493.2" cy="107.6" r="0.4" fill="#555"/>
<circle cx="511.3" cy="108.0" r="0.4" fill="#555"/>
<circle cx="588.3" cy="110.4" r="0.4" fill="#555"/>
<circle cx="539.6" cy="111.0" r="0.4" fill="#555"/>
<circle cx="475.9" cy="107.5" r="0.4" fill="#555"/>
<circle cx="388.9" cy="115.7" r="0.4" fill="#555"/>
<circle cx="489.5" cy="111.0" r="0.4" fill="#555"/>
<circle cx="489.1" cy="114.4" r="0.4" fill="#555"/>
<circle cx="414.0" cy="107.0" r="0.4" fill="#555"/>
<circle cx="565.7" cy="110.3" r="0.4" fill="#555"/>
<circle cx="518.5" cy="114.5" r="0.4" fill="#555"/>
<circle cx="584.4" cy="115.0" r="0.4" fill="#555"/>
<circle cx="363.2" cy="109.4" r="0.4" fill="#555"/>
<circle cx="568.4" cy="114.4" r="0.4" fill="#555"/>
<circle cx="384.0" cy="106.8" r="0.4" fill="#555"/>
<circle cx="417.4" cy="106.2" r="0.4" fill="#555"/>
<circle cx="444.7" cy="114.2" r="0.4" fill="#555"/>
<circle cx="487.6" cy="110.2" r="0.4" fill="#555"/>
<circle cx="374.9" cy="109.5" r="0.4" fill="#555"/>
<circle cx="611.2" cy="113.0" r="0.4" fill="#555"/>
<circle cx="468.8" cy="110.5" r="0.4" fill="#555"/>
<circle cx="559.6" cy="113.7" r="0.4" fill="#555"/>
<circle cx="391.0" cy="112.8" r="0.4" fill="#555"/>
<circle cx="447.4" cy="111.0" r="0.4" fill="#555"/>
<circle cx="413.8" cy="109.3" r="0.4" fill="#555"/>
<circle cx="440.4" cy="109.4" r="0.4" fill="#555"/>
<circle cx="356.6" cy="107.3" r="0.4" fill="#555"/>
<circle cx="500.3" cy="105.7" r="0.4" fill="#555"/>
<circle cx="398.4" cy="113.3" r="0.4" fill="#555"/>
<circle cx="423.4" cy="108.7" r="0.4" fill="#555"/>
<circle cx="414.9" cy="114.6" r="0.4" fill="#555"/>
<circle cx="375.7" cy="112.3" r="0.4" fill="#555"/>
<circle cx="575.3" cy="107.3" r="0.4" fill="#555"/>
<circle cx="462.0" cy="114.1" r="0.4" fill="#555"/>
<circle cx="512.6" cy="109.3" r="0.4" fill="#555"/>
<circle cx="363.4" cy="110.1" r="0.4" fill="#555"/>
<circle cx="447.5" cy="113.2" r="0.4" fill="#555"/>
<circle cx="428.8" cy="109.7" r="0.4" fill="#555"/>
<circle cx="520.5" cy="114.3" r="0.4" fill="#555"/>
<circle cx="443.6" cy="109.4" r="0.4" fill="#555"/>
<circle cx="502.5" cy="115.6" r="0.4" fill="#555"/>
<circle cx="401.8" cy="116.2" r="0.4" fill="#555"/>
<circle cx="537.1" cy="109.3" r="0.4" fill="#555"/>
<circle cx="525.1" cy="108.8" r="0.4" fill="#555"/>
<circle cx="370.4" cy="113.7" r="0.4" fill="#555"/>
<circle cx="450.6" cy="111.0" r="0.4" fill="#555"/>
<circle cx="481.1" cy="115.4" r="0.4" fill="#555"/>
<circle cx="548.8" cy="105.3" r="0.4" fill="#555"/>
<circle cx="506.1" cy="110.3" r="0.4" fill="#555"/>
<circle cx="472.2" cy="114.7" r="0.4" fill="#555"/>
<circle cx="459.9" cy="110.4" r="0.4" fill="#555"/>
<circle cx="583.5" cy="110.1" r="0.4" fill="#555"/>
<circle cx="479.7" cy="110.9" r="0.4" fill="#555"/>
<circle cx="566.4" cy="112.7" r="0.4" fill="#555"/>
<circle cx="544.5" cy="109.6" r="0.4" fill="#555"/>
<circle cx="362.6" cy="112.8" r="0.4" fill="#555"/>
<circle cx="496.0" cy="113.8" r="0.4" fill="#555"/>
<circle cx="552.2" cy="106.4" r="0.4" fill="#555"/>
<circle cx="409.4" cy="105.9" r="0.4" fill="#555"/>
<circle cx="564.5" cy="106.2" r="0.4" fill="#555"/>
<circle cx="374.9" cy="113.7" r="0.4" fill="#555"/>
<circle cx="498.7" cy="105.6" r="0.4" fill="#555"/>
<circle cx="529.1" cy="113.2" r="0.4" fill="#555"/>
<circle cx="477.5" cy="105.6" r="0.4" fill="#555"/>
<circle cx="531.7" cy="109.8" r="0.4" fill="#555"/>
<circle cx="503.8" cy="116.5" r="0.4" fill="#555"/>
<circle cx="564.4" cy="115.0" r="0.4" fill="#555"/>
<circle cx="389.8" cy="108.8" r="0.4" fill="#555"/>
<circle cx="486.7" cy="105.1" r="0.4" fill="#555"/>
<circle cx="609.1" cy="108.2" r="0.4" fill="#555"/>
<circle cx="420.2" cy="108.6" r="0.4" fill="#555"/>
<circle cx="418.3" cy="114.9" r="0.4" fill="#555"/>
<circle cx="496.5" cy="110.9" r="0.4" fill="#555"/>
<circle cx="461.3" cy="105.6" r="0.4" fill="#555"/>
<circle cx="431.2" cy="115.0" r="0.4" fill="#555"/>
<circle cx="560.5" cy="114.9" r="0.4" fill="#555"/>
<circle cx="418.8" cy="107.3" r="0.4" fill="#555"/>
<circle cx="365.5" cy="111.2" r="0.4" fill="#555"/>
<circle cx="449.2" cy="110.3" r="0.4" fill="#555"/>
<circle cx="479.1" cy="111.7" r="0.4" fill="#555"/>
<circle cx="447.1" cy="114.2" r="0.4" fill="#555"/>
<circle cx="404.1" cy="115.6" r="0.4" fill="#555"/>
<circle cx="496.6" cy="105.6" r="0.4" fill="#555"/>
<circle cx="433.7" cy="111.1" r="0.4" fill="#555"/>
<circle cx="458.3" cy="111.5" r="0.4" fill="#555"/>
<rect x="342.00" y="99.30" width="281.90" height="3.40" fill="#3a3a3a" stroke="none" stroke-width="0.8" />
<rect x="358.00" y="100.20" width="6.00" height="1.60" fill="#eee" stroke="none" stroke-width="0.8" />
<rect x="378.60" y="100.20" width="6.00" height="1.60" fill="#eee" stroke="none" stroke-width="0.8" />
<rect x="399.20" y="100.20" width="6.00" height="1.60" fill="#eee" stroke="none" stroke-width="0.8" />
<rect x="419.80" y="100.20" width="6.00" height="1.60" fill="#eee" stroke="none" stroke-width="0.8" />
<rect x="440.40" y="100.20" width="6.00" height="1.60" fill="#eee" stroke="none" stroke-width="0.8" />
<rect x="461.00" y="100.20" width="6.00" height="1.60" fill="#eee" stroke="none" stroke-width="0.8" />
<rect x="481.60" y="100.20" width="6.00" height="1.60" fill="#eee" stroke="none" stroke-width="0.8" />
<rect x="502.20" y="100.20" width="6.00" height="1.60" fill="#eee" stroke="none" stroke-width="0.8" />
<rect x="522.80" y="100.20" width="6.00" height="1.60" fill="#eee" stroke="none" stroke-width="0.8" />
<rect x="543.40" y="100.20" width="6.00" height="1.60" fill="#eee" stroke="none" stroke-width="0.8" />
<rect x="564.00" y="100.20" width="6.00" height="1.60" fill="#eee" stroke="none" stroke-width="0.8" />
<rect x="584.60" y="100.20" width="6.00" height="1.60" fill="#eee" stroke="none" stroke-width="0.8" />
<rect x="605.20" y="100.20" width="6.00" height="1.60" fill="#eee" stroke="none" stroke-width="0.8" />
<rect x="342.00" y="119.20" width="281.90" height="3.40" fill="#3a3a3a" stroke="none" stroke-width="0.8" />
<rect x="358.00" y="120.10" width="6.00" height="1.60" fill="#eee" stroke="none" stroke-width="0.8" />
<rect x="378.60" y="120.10" width="6.00" height="1.60" fill="#eee" stroke="none" stroke-width="0.8" />
<rect x="399.20" y="120.10" width="6.00" height="1.60" fill="#eee" stroke="none" stroke-width="0.8" />
<rect x="419.80" y="120.10" width="6.00" height="1.60" fill="#eee" stroke="none" stroke-width="0.8" />
<rect x="440.40" y="120.10" width="6.00" height="1.60" fill="#eee" stroke="none" stroke-width="0.8" />
<rect x="461.00" y="120.10" width="6.00" height="1.60" fill="#eee" stroke="none" stroke-width="0.8" />
<rect x="481.60" y="120.10" width="6.00" height="1.60" fill="#eee" stroke="none" stroke-width="0.8" />
<rect x="502.20" y="120.10" width="6.00" height="1.60" fill="#eee" stroke="none" stroke-width="0.8" />
<rect x="522.80" y="120.10" width="6.00" height="1.60" fill="#eee" stroke="none" stroke-width="0.8" />
<rect x="543.40" y="120.10" width="6.00" height="1.60" fill="#eee" stroke="none" stroke-width="0.8" />
<rect x="564.00" y="120.10" width="6.00" height="1.60" fill="#eee" stroke="none" stroke-width="0.8" />
<rect x="584.60" y="120.10" width="6.00" height="1.60" fill="#eee" stroke="none" stroke-width="0.8" />
<rect x="605.20" y="120.10" width="6.00" height="1.60" fill="#eee" stroke="none" stroke-width="0.8" />
<rect x="346.70" y="93.80" width="4.20" height="34.20" fill="#aaa" stroke="#222" stroke-width="0.8" />
<rect x="614.00" y="93.80" width="4.20" height="34.20" fill="#aaa" stroke="#222" stroke-width="0.8" />
<line x1="362.00" y1="123.00" x2="362.00" y2="177.00" stroke="#1a2e22" stroke-width="3.0" />
<line x1="362.00" y1="123.00" x2="362.00" y2="177.00" stroke="#2f5a40" stroke-width="1.6" />
<line x1="360.40" y1="127.00" x2="363.60" y2="127.00" stroke="#222" stroke-width="0.8" />
<line x1="360.40" y1="143.00" x2="363.60" y2="143.00" stroke="#222" stroke-width="0.8" />
<line x1="360.40" y1="156.00" x2="363.60" y2="156.00" stroke="#222" stroke-width="0.8" />
<line x1="360.40" y1="170.00" x2="363.60" y2="170.00" stroke="#222" stroke-width="0.8" />
<path d="M359.8,180 q2.2,-4 4.4,0" fill="none" stroke="#222" stroke-width="0.7"/>
<line x1="382.63" y1="123.00" x2="382.63" y2="177.00" stroke="#1a2e22" stroke-width="3.0" />
<line x1="382.63" y1="123.00" x2="382.63" y2="177.00" stroke="#2f5a40" stroke-width="1.6" />
<line x1="381.03" y1="127.00" x2="384.23" y2="127.00" stroke="#222" stroke-width="0.8" />
<line x1="381.03" y1="143.00" x2="384.23" y2="143.00" stroke="#222" stroke-width="0.8" />
<line x1="381.03" y1="156.00" x2="384.23" y2="156.00" stroke="#222" stroke-width="0.8" />
<line x1="381.03" y1="170.00" x2="384.23" y2="170.00" stroke="#222" stroke-width="0.8" />
<path d="M380.43,180 q2.2,-4 4.4,0" fill="none" stroke="#222" stroke-width="0.7"/>
<line x1="403.26" y1="123.00" x2="403.26" y2="177.00" stroke="#1a2e22" stroke-width="3.0" />
<line x1="403.26" y1="123.00" x2="403.26" y2="177.00" stroke="#2f5a40" stroke-width="1.6" />
<line x1="401.66" y1="127.00" x2="404.86" y2="127.00" stroke="#222" stroke-width="0.8" />
<line x1="401.66" y1="143.00" x2="404.86" y2="143.00" stroke="#222" stroke-width="0.8" />
<line x1="401.66" y1="156.00" x2="404.86" y2="156.00" stroke="#222" stroke-width="0.8" />
<line x1="401.66" y1="170.00" x2="404.86" y2="170.00" stroke="#222" stroke-width="0.8" />
<path d="M401.06,180 q2.2,-4 4.4,0" fill="none" stroke="#222" stroke-width="0.7"/>
<line x1="423.89" y1="123.00" x2="423.89" y2="177.00" stroke="#1a2e22" stroke-width="3.0" />
<line x1="423.89" y1="123.00" x2="423.89" y2="177.00" stroke="#2f5a40" stroke-width="1.6" />
<line x1="422.29" y1="127.00" x2="425.49" y2="127.00" stroke="#222" stroke-width="0.8" />
<line x1="422.29" y1="143.00" x2="425.49" y2="143.00" stroke="#222" stroke-width="0.8" />
<line x1="422.29" y1="156.00" x2="425.49" y2="156.00" stroke="#222" stroke-width="0.8" />
<line x1="422.29" y1="170.00" x2="425.49" y2="170.00" stroke="#222" stroke-width="0.8" />
<path d="M421.69,180 q2.2,-4 4.4,0" fill="none" stroke="#222" stroke-width="0.7"/>
<line x1="444.52" y1="123.00" x2="444.52" y2="177.00" stroke="#1a2e22" stroke-width="3.0" />
<line x1="444.52" y1="123.00" x2="444.52" y2="177.00" stroke="#2f5a40" stroke-width="1.6" />
<line x1="442.92" y1="127.00" x2="446.12" y2="127.00" stroke="#222" stroke-width="0.8" />
<line x1="442.92" y1="143.00" x2="446.12" y2="143.00" stroke="#222" stroke-width="0.8" />
<line x1="442.92" y1="156.00" x2="446.12" y2="156.00" stroke="#222" stroke-width="0.8" />
<line x1="442.92" y1="170.00" x2="446.12" y2="170.00" stroke="#222" stroke-width="0.8" />
<path d="M442.32,180 q2.2,-4 4.4,0" fill="none" stroke="#222" stroke-width="0.7"/>
<line x1="465.15" y1="123.00" x2="465.15" y2="177.00" stroke="#1a2e22" stroke-width="3.0" />
<line x1="465.15" y1="123.00" x2="465.15" y2="177.00" stroke="#2f5a40" stroke-width="1.6" />
<line x1="463.55" y1="127.00" x2="466.75" y2="127.00" stroke="#222" stroke-width="0.8" />
<line x1="463.55" y1="143.00" x2="466.75" y2="143.00" stroke="#222" stroke-width="0.8" />
<line x1="463.55" y1="156.00" x2="466.75" y2="156.00" stroke="#222" stroke-width="0.8" />
<line x1="463.55" y1="170.00" x2="466.75" y2="170.00" stroke="#222" stroke-width="0.8" />
<path d="M462.95,180 q2.2,-4 4.4,0" fill="none" stroke="#222" stroke-width="0.7"/>
<line x1="485.78" y1="123.00" x2="485.78" y2="177.00" stroke="#1a2e22" stroke-width="3.0" />
<line x1="485.78" y1="123.00" x2="485.78" y2="177.00" stroke="#2f5a40" stroke-width="1.6" />
<line x1="484.18" y1="127.00" x2="487.38" y2="127.00" stroke="#222" stroke-width="0.8" />
<line x1="484.18" y1="143.00" x2="487.38" y2="143.00" stroke="#222" stroke-width="0.8" />
<line x1="484.18" y1="156.00" x2="487.38" y2="156.00" stroke="#222" stroke-width="0.8" />
<line x1="484.18" y1="170.00" x2="487.38" y2="170.00" stroke="#222" stroke-width="0.8" />
<path d="M483.58,180 q2.2,-4 4.4,0" fill="none" stroke="#222" stroke-width="0.7"/>
<line x1="506.41" y1="123.00" x2="506.41" y2="177.00" stroke="#1a2e22" stroke-width="3.0" />
<line x1="506.41" y1="123.00" x2="506.41" y2="177.00" stroke="#2f5a40" stroke-width="1.6" />
<line x1="504.81" y1="127.00" x2="508.01" y2="127.00" stroke="#222" stroke-width="0.8" />
<line x1="504.81" y1="143.00" x2="508.01" y2="143.00" stroke="#222" stroke-width="0.8" />
<line x1="504.81" y1="156.00" x2="508.01" y2="156.00" stroke="#222" stroke-width="0.8" />
<line x1="504.81" y1="170.00" x2="508.01" y2="170.00" stroke="#222" stroke-width="0.8" />
<path d="M504.21,180 q2.2,-4 4.4,0" fill="none" stroke="#222" stroke-width="0.7"/>
<line x1="527.04" y1="123.00" x2="527.04" y2="177.00" stroke="#1a2e22" stroke-width="3.0" />
<line x1="527.04" y1="123.00" x2="527.04" y2="177.00" stroke="#2f5a40" stroke-width="1.6" />
<line x1="525.44" y1="127.00" x2="528.64" y2="127.00" stroke="#222" stroke-width="0.8" />
<line x1="525.44" y1="143.00" x2="528.64" y2="143.00" stroke="#222" stroke-width="0.8" />
<line x1="525.44" y1="156.00" x2="528.64" y2="156.00" stroke="#222" stroke-width="0.8" />
<line x1="525.44" y1="170.00" x2="528.64" y2="170.00" stroke="#222" stroke-width="0.8" />
<path d="M524.8399999999999,180 q2.2,-4 4.4,0" fill="none" stroke="#222" stroke-width="0.7"/>
<line x1="547.67" y1="123.00" x2="547.67" y2="177.00" stroke="#1a2e22" stroke-width="3.0" />
<line x1="547.67" y1="123.00" x2="547.67" y2="177.00" stroke="#2f5a40" stroke-width="1.6" />
<line x1="546.07" y1="127.00" x2="549.27" y2="127.00" stroke="#222" stroke-width="0.8" />
<line x1="546.07" y1="143.00" x2="549.27" y2="143.00" stroke="#222" stroke-width="0.8" />
<line x1="546.07" y1="156.00" x2="549.27" y2="156.00" stroke="#222" stroke-width="0.8" />
<line x1="546.07" y1="170.00" x2="549.27" y2="170.00" stroke="#222" stroke-width="0.8" />
<path d="M545.4699999999999,180 q2.2,-4 4.4,0" fill="none" stroke="#222" stroke-width="0.7"/>
<line x1="568.30" y1="123.00" x2="568.30" y2="177.00" stroke="#1a2e22" stroke-width="3.0" />
<line x1="568.30" y1="123.00" x2="568.30" y2="177.00" stroke="#2f5a40" stroke-width="1.6" />
<line x1="566.70" y1="127.00" x2="569.90" y2="127.00" stroke="#222" stroke-width="0.8" />
<line x1="566.70" y1="143.00" x2="569.90" y2="143.00" stroke="#222" stroke-width="0.8" />
<line x1="566.70" y1="156.00" x2="569.90" y2="156.00" stroke="#222" stroke-width="0.8" />
<line x1="566.70" y1="170.00" x2="569.90" y2="170.00" stroke="#222" stroke-width="0.8" />
<path d="M566.0999999999999,180 q2.2,-4 4.4,0" fill="none" stroke="#222" stroke-width="0.7"/>
<line x1="588.93" y1="123.00" x2="588.93" y2="177.00" stroke="#1a2e22" stroke-width="3.0" />
<line x1="588.93" y1="123.00" x2="588.93" y2="177.00" stroke="#2f5a40" stroke-width="1.6" />
<line x1="587.33" y1="127.00" x2="590.53" y2="127.00" stroke="#222" stroke-width="0.8" />
<line x1="587.33" y1="143.00" x2="590.53" y2="143.00" stroke="#222" stroke-width="0.8" />
<line x1="587.33" y1="156.00" x2="590.53" y2="156.00" stroke="#222" stroke-width="0.8" />
<line x1="587.33" y1="170.00" x2="590.53" y2="170.00" stroke="#222" stroke-width="0.8" />
<path d="M586.7299999999999,180 q2.2,-4 4.4,0" fill="none" stroke="#222" stroke-width="0.7"/>
<line x1="609.56" y1="123.00" x2="609.56" y2="177.00" stroke="#1a2e22" stroke-width="3.0" />
<line x1="609.56" y1="123.00" x2="609.56" y2="177.00" stroke="#2f5a40" stroke-width="1.6" />
<line x1="607.96" y1="127.00" x2="611.16" y2="127.00" stroke="#222" stroke-width="0.8" />
<line x1="607.96" y1="143.00" x2="611.16" y2="143.00" stroke="#222" stroke-width="0.8" />
<line x1="607.96" y1="156.00" x2="611.16" y2="156.00" stroke="#222" stroke-width="0.8" />
<line x1="607.96" y1="170.00" x2="611.16" y2="170.00" stroke="#222" stroke-width="0.8" />
<path d="M607.3599999999999,180 q2.2,-4 4.4,0" fill="none" stroke="#222" stroke-width="0.7"/>
<line x1="368.90" y1="96.50" x2="368.90" y2="103.50" stroke="#222" stroke-width="0.9" />
<line x1="368.90" y1="118.00" x2="368.90" y2="125.00" stroke="#222" stroke-width="0.9" />
<line x1="390.00" y1="96.50" x2="390.00" y2="103.50" stroke="#222" stroke-width="0.9" />
<line x1="390.00" y1="118.00" x2="390.00" y2="125.00" stroke="#222" stroke-width="0.9" />
<line x1="410.50" y1="96.50" x2="410.50" y2="103.50" stroke="#222" stroke-width="0.9" />
<line x1="410.50" y1="118.00" x2="410.50" y2="125.00" stroke="#222" stroke-width="0.9" />
<line x1="431.00" y1="96.50" x2="431.00" y2="103.50" stroke="#222" stroke-width="0.9" />
<line x1="431.00" y1="118.00" x2="431.00" y2="125.00" stroke="#222" stroke-width="0.9" />
<line x1="451.60" y1="96.50" x2="451.60" y2="103.50" stroke="#222" stroke-width="0.9" />
<line x1="451.60" y1="118.00" x2="451.60" y2="125.00" stroke="#222" stroke-width="0.9" />
<line x1="472.20" y1="96.50" x2="472.20" y2="103.50" stroke="#222" stroke-width="0.9" />
<line x1="472.20" y1="118.00" x2="472.20" y2="125.00" stroke="#222" stroke-width="0.9" />
<line x1="492.90" y1="96.50" x2="492.90" y2="103.50" stroke="#222" stroke-width="0.9" />
<line x1="492.90" y1="118.00" x2="492.90" y2="125.00" stroke="#222" stroke-width="0.9" />
<line x1="513.50" y1="96.50" x2="513.50" y2="103.50" stroke="#222" stroke-width="0.9" />
<line x1="513.50" y1="118.00" x2="513.50" y2="125.00" stroke="#222" stroke-width="0.9" />
<line x1="534.10" y1="96.50" x2="534.10" y2="103.50" stroke="#222" stroke-width="0.9" />
<line x1="534.10" y1="118.00" x2="534.10" y2="125.00" stroke="#222" stroke-width="0.9" />
<line x1="554.70" y1="96.50" x2="554.70" y2="103.50" stroke="#222" stroke-width="0.9" />
<line x1="554.70" y1="118.00" x2="554.70" y2="125.00" stroke="#222" stroke-width="0.9" />
<line x1="575.30" y1="96.50" x2="575.30" y2="103.50" stroke="#222" stroke-width="0.9" />
<line x1="575.30" y1="118.00" x2="575.30" y2="125.00" stroke="#222" stroke-width="0.9" />
<line x1="596.00" y1="96.50" x2="596.00" y2="103.50" stroke="#222" stroke-width="0.9" />
<line x1="596.00" y1="118.00" x2="596.00" y2="125.00" stroke="#222" stroke-width="0.9" />
<line x1="351.30" y1="134.50" x2="610.20" y2="134.50" stroke="#222" stroke-width="0.6" />
<line x1="360.60" y1="136.20" x2="363.40" y2="132.40" stroke="#222" stroke-width="0.7" />
<text x="361.50" y="132.60" font-size="5.0" fill="#000" text-anchor="middle" textLength="7.00" lengthAdjust="spacingAndGlyphs" font-style="italic">450</text>
<line x1="381.23" y1="136.20" x2="384.03" y2="132.40" stroke="#222" stroke-width="0.7" />
<text x="382.13" y="132.60" font-size="5.0" fill="#000" text-anchor="middle" textLength="7.00" lengthAdjust="spacingAndGlyphs" font-style="italic">600</text>
<line x1="401.86" y1="136.20" x2="404.66" y2="132.40" stroke="#222" stroke-width="0.7" />
<text x="402.76" y="132.60" font-size="5.0" fill="#000" text-anchor="middle" textLength="7.00" lengthAdjust="spacingAndGlyphs" font-style="italic">600</text>
<line x1="422.49" y1="136.20" x2="425.29" y2="132.40" stroke="#222" stroke-width="0.7" />
<text x="423.39" y="132.60" font-size="5.0" fill="#000" text-anchor="middle" textLength="7.00" lengthAdjust="spacingAndGlyphs" font-style="italic">600</text>
<line x1="443.12" y1="136.20" x2="445.92" y2="132.40" stroke="#222" stroke-width="0.7" />
<text x="444.02" y="132.60" font-size="5.0" fill="#000" text-anchor="middle" textLength="7.00" lengthAdjust="spacingAndGlyphs" font-style="italic">600</text>
<line x1="463.75" y1="136.20" x2="466.55" y2="132.40" stroke="#222" stroke-width="0.7" />
<text x="464.65" y="132.60" font-size="5.0" fill="#000" text-anchor="middle" textLength="7.00" lengthAdjust="spacingAndGlyphs" font-style="italic">600</text>
<line x1="484.38" y1="136.20" x2="487.18" y2="132.40" stroke="#222" stroke-width="0.7" />
<text x="485.28" y="132.60" font-size="5.0" fill="#000" text-anchor="middle" textLength="7.00" lengthAdjust="spacingAndGlyphs" font-style="italic">600</text>
<line x1="505.01" y1="136.20" x2="507.81" y2="132.40" stroke="#222" stroke-width="0.7" />
<text x="505.91" y="132.60" font-size="5.0" fill="#000" text-anchor="middle" textLength="7.00" lengthAdjust="spacingAndGlyphs" font-style="italic">600</text>
<line x1="525.64" y1="136.20" x2="528.44" y2="132.40" stroke="#222" stroke-width="0.7" />
<text x="526.54" y="132.60" font-size="5.0" fill="#000" text-anchor="middle" textLength="7.00" lengthAdjust="spacingAndGlyphs" font-style="italic">600</text>
<line x1="546.27" y1="136.20" x2="549.07" y2="132.40" stroke="#222" stroke-width="0.7" />
<text x="547.17" y="132.60" font-size="5.0" fill="#000" text-anchor="middle" textLength="7.00" lengthAdjust="spacingAndGlyphs" font-style="italic">600</text>
<line x1="566.90" y1="136.20" x2="569.70" y2="132.40" stroke="#222" stroke-width="0.7" />
<text x="567.80" y="132.60" font-size="5.0" fill="#000" text-anchor="middle" textLength="7.00" lengthAdjust="spacingAndGlyphs" font-style="italic">600</text>
<line x1="587.53" y1="136.20" x2="590.33" y2="132.40" stroke="#222" stroke-width="0.7" />
<text x="588.43" y="132.60" font-size="5.0" fill="#000" text-anchor="middle" textLength="7.00" lengthAdjust="spacingAndGlyphs" font-style="italic">600</text>
<line x1="608.16" y1="136.20" x2="610.96" y2="132.40" stroke="#222" stroke-width="0.7" />
<text x="609.06" y="132.60" font-size="5.0" fill="#000" text-anchor="middle" textLength="7.00" lengthAdjust="spacingAndGlyphs" font-style="italic">450</text>
<line x1="372.31" y1="133.20" x2="372.31" y2="135.80" stroke="#222" stroke-width="0.6" />
<line x1="392.94" y1="133.20" x2="392.94" y2="135.80" stroke="#222" stroke-width="0.6" />
<line x1="413.57" y1="133.20" x2="413.57" y2="135.80" stroke="#222" stroke-width="0.6" />
<line x1="434.20" y1="133.20" x2="434.20" y2="135.80" stroke="#222" stroke-width="0.6" />
<line x1="454.83" y1="133.20" x2="454.83" y2="135.80" stroke="#222" stroke-width="0.6" />
<line x1="475.46" y1="133.20" x2="475.46" y2="135.80" stroke="#222" stroke-width="0.6" />
<line x1="496.09" y1="133.20" x2="496.09" y2="135.80" stroke="#222" stroke-width="0.6" />
<line x1="516.72" y1="133.20" x2="516.72" y2="135.80" stroke="#222" stroke-width="0.6" />
<line x1="537.36" y1="133.20" x2="537.36" y2="135.80" stroke="#222" stroke-width="0.6" />
<line x1="557.98" y1="133.20" x2="557.98" y2="135.80" stroke="#222" stroke-width="0.6" />
<line x1="578.62" y1="133.20" x2="578.62" y2="135.80" stroke="#222" stroke-width="0.6" />
<line x1="599.24" y1="133.20" x2="599.24" y2="135.80" stroke="#222" stroke-width="0.6" />
<line x1="337.00" y1="153.70" x2="642.20" y2="153.70" stroke="#888" stroke-width="0.8" />
<line x1="337.00" y1="157.50" x2="642.20" y2="157.50" stroke="#888" stroke-width="0.8" />
<line x1="337.00" y1="178.00" x2="642.20" y2="178.00" stroke="#888" stroke-width="0.8" />
<line x1="337.00" y1="181.30" x2="642.20" y2="181.30" stroke="#888" stroke-width="0.8" />
<text x="220.80" y="56.30" font-size="7.3" fill="#2b2b2b" text-anchor="start" textLength="38.00" lengthAdjust="spacingAndGlyphs" >PVC PIPE Ø21</text>
<line x1="220.80" y1="57.20" x2="322.10" y2="57.20" stroke="#222" stroke-width="0.7" />
<text x="220.80" y="66.70" font-size="7.3" fill="#2b2b2b" text-anchor="start" textLength="58.60" lengthAdjust="spacingAndGlyphs" >M16-BOLT , L=0.35M</text>
<line x1="220.80" y1="67.60" x2="322.10" y2="67.60" stroke="#222" stroke-width="0.7" />
<text x="220.80" y="77.20" font-size="7.3" fill="#2b2b2b" text-anchor="start" textLength="45.50" lengthAdjust="spacingAndGlyphs" >ALUMINUM PANEL</text>
<line x1="220.80" y1="78.10" x2="322.10" y2="78.10" stroke="#222" stroke-width="0.7" />
<text x="220.80" y="89.70" font-size="7.3" fill="#2b2b2b" text-anchor="start" textLength="100.00" lengthAdjust="spacingAndGlyphs" >DOUBLE REC 50X100X2.7MM Ø600MM</text>
<line x1="220.80" y1="90.60" x2="322.10" y2="90.60" stroke="#222" stroke-width="0.7" />
<text x="220.80" y="102.60" font-size="7.3" fill="#2b2b2b" text-anchor="start" textLength="97.00" lengthAdjust="spacingAndGlyphs" >ALUMINUM PANEL EDGE CONNECTOR</text>
<line x1="220.80" y1="103.50" x2="322.10" y2="103.50" stroke="#222" stroke-width="0.7" />
<line x1="322.10" y1="57.20" x2="384.80" y2="107.40" stroke="#222" stroke-width="0.7" />
<line x1="322.10" y1="67.60" x2="368.00" y2="101.20" stroke="#222" stroke-width="0.7" />
<line x1="322.10" y1="78.10" x2="350.30" y2="100.50" stroke="#222" stroke-width="0.7" />
<line x1="322.10" y1="90.60" x2="347.70" y2="108.30" stroke="#222" stroke-width="0.7" />
<line x1="322.10" y1="103.50" x2="346.80" y2="114.50" stroke="#222" stroke-width="0.7" />
<text x="221.50" y="152.70" font-size="7.3" fill="#2b2b2b" text-anchor="start" textLength="51.40" lengthAdjust="spacingAndGlyphs" >U-HEAD ADJUSTER</text>
<line x1="221.50" y1="153.60" x2="300.50" y2="153.60" stroke="#222" stroke-width="0.7" />
<line x1="300.50" y1="153.60" x2="347.50" y2="130.00" stroke="#222" stroke-width="0.7" />
<text x="221.50" y="171.60" font-size="7.3" fill="#2b2b2b" text-anchor="start" textLength="74.50" lengthAdjust="spacingAndGlyphs" >ROUND TUBE Ø49 @500mm</text>
<line x1="221.50" y1="172.50" x2="300.50" y2="172.50" stroke="#222" stroke-width="0.7" />
<line x1="300.50" y1="172.50" x2="360.80" y2="143.30" stroke="#222" stroke-width="0.7" />
<circle cx="368.5" cy="200.1" r="9.9" fill="none" stroke="#222" stroke-width="0.8"/>
<line x1="358.60" y1="200.10" x2="423.40" y2="200.10" stroke="#222" stroke-width="0.7" />
<text x="368.50" y="206.30" font-size="5.5" fill="#2b2b2b" text-anchor="middle" textLength="11.00" lengthAdjust="spacingAndGlyphs" >TOP</text>
<text x="380.80" y="199.60" font-size="10.2" fill="#2b2b2b" text-anchor="start" textLength="106.00" lengthAdjust="spacingAndGlyphs" >TYPICAL WALL THK.350MM FORMWORK</text>
<text x="380.80" y="207.20" font-size="7.4" fill="#2b2b2b" text-anchor="start" textLength="39.00" lengthAdjust="spacingAndGlyphs" >SCALE  1:50</text>
<circle cx="368.5" cy="195" r="0.5" fill="#222"/>
<polygon points="23.00,20.50 207.00,1.50 206.00,112.00 40.00,160.00" fill="#f2f2f2" stroke="none" stroke-width="0.8" />
<line x1="23.17" y1="21.89" x2="39.83" y2="158.60" stroke="#111" stroke-width="1.55" />
<line x1="27.80" y1="21.41" x2="44.02" y2="157.40" stroke="#111" stroke-width="1.55" />
<line x1="32.41" y1="20.93" x2="48.18" y2="156.21" stroke="#111" stroke-width="1.55" />
<line x1="37.00" y1="20.44" x2="52.33" y2="155.02" stroke="#111" stroke-width="1.55" />
<line x1="41.57" y1="19.96" x2="56.46" y2="153.83" stroke="#111" stroke-width="1.55" />
<line x1="46.12" y1="19.49" x2="60.57" y2="152.65" stroke="#111" stroke-width="1.55" />
<line x1="50.64" y1="19.01" x2="64.67" y2="151.47" stroke="#111" stroke-width="1.55" />
<line x1="55.15" y1="18.54" x2="68.74" y2="150.31" stroke="#111" stroke-width="1.55" />
<line x1="59.63" y1="18.07" x2="72.79" y2="149.14" stroke="#111" stroke-width="1.55" />
<line x1="64.09" y1="17.60" x2="76.83" y2="147.98" stroke="#111" stroke-width="1.55" />
<line x1="68.53" y1="17.13" x2="80.84" y2="146.83" stroke="#111" stroke-width="1.55" />
<line x1="72.95" y1="16.67" x2="84.84" y2="145.68" stroke="#111" stroke-width="1.55" />
<line x1="77.35" y1="16.21" x2="88.81" y2="144.54" stroke="#111" stroke-width="1.55" />
<line x1="81.73" y1="15.75" x2="92.77" y2="143.41" stroke="#111" stroke-width="1.55" />
<line x1="86.09" y1="15.29" x2="96.71" y2="142.27" stroke="#111" stroke-width="1.55" />
<line x1="90.43" y1="14.84" x2="100.63" y2="141.15" stroke="#111" stroke-width="1.55" />
<line x1="94.74" y1="14.38" x2="104.53" y2="140.03" stroke="#111" stroke-width="1.55" />
<line x1="99.03" y1="13.93" x2="108.41" y2="138.91" stroke="#111" stroke-width="1.55" />
<line x1="103.31" y1="13.49" x2="112.28" y2="137.81" stroke="#111" stroke-width="1.55" />
<line x1="107.56" y1="13.04" x2="116.12" y2="136.70" stroke="#111" stroke-width="1.55" />
<line x1="111.79" y1="12.60" x2="119.94" y2="135.60" stroke="#111" stroke-width="1.55" />
<line x1="116.00" y1="12.15" x2="123.75" y2="134.51" stroke="#111" stroke-width="1.55" />
<line x1="120.19" y1="11.71" x2="127.54" y2="133.42" stroke="#111" stroke-width="1.55" />
<line x1="124.35" y1="11.28" x2="131.30" y2="132.34" stroke="#111" stroke-width="1.55" />
<line x1="128.50" y1="10.84" x2="135.05" y2="131.27" stroke="#111" stroke-width="1.55" />
<line x1="132.62" y1="10.41" x2="138.78" y2="130.20" stroke="#111" stroke-width="1.55" />
<line x1="136.73" y1="9.98" x2="142.49" y2="129.13" stroke="#111" stroke-width="1.55" />
<line x1="140.81" y1="9.55" x2="146.18" y2="128.07" stroke="#111" stroke-width="1.55" />
<line x1="144.87" y1="9.12" x2="149.85" y2="127.02" stroke="#111" stroke-width="1.55" />
<line x1="148.91" y1="8.70" x2="153.51" y2="125.97" stroke="#111" stroke-width="1.55" />
<line x1="152.93" y1="8.28" x2="157.14" y2="124.93" stroke="#111" stroke-width="1.55" />
<line x1="156.93" y1="7.86" x2="160.75" y2="123.89" stroke="#111" stroke-width="1.55" />
<line x1="160.91" y1="7.44" x2="164.35" y2="122.86" stroke="#111" stroke-width="1.55" />
<line x1="164.86" y1="7.03" x2="167.93" y2="121.83" stroke="#111" stroke-width="1.55" />
<line x1="168.80" y1="6.61" x2="171.48" y2="120.81" stroke="#111" stroke-width="1.55" />
<line x1="172.71" y1="6.20" x2="175.02" y2="119.79" stroke="#111" stroke-width="1.55" />
<line x1="176.61" y1="5.79" x2="178.54" y2="118.78" stroke="#111" stroke-width="1.55" />
<line x1="180.48" y1="5.39" x2="182.04" y2="117.78" stroke="#111" stroke-width="1.55" />
<line x1="184.33" y1="4.98" x2="185.52" y2="116.78" stroke="#111" stroke-width="1.55" />
<line x1="188.16" y1="4.58" x2="188.99" y2="115.78" stroke="#111" stroke-width="1.55" />
<line x1="191.97" y1="4.18" x2="192.43" y2="114.79" stroke="#111" stroke-width="1.55" />
<line x1="195.75" y1="3.78" x2="195.85" y2="113.81" stroke="#111" stroke-width="1.55" />
<line x1="199.52" y1="3.39" x2="199.26" y2="112.83" stroke="#111" stroke-width="1.55" />
<line x1="203.27" y1="3.00" x2="202.64" y2="111.86" stroke="#111" stroke-width="1.55" />
<line x1="206.99" y1="2.60" x2="206.01" y2="110.89" stroke="#111" stroke-width="1.55" />
<polyline points="24.26,30.88 49.32,27.98 73.74,25.15 97.52,22.39 120.67,19.71 143.18,17.10 165.07,14.57 186.31,12.11 206.93,9.72" fill="none" stroke="#111" stroke-width="1.0"/>
<polyline points="26.52,49.35 51.24,45.92 75.34,42.58 98.81,39.32 121.66,36.16 143.88,33.07 165.48,30.08 186.45,27.17 206.79,24.35" fill="none" stroke="#111" stroke-width="1.0"/>
<polyline points="28.90,68.88 53.28,64.89 77.04,61.01 100.18,57.23 122.71,53.54 144.62,49.96 165.92,46.48 186.59,43.10 206.65,39.82" fill="none" stroke="#111" stroke-width="1.0"/>
<polyline points="31.06,86.68 55.13,82.19 78.59,77.81 101.43,73.54 123.67,69.39 145.30,65.35 166.32,61.43 186.73,57.62 206.53,53.92" fill="none" stroke="#111" stroke-width="1.0"/>
<polyline points="33.10,103.42 56.87,98.45 80.04,93.60 102.61,88.89 124.57,84.29 145.93,79.83 166.69,75.49 186.85,71.27 206.41,67.18" fill="none" stroke="#111" stroke-width="1.0"/>
<polyline points="35.09,119.73 58.57,114.29 81.46,108.99 103.75,103.83 125.45,98.81 146.55,93.93 167.06,89.18 186.97,84.57 206.29,80.10" fill="none" stroke="#111" stroke-width="1.0"/>
<polyline points="37.05,135.77 60.24,129.88 82.85,124.13 104.87,118.54 126.31,113.09 147.16,107.80 167.42,102.65 187.09,97.65 206.17,92.81" fill="none" stroke="#111" stroke-width="1.0"/>
<polyline points="38.90,150.95 61.82,144.62 84.17,138.46 105.94,132.45 127.12,126.61 147.73,120.92 167.76,115.40 187.20,110.03 206.06,104.83" fill="none" stroke="#111" stroke-width="1.0"/>
<polygon points="24.75,34.87 49.73,31.85 74.08,28.91 97.80,26.05 120.88,23.26 143.34,20.55 165.16,17.92 186.34,15.36 206.90,12.88 206.87,16.20 186.37,18.78 165.25,21.43 143.49,24.17 121.11,26.99 98.09,29.89 74.45,32.86 50.17,35.92 25.26,39.05" fill="#c9c9c9" stroke="#111" stroke-width="0.9" />
<polyline points="25.55,41.42 50.42,38.22 74.65,35.10 98.26,32.06 121.24,29.10 143.58,26.22 165.30,23.43 186.39,20.71 206.85,18.07" fill="none" stroke="#111" stroke-width="0.9"/>
<line x1="14.04" y1="30.74" x2="25.54" y2="36.74" stroke="#1a1a1a" stroke-width="3.0" />
<line x1="14.04" y1="30.74" x2="25.54" y2="36.74" stroke="#d0d0d0" stroke-width="1.4" />
<line x1="10.04" y1="34.74" x2="25.54" y2="38.74" stroke="#1a1a1a" stroke-width="3.0" />
<line x1="10.04" y1="34.74" x2="25.54" y2="38.74" stroke="#c4c4c4" stroke-width="1.4" />
<line x1="205.88" y1="14.26" x2="215.88" y2="13.56" stroke="#1a1a1a" stroke-width="3.8" />
<line x1="205.88" y1="14.26" x2="215.88" y2="13.56" stroke="#aaa" stroke-width="1.8" />
<line x1="215.88" y1="11.76" x2="215.88" y2="15.76" stroke="#111" stroke-width="1.2" />
<polygon points="27.13,54.40 51.77,50.83 75.78,47.34 99.17,43.95 121.93,40.65 144.08,37.44 165.59,34.32 186.49,31.29 206.76,28.35 206.73,31.67 186.52,34.70 165.69,37.83 144.23,41.06 122.16,44.38 99.46,47.79 76.14,51.29 52.20,54.89 27.64,58.58" fill="#c9c9c9" stroke="#111" stroke-width="0.9" />
<polyline points="27.93,60.96 52.45,57.20 76.35,53.53 99.63,49.96 122.29,46.49 144.32,43.11 165.74,39.83 186.54,36.64 206.71,33.55" fill="none" stroke="#111" stroke-width="0.9"/>
<line x1="16.42" y1="50.27" x2="27.92" y2="56.27" stroke="#1a1a1a" stroke-width="3.0" />
<line x1="16.42" y1="50.27" x2="27.92" y2="56.27" stroke="#d0d0d0" stroke-width="1.4" />
<line x1="12.42" y1="54.27" x2="27.92" y2="58.27" stroke="#1a1a1a" stroke-width="3.0" />
<line x1="12.42" y1="54.27" x2="27.92" y2="58.27" stroke="#c4c4c4" stroke-width="1.4" />
<line x1="205.74" y1="29.73" x2="215.74" y2="29.03" stroke="#1a1a1a" stroke-width="3.8" />
<line x1="205.74" y1="29.73" x2="215.74" y2="29.03" stroke="#aaa" stroke-width="1.8" />
<line x1="215.74" y1="27.23" x2="215.74" y2="31.23" stroke="#111" stroke-width="1.2" />
<polygon points="29.51,73.93 53.80,69.80 77.48,65.77 100.54,61.85 122.98,58.04 144.81,54.33 166.03,50.72 186.63,47.22 206.62,43.82 206.59,47.14 186.66,50.63 166.12,54.24 144.97,57.95 123.21,61.76 100.83,65.69 77.84,69.72 54.24,73.86 30.02,78.11" fill="#c9c9c9" stroke="#111" stroke-width="0.9" />
<polyline points="30.31,80.49 54.48,76.17 78.05,71.96 101.00,67.86 123.34,63.88 145.06,60.00 166.18,56.23 186.68,52.57 206.57,49.02" fill="none" stroke="#111" stroke-width="0.9"/>
<line x1="18.80" y1="69.80" x2="30.30" y2="75.80" stroke="#1a1a1a" stroke-width="3.0" />
<line x1="18.80" y1="69.80" x2="30.30" y2="75.80" stroke="#d0d0d0" stroke-width="1.4" />
<line x1="14.80" y1="73.80" x2="30.30" y2="77.80" stroke="#1a1a1a" stroke-width="3.0" />
<line x1="14.80" y1="73.80" x2="30.30" y2="77.80" stroke="#c4c4c4" stroke-width="1.4" />
<line x1="205.60" y1="45.20" x2="215.60" y2="44.50" stroke="#1a1a1a" stroke-width="3.8" />
<line x1="205.60" y1="45.20" x2="215.60" y2="44.50" stroke="#aaa" stroke-width="1.8" />
<line x1="215.60" y1="42.70" x2="215.60" y2="46.70" stroke="#111" stroke-width="1.2" />
<polygon points="31.55,90.67 55.55,86.06 78.93,81.57 101.71,77.20 123.88,72.94 145.45,68.80 166.41,64.78 186.75,60.87 206.50,57.08 206.47,60.40 186.79,64.28 166.50,68.29 145.61,72.42 124.11,76.67 102.01,81.03 79.30,85.52 55.98,90.13 32.06,94.85" fill="#c9c9c9" stroke="#111" stroke-width="0.9" />
<polyline points="32.35,97.23 56.23,92.43 79.50,87.76 102.17,83.21 124.24,78.78 145.70,74.47 166.55,70.28 186.80,66.22 206.45,62.28" fill="none" stroke="#111" stroke-width="0.9"/>
<line x1="20.84" y1="86.54" x2="32.34" y2="92.54" stroke="#1a1a1a" stroke-width="3.0" />
<line x1="20.84" y1="86.54" x2="32.34" y2="92.54" stroke="#d0d0d0" stroke-width="1.4" />
<line x1="16.84" y1="90.54" x2="32.34" y2="94.54" stroke="#1a1a1a" stroke-width="3.0" />
<line x1="16.84" y1="90.54" x2="32.34" y2="94.54" stroke="#c4c4c4" stroke-width="1.4" />
<line x1="205.48" y1="58.46" x2="215.48" y2="57.76" stroke="#1a1a1a" stroke-width="3.8" />
<line x1="205.48" y1="58.46" x2="215.48" y2="57.76" stroke="#aaa" stroke-width="1.8" />
<line x1="215.48" y1="55.96" x2="215.48" y2="59.96" stroke="#111" stroke-width="1.2" />
<polygon points="33.59,107.41 57.29,102.32 80.39,97.37 102.89,92.54 124.78,87.85 146.08,83.28 166.78,78.84 186.88,74.52 206.38,70.34 206.35,73.66 186.91,77.94 166.87,82.35 146.24,86.89 125.01,91.57 103.18,96.38 80.75,101.32 57.73,106.39 34.10,111.59" fill="#c9c9c9" stroke="#111" stroke-width="0.9" />
<polyline points="34.39,113.97 57.97,108.69 80.96,103.56 103.35,98.55 125.14,93.68 146.33,88.95 166.93,84.34 186.93,79.87 206.33,75.54" fill="none" stroke="#111" stroke-width="0.9"/>
<line x1="22.88" y1="103.28" x2="34.38" y2="109.28" stroke="#1a1a1a" stroke-width="3.0" />
<line x1="22.88" y1="103.28" x2="34.38" y2="109.28" stroke="#d0d0d0" stroke-width="1.4" />
<line x1="18.88" y1="107.28" x2="34.38" y2="111.28" stroke="#1a1a1a" stroke-width="3.0" />
<line x1="18.88" y1="107.28" x2="34.38" y2="111.28" stroke="#c4c4c4" stroke-width="1.4" />
<line x1="205.36" y1="71.72" x2="215.36" y2="71.02" stroke="#1a1a1a" stroke-width="3.8" />
<line x1="205.36" y1="71.72" x2="215.36" y2="71.02" stroke="#aaa" stroke-width="1.8" />
<line x1="215.36" y1="69.22" x2="215.36" y2="73.22" stroke="#111" stroke-width="1.2" />
<polygon points="35.55,123.45 58.96,117.91 81.78,112.51 104.01,107.25 125.65,102.13 146.69,97.15 167.14,92.31 187.00,87.61 206.26,83.05 206.23,86.36 187.03,91.02 167.23,95.82 146.85,100.77 125.87,105.85 104.30,111.08 82.15,116.46 59.40,121.98 36.06,127.64" fill="#c9c9c9" stroke="#111" stroke-width="0.9" />
<polyline points="36.34,130.01 59.64,124.28 82.35,118.70 104.47,113.26 126.00,107.96 146.94,102.82 167.29,97.81 187.05,92.96 206.22,88.24" fill="none" stroke="#111" stroke-width="0.9"/>
<line x1="24.84" y1="119.32" x2="36.34" y2="125.32" stroke="#1a1a1a" stroke-width="3.0" />
<line x1="24.84" y1="119.32" x2="36.34" y2="125.32" stroke="#d0d0d0" stroke-width="1.4" />
<line x1="20.84" y1="123.32" x2="36.34" y2="127.32" stroke="#1a1a1a" stroke-width="3.0" />
<line x1="20.84" y1="123.32" x2="36.34" y2="127.32" stroke="#c4c4c4" stroke-width="1.4" />
<line x1="205.25" y1="84.43" x2="215.25" y2="83.73" stroke="#1a1a1a" stroke-width="3.8" />
<line x1="205.25" y1="84.43" x2="215.25" y2="83.73" stroke="#aaa" stroke-width="1.8" />
<line x1="215.25" y1="81.93" x2="215.25" y2="85.93" stroke="#111" stroke-width="1.2" />
<polygon points="37.50,139.49 60.63,133.49 83.18,127.65 105.14,121.95 126.51,116.41 147.30,111.02 167.50,105.78 187.12,100.69 206.15,95.76 206.12,99.07 187.15,104.11 167.59,109.29 147.46,114.64 126.73,120.14 105.43,125.79 83.54,131.60 61.07,137.56 38.01,143.68" fill="#c9c9c9" stroke="#111" stroke-width="0.9" />
<polyline points="38.30,146.05 61.31,139.86 83.75,133.84 105.59,127.96 126.86,122.25 147.54,116.69 167.65,111.29 187.16,106.04 206.10,100.95" fill="none" stroke="#111" stroke-width="0.9"/>
<line x1="26.79" y1="135.37" x2="38.29" y2="141.37" stroke="#1a1a1a" stroke-width="3.0" />
<line x1="26.79" y1="135.37" x2="38.29" y2="141.37" stroke="#d0d0d0" stroke-width="1.4" />
<line x1="22.79" y1="139.37" x2="38.29" y2="143.37" stroke="#1a1a1a" stroke-width="3.0" />
<line x1="22.79" y1="139.37" x2="38.29" y2="143.37" stroke="#c4c4c4" stroke-width="1.4" />
<line x1="205.13" y1="97.14" x2="215.13" y2="96.44" stroke="#1a1a1a" stroke-width="3.8" />
<line x1="205.13" y1="97.14" x2="215.13" y2="96.44" stroke="#aaa" stroke-width="1.8" />
<line x1="215.13" y1="94.64" x2="215.13" y2="98.64" stroke="#111" stroke-width="1.2" />
<polygon points="39.29,154.14 62.16,147.72 84.45,141.47 106.16,135.38 127.30,129.45 147.85,123.68 167.83,118.08 187.22,112.64 206.04,107.36 206.01,110.67 187.25,116.05 167.92,121.59 148.01,127.30 127.52,133.18 106.46,139.22 84.81,145.42 62.59,151.79 39.80,158.33" fill="#c9c9c9" stroke="#111" stroke-width="0.9" />
<polyline points="40.08,160.70 62.84,154.09 85.02,147.66 106.62,141.39 127.65,135.29 148.10,129.35 167.97,123.59 187.27,117.99 206.00,112.55" fill="none" stroke="#111" stroke-width="0.9"/>
<line x1="28.58" y1="150.01" x2="40.08" y2="156.01" stroke="#1a1a1a" stroke-width="3.0" />
<line x1="28.58" y1="150.01" x2="40.08" y2="156.01" stroke="#d0d0d0" stroke-width="1.4" />
<line x1="24.58" y1="154.01" x2="40.08" y2="158.01" stroke="#1a1a1a" stroke-width="3.0" />
<line x1="24.58" y1="154.01" x2="40.08" y2="158.01" stroke="#c4c4c4" stroke-width="1.4" />
<line x1="205.03" y1="108.74" x2="215.03" y2="108.04" stroke="#1a1a1a" stroke-width="3.8" />
<line x1="205.03" y1="108.74" x2="215.03" y2="108.04" stroke="#aaa" stroke-width="1.8" />
<line x1="215.03" y1="106.24" x2="215.03" y2="110.24" stroke="#111" stroke-width="1.2" />
<polygon points="23.00,20.50 207.00,1.50 207.00,4.70 23.00,24.30" fill="#d8d8d8" stroke="#111" stroke-width="1.0" />
<polygon points="19.00,19.50 23.00,20.50 40.00,160.00 32.00,156.00" fill="#d8d8d8" stroke="#111" stroke-width="1.0" />
<line x1="21.00" y1="20.50" x2="36.00" y2="158.00" stroke="#111" stroke-width="0.8" />
<line x1="207.00" y1="1.50" x2="206.00" y2="112.00" stroke="#111" stroke-width="1.0" />
<line x1="26.70" y1="181.00" x2="228.70" y2="115.80" stroke="#222" stroke-width="3.2" />
<line x1="26.70" y1="181.00" x2="228.70" y2="115.80" stroke="#e8e8e8" stroke-width="1.9000000000000001" />
<line x1="35.20" y1="193.20" x2="242.00" y2="122.40" stroke="#222" stroke-width="3.2" />
<line x1="35.20" y1="193.20" x2="242.00" y2="122.40" stroke="#e8e8e8" stroke-width="1.9000000000000001" />
<line x1="33.46" y1="72.70" x2="61.30" y2="179.77" stroke="#222" stroke-width="2.6" />
<line x1="33.46" y1="72.70" x2="61.30" y2="179.77" stroke="#cfcfcf" stroke-width="1.3" />
<line x1="39.63" y1="151.65" x2="52.30" y2="168.23" stroke="#222" stroke-width="2.3" />
<line x1="39.63" y1="151.65" x2="52.30" y2="168.23" stroke="#cfcfcf" stroke-width="0.9999999999999998" />
<line x1="46.63" y1="149.65" x2="53.30" y2="168.23" stroke="#222" stroke-width="2.0" />
<line x1="46.63" y1="149.65" x2="53.30" y2="168.23" stroke="#cfcfcf" stroke-width="0.7" />
<line x1="50.30" y1="166.23" x2="54.30" y2="170.23" stroke="#111" stroke-width="1.4" />
<line x1="50.30" y1="170.23" x2="54.30" y2="166.23" stroke="#111" stroke-width="1.4" />
<line x1="52.30" y1="169.23" x2="52.30" y2="172.23" stroke="#111" stroke-width="1.2" />
<line x1="61.30" y1="177.77" x2="61.30" y2="183.77" stroke="#111" stroke-width="1.8" />
<line x1="59.30" y1="183.27" x2="63.30" y2="183.27" stroke="#111" stroke-width="1.2" />
<line x1="51.35" y1="69.89" x2="78.80" y2="173.79" stroke="#222" stroke-width="2.6" />
<line x1="51.35" y1="69.89" x2="78.80" y2="173.79" stroke="#cfcfcf" stroke-width="1.3" />
<line x1="57.81" y1="146.85" x2="69.80" y2="162.58" stroke="#222" stroke-width="2.3" />
<line x1="57.81" y1="146.85" x2="69.80" y2="162.58" stroke="#cfcfcf" stroke-width="0.9999999999999998" />
<line x1="64.81" y1="144.85" x2="70.80" y2="162.58" stroke="#222" stroke-width="2.0" />
<line x1="64.81" y1="144.85" x2="70.80" y2="162.58" stroke="#cfcfcf" stroke-width="0.7" />
<line x1="67.80" y1="160.58" x2="71.80" y2="164.58" stroke="#111" stroke-width="1.4" />
<line x1="67.80" y1="164.58" x2="71.80" y2="160.58" stroke="#111" stroke-width="1.4" />
<line x1="69.80" y1="163.58" x2="69.80" y2="166.58" stroke="#111" stroke-width="1.2" />
<line x1="78.80" y1="171.79" x2="78.80" y2="177.79" stroke="#111" stroke-width="1.8" />
<line x1="76.80" y1="177.29" x2="80.80" y2="177.29" stroke="#111" stroke-width="1.2" />
<line x1="67.91" y1="67.30" x2="95.00" y2="168.25" stroke="#222" stroke-width="2.6" />
<line x1="67.91" y1="67.30" x2="95.00" y2="168.25" stroke="#cfcfcf" stroke-width="1.3" />
<line x1="74.64" y1="142.40" x2="86.00" y2="157.35" stroke="#222" stroke-width="2.3" />
<line x1="74.64" y1="142.40" x2="86.00" y2="157.35" stroke="#cfcfcf" stroke-width="0.9999999999999998" />
<line x1="81.64" y1="140.40" x2="87.00" y2="157.35" stroke="#222" stroke-width="2.0" />
<line x1="81.64" y1="140.40" x2="87.00" y2="157.35" stroke="#cfcfcf" stroke-width="0.7" />
<line x1="84.00" y1="155.35" x2="88.00" y2="159.35" stroke="#111" stroke-width="1.4" />
<line x1="84.00" y1="159.35" x2="88.00" y2="155.35" stroke="#111" stroke-width="1.4" />
<line x1="86.00" y1="158.35" x2="86.00" y2="161.35" stroke="#111" stroke-width="1.2" />
<line x1="95.00" y1="166.25" x2="95.00" y2="172.25" stroke="#111" stroke-width="1.8" />
<line x1="93.00" y1="171.75" x2="97.00" y2="171.75" stroke="#111" stroke-width="1.2" />
<line x1="83.23" y1="64.89" x2="110.00" y2="163.12" stroke="#222" stroke-width="2.6" />
<line x1="83.23" y1="64.89" x2="110.00" y2="163.12" stroke="#cfcfcf" stroke-width="1.3" />
<line x1="90.23" y1="138.29" x2="101.00" y2="152.50" stroke="#222" stroke-width="2.3" />
<line x1="90.23" y1="138.29" x2="101.00" y2="152.50" stroke="#cfcfcf" stroke-width="0.9999999999999998" />
<line x1="97.23" y1="136.29" x2="102.00" y2="152.50" stroke="#222" stroke-width="2.0" />
<line x1="97.23" y1="136.29" x2="102.00" y2="152.50" stroke="#cfcfcf" stroke-width="0.7" />
<line x1="99.00" y1="150.50" x2="103.00" y2="154.50" stroke="#111" stroke-width="1.4" />
<line x1="99.00" y1="154.50" x2="103.00" y2="150.50" stroke="#111" stroke-width="1.4" />
<line x1="101.00" y1="153.50" x2="101.00" y2="156.50" stroke="#111" stroke-width="1.2" />
<line x1="110.00" y1="161.12" x2="110.00" y2="167.12" stroke="#111" stroke-width="1.8" />
<line x1="108.00" y1="166.62" x2="112.00" y2="166.62" stroke="#111" stroke-width="1.2" />
<line x1="98.58" y1="62.49" x2="125.00" y2="157.99" stroke="#222" stroke-width="2.6" />
<line x1="98.58" y1="62.49" x2="125.00" y2="157.99" stroke="#cfcfcf" stroke-width="1.3" />
<line x1="105.81" y1="134.17" x2="116.00" y2="147.66" stroke="#222" stroke-width="2.3" />
<line x1="105.81" y1="134.17" x2="116.00" y2="147.66" stroke="#cfcfcf" stroke-width="0.9999999999999998" />
<line x1="112.81" y1="132.17" x2="117.00" y2="147.66" stroke="#222" stroke-width="2.0" />
<line x1="112.81" y1="132.17" x2="117.00" y2="147.66" stroke="#cfcfcf" stroke-width="0.7" />
<line x1="114.00" y1="145.66" x2="118.00" y2="149.66" stroke="#111" stroke-width="1.4" />
<line x1="114.00" y1="149.66" x2="118.00" y2="145.66" stroke="#111" stroke-width="1.4" />
<line x1="116.00" y1="148.66" x2="116.00" y2="151.66" stroke="#111" stroke-width="1.2" />
<line x1="125.00" y1="155.99" x2="125.00" y2="161.99" stroke="#111" stroke-width="1.8" />
<line x1="123.00" y1="161.49" x2="127.00" y2="161.49" stroke="#111" stroke-width="1.2" />
<line x1="112.89" y1="60.24" x2="139.00" y2="153.20" stroke="#222" stroke-width="2.6" />
<line x1="112.89" y1="60.24" x2="139.00" y2="153.20" stroke="#cfcfcf" stroke-width="1.3" />
<line x1="120.36" y1="130.33" x2="130.00" y2="143.13" stroke="#222" stroke-width="2.3" />
<line x1="120.36" y1="130.33" x2="130.00" y2="143.13" stroke="#cfcfcf" stroke-width="0.9999999999999998" />
<line x1="127.36" y1="128.33" x2="131.00" y2="143.13" stroke="#222" stroke-width="2.0" />
<line x1="127.36" y1="128.33" x2="131.00" y2="143.13" stroke="#cfcfcf" stroke-width="0.7" />
<line x1="128.00" y1="141.13" x2="132.00" y2="145.13" stroke="#111" stroke-width="1.4" />
<line x1="128.00" y1="145.13" x2="132.00" y2="141.13" stroke="#111" stroke-width="1.4" />
<line x1="130.00" y1="144.13" x2="130.00" y2="147.13" stroke="#111" stroke-width="1.2" />
<line x1="139.00" y1="151.20" x2="139.00" y2="157.20" stroke="#111" stroke-width="1.8" />
<line x1="137.00" y1="156.70" x2="141.00" y2="156.70" stroke="#111" stroke-width="1.2" />
<line x1="127.02" y1="58.03" x2="152.80" y2="148.48" stroke="#222" stroke-width="2.6" />
<line x1="127.02" y1="58.03" x2="152.80" y2="148.48" stroke="#cfcfcf" stroke-width="1.3" />
<line x1="134.70" y1="126.55" x2="143.80" y2="138.68" stroke="#222" stroke-width="2.3" />
<line x1="134.70" y1="126.55" x2="143.80" y2="138.68" stroke="#cfcfcf" stroke-width="0.9999999999999998" />
<line x1="141.70" y1="124.55" x2="144.80" y2="138.68" stroke="#222" stroke-width="2.0" />
<line x1="141.70" y1="124.55" x2="144.80" y2="138.68" stroke="#cfcfcf" stroke-width="0.7" />
<line x1="141.80" y1="136.68" x2="145.80" y2="140.68" stroke="#111" stroke-width="1.4" />
<line x1="141.80" y1="140.68" x2="145.80" y2="136.68" stroke="#111" stroke-width="1.4" />
<line x1="143.80" y1="139.68" x2="143.80" y2="142.68" stroke="#111" stroke-width="1.2" />
<line x1="152.80" y1="146.48" x2="152.80" y2="152.48" stroke="#111" stroke-width="1.8" />
<line x1="150.80" y1="151.98" x2="154.80" y2="151.98" stroke="#111" stroke-width="1.2" />
<line x1="140.22" y1="55.96" x2="165.70" y2="144.07" stroke="#222" stroke-width="2.6" />
<line x1="140.22" y1="55.96" x2="165.70" y2="144.07" stroke="#cfcfcf" stroke-width="1.3" />
<line x1="148.10" y1="123.01" x2="156.70" y2="134.51" stroke="#222" stroke-width="2.3" />
<line x1="148.10" y1="123.01" x2="156.70" y2="134.51" stroke="#cfcfcf" stroke-width="0.9999999999999998" />
<line x1="155.10" y1="121.01" x2="157.70" y2="134.51" stroke="#222" stroke-width="2.0" />
<line x1="155.10" y1="121.01" x2="157.70" y2="134.51" stroke="#cfcfcf" stroke-width="0.7" />
<line x1="154.70" y1="132.51" x2="158.70" y2="136.51" stroke="#111" stroke-width="1.4" />
<line x1="154.70" y1="136.51" x2="158.70" y2="132.51" stroke="#111" stroke-width="1.4" />
<line x1="156.70" y1="135.51" x2="156.70" y2="138.51" stroke="#111" stroke-width="1.2" />
<line x1="165.70" y1="142.07" x2="165.70" y2="148.07" stroke="#111" stroke-width="1.8" />
<line x1="163.70" y1="147.57" x2="167.70" y2="147.57" stroke="#111" stroke-width="1.2" />
<line x1="153.23" y1="53.92" x2="178.40" y2="139.73" stroke="#222" stroke-width="2.6" />
<line x1="153.23" y1="53.92" x2="178.40" y2="139.73" stroke="#cfcfcf" stroke-width="1.3" />
<line x1="161.29" y1="119.53" x2="169.40" y2="130.41" stroke="#222" stroke-width="2.3" />
<line x1="161.29" y1="119.53" x2="169.40" y2="130.41" stroke="#cfcfcf" stroke-width="0.9999999999999998" />
<line x1="168.29" y1="117.53" x2="170.40" y2="130.41" stroke="#222" stroke-width="2.0" />
<line x1="168.29" y1="117.53" x2="170.40" y2="130.41" stroke="#cfcfcf" stroke-width="0.7" />
<line x1="167.40" y1="128.41" x2="171.40" y2="132.41" stroke="#111" stroke-width="1.4" />
<line x1="167.40" y1="132.41" x2="171.40" y2="128.41" stroke="#111" stroke-width="1.4" />
<line x1="169.40" y1="131.41" x2="169.40" y2="134.41" stroke="#111" stroke-width="1.2" />
<line x1="178.40" y1="137.73" x2="178.40" y2="143.73" stroke="#111" stroke-width="1.8" />
<line x1="176.40" y1="143.23" x2="180.40" y2="143.23" stroke="#111" stroke-width="1.2" />
<line x1="165.41" y1="52.01" x2="190.30" y2="135.66" stroke="#222" stroke-width="2.6" />
<line x1="165.41" y1="52.01" x2="190.30" y2="135.66" stroke="#cfcfcf" stroke-width="1.3" />
<line x1="173.66" y1="116.26" x2="181.30" y2="126.56" stroke="#222" stroke-width="2.3" />
<line x1="173.66" y1="116.26" x2="181.30" y2="126.56" stroke="#cfcfcf" stroke-width="0.9999999999999998" />
<line x1="180.66" y1="114.26" x2="182.30" y2="126.56" stroke="#222" stroke-width="2.0" />
<line x1="180.66" y1="114.26" x2="182.30" y2="126.56" stroke="#cfcfcf" stroke-width="0.7" />
<line x1="179.30" y1="124.56" x2="183.30" y2="128.56" stroke="#111" stroke-width="1.4" />
<line x1="179.30" y1="128.56" x2="183.30" y2="124.56" stroke="#111" stroke-width="1.4" />
<line x1="181.30" y1="127.56" x2="181.30" y2="130.56" stroke="#111" stroke-width="1.2" />
<line x1="190.30" y1="133.66" x2="190.30" y2="139.66" stroke="#111" stroke-width="1.8" />
<line x1="188.30" y1="139.16" x2="192.30" y2="139.16" stroke="#111" stroke-width="1.2" />
<line x1="176.25" y1="50.31" x2="200.90" y2="132.03" stroke="#222" stroke-width="2.6" />
<line x1="176.25" y1="50.31" x2="200.90" y2="132.03" stroke="#cfcfcf" stroke-width="1.3" />
<line x1="184.67" y1="113.35" x2="191.90" y2="123.14" stroke="#222" stroke-width="2.3" />
<line x1="184.67" y1="113.35" x2="191.90" y2="123.14" stroke="#cfcfcf" stroke-width="0.9999999999999998" />
<line x1="191.67" y1="111.35" x2="192.90" y2="123.14" stroke="#222" stroke-width="2.0" />
<line x1="191.67" y1="111.35" x2="192.90" y2="123.14" stroke="#cfcfcf" stroke-width="0.7" />
<line x1="189.90" y1="121.14" x2="193.90" y2="125.14" stroke="#111" stroke-width="1.4" />
<line x1="189.90" y1="125.14" x2="193.90" y2="121.14" stroke="#111" stroke-width="1.4" />
<line x1="191.90" y1="124.14" x2="191.90" y2="127.14" stroke="#111" stroke-width="1.2" />
<line x1="200.90" y1="130.03" x2="200.90" y2="136.03" stroke="#111" stroke-width="1.8" />
<line x1="198.90" y1="135.53" x2="202.90" y2="135.53" stroke="#111" stroke-width="1.2" />
<line x1="188.47" y1="48.39" x2="212.80" y2="127.96" stroke="#222" stroke-width="2.6" />
<line x1="188.47" y1="48.39" x2="212.80" y2="127.96" stroke="#cfcfcf" stroke-width="1.3" />
<line x1="197.04" y1="110.09" x2="203.80" y2="119.30" stroke="#222" stroke-width="2.3" />
<line x1="197.04" y1="110.09" x2="203.80" y2="119.30" stroke="#cfcfcf" stroke-width="0.9999999999999998" />
<line x1="204.04" y1="108.09" x2="204.80" y2="119.30" stroke="#222" stroke-width="2.0" />
<line x1="204.04" y1="108.09" x2="204.80" y2="119.30" stroke="#cfcfcf" stroke-width="0.7" />
<line x1="201.80" y1="117.30" x2="205.80" y2="121.30" stroke="#111" stroke-width="1.4" />
<line x1="201.80" y1="121.30" x2="205.80" y2="117.30" stroke="#111" stroke-width="1.4" />
<line x1="203.80" y1="120.30" x2="203.80" y2="123.30" stroke="#111" stroke-width="1.2" />
<line x1="212.80" y1="125.96" x2="212.80" y2="131.96" stroke="#111" stroke-width="1.8" />
<line x1="210.80" y1="131.46" x2="214.80" y2="131.46" stroke="#111" stroke-width="1.2" />
<line x1="197.85" y1="46.92" x2="222.00" y2="124.81" stroke="#222" stroke-width="2.6" />
<line x1="197.85" y1="46.92" x2="222.00" y2="124.81" stroke="#cfcfcf" stroke-width="1.3" />
<line x1="206.59" y1="107.57" x2="213.00" y2="116.33" stroke="#222" stroke-width="2.3" />
<line x1="206.59" y1="107.57" x2="213.00" y2="116.33" stroke="#cfcfcf" stroke-width="0.9999999999999998" />
<line x1="213.59" y1="105.57" x2="214.00" y2="116.33" stroke="#222" stroke-width="2.0" />
<line x1="213.59" y1="105.57" x2="214.00" y2="116.33" stroke="#cfcfcf" stroke-width="0.7" />
<line x1="211.00" y1="114.33" x2="215.00" y2="118.33" stroke="#111" stroke-width="1.4" />
<line x1="211.00" y1="118.33" x2="215.00" y2="114.33" stroke="#111" stroke-width="1.4" />
<line x1="213.00" y1="117.33" x2="213.00" y2="120.33" stroke="#111" stroke-width="1.2" />
<line x1="222.00" y1="122.81" x2="222.00" y2="128.81" stroke="#111" stroke-width="1.8" />
<line x1="220.00" y1="128.31" x2="224.00" y2="128.31" stroke="#111" stroke-width="1.2" />
<line x1="204.00" y1="46.00" x2="224.50" y2="119.00" stroke="#222" stroke-width="2.6" />
<line x1="204.00" y1="46.00" x2="224.50" y2="119.00" stroke="#d0d0d0" stroke-width="1.3" />
<circle cx="125.3" cy="183.3" r="10.3" fill="none" stroke="#222" stroke-width="0.8"/>
<line x1="115.30" y1="183.30" x2="188.60" y2="183.30" stroke="#222" stroke-width="0.7" />
<text x="125.60" y="189.30" font-size="6.3" fill="#2b2b2b" text-anchor="middle" textLength="6.00" lengthAdjust="spacingAndGlyphs" >ST</text>
<circle cx="125.6" cy="179" r="0.5" fill="#222"/>
<text x="136.60" y="182.00" font-size="10" fill="#2b2b2b" text-anchor="start" textLength="52.00" lengthAdjust="spacingAndGlyphs" >PERSPECTIVE VIEW</text>
<text x="136.60" y="190.00" font-size="7.3" fill="#2b2b2b" text-anchor="start" textLength="44.00" lengthAdjust="spacingAndGlyphs" >SCALE   1:100</text>
</svg></body></html>
